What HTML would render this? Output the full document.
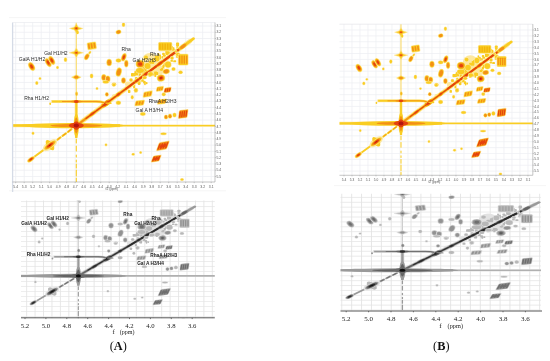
<!DOCTYPE html>
<html><head><meta charset="utf-8"><style>
html,body{margin:0;padding:0;background:#fff;}
svg{display:block;}
</style></head><body>
<svg width="550" height="361" viewBox="0 0 550 361">
<defs>
<filter id="bl" x="-5%" y="-5%" width="110%" height="110%"><feGaussianBlur stdDeviation="0.6"/></filter>
<clipPath id="cA"><rect x="12.5" y="22.5" width="202.5" height="159.5"/></clipPath>
<clipPath id="cB"><rect x="10.9" y="19.7" width="205.5" height="161.2"/></clipPath>
<clipPath id="cAb"><rect x="21" y="200.5" width="193.8" height="117.7"/></clipPath>
<clipPath id="cBb"><rect x="340.5" y="193.7" width="200.5" height="116.7"/></clipPath>
</defs>
<rect width="550" height="361" fill="#fff"/>
<g stroke="#eeeeee" stroke-width="0.6">
<line x1="9" y1="17.6" x2="226" y2="17.6"/>
<line x1="9" y1="190.8" x2="226" y2="190.8"/>
<line x1="334" y1="185.6" x2="546" y2="185.6"/>
</g>
<g clip-path="url(#cA)" filter="url(#bl)"><g stroke="#eceef2" stroke-width="0.75"><line x1="7.20" y1="10.0" x2="7.20" y2="195.0"/><line x1="15.70" y1="10.0" x2="15.70" y2="195.0"/><line x1="24.20" y1="10.0" x2="24.20" y2="195.0"/><line x1="32.70" y1="10.0" x2="32.70" y2="195.0"/><line x1="41.20" y1="10.0" x2="41.20" y2="195.0"/><line x1="49.70" y1="10.0" x2="49.70" y2="195.0"/><line x1="58.20" y1="10.0" x2="58.20" y2="195.0"/><line x1="66.70" y1="10.0" x2="66.70" y2="195.0"/><line x1="75.20" y1="10.0" x2="75.20" y2="195.0"/><line x1="83.70" y1="10.0" x2="83.70" y2="195.0"/><line x1="92.20" y1="10.0" x2="92.20" y2="195.0"/><line x1="100.70" y1="10.0" x2="100.70" y2="195.0"/><line x1="109.20" y1="10.0" x2="109.20" y2="195.0"/><line x1="117.70" y1="10.0" x2="117.70" y2="195.0"/><line x1="126.20" y1="10.0" x2="126.20" y2="195.0"/><line x1="134.70" y1="10.0" x2="134.70" y2="195.0"/><line x1="143.20" y1="10.0" x2="143.20" y2="195.0"/><line x1="151.70" y1="10.0" x2="151.70" y2="195.0"/><line x1="160.20" y1="10.0" x2="160.20" y2="195.0"/><line x1="168.70" y1="10.0" x2="168.70" y2="195.0"/><line x1="177.20" y1="10.0" x2="177.20" y2="195.0"/><line x1="185.70" y1="10.0" x2="185.70" y2="195.0"/><line x1="194.20" y1="10.0" x2="194.20" y2="195.0"/><line x1="202.70" y1="10.0" x2="202.70" y2="195.0"/><line x1="211.20" y1="10.0" x2="211.20" y2="195.0"/><line x1="219.70" y1="10.0" x2="219.70" y2="195.0"/></g><g stroke="#eceef2" stroke-width="0.75"><line x1="0.0" y1="19.73" x2="230.0" y2="19.73"/><line x1="0.0" y1="26.00" x2="230.0" y2="26.00"/><line x1="0.0" y1="32.27" x2="230.0" y2="32.27"/><line x1="0.0" y1="38.54" x2="230.0" y2="38.54"/><line x1="0.0" y1="44.81" x2="230.0" y2="44.81"/><line x1="0.0" y1="51.08" x2="230.0" y2="51.08"/><line x1="0.0" y1="57.35" x2="230.0" y2="57.35"/><line x1="0.0" y1="63.62" x2="230.0" y2="63.62"/><line x1="0.0" y1="69.89" x2="230.0" y2="69.89"/><line x1="0.0" y1="76.16" x2="230.0" y2="76.16"/><line x1="0.0" y1="82.43" x2="230.0" y2="82.43"/><line x1="0.0" y1="88.70" x2="230.0" y2="88.70"/><line x1="0.0" y1="94.97" x2="230.0" y2="94.97"/><line x1="0.0" y1="101.24" x2="230.0" y2="101.24"/><line x1="0.0" y1="107.51" x2="230.0" y2="107.51"/><line x1="0.0" y1="113.78" x2="230.0" y2="113.78"/><line x1="0.0" y1="120.05" x2="230.0" y2="120.05"/><line x1="0.0" y1="126.32" x2="230.0" y2="126.32"/><line x1="0.0" y1="132.59" x2="230.0" y2="132.59"/><line x1="0.0" y1="138.86" x2="230.0" y2="138.86"/><line x1="0.0" y1="145.13" x2="230.0" y2="145.13"/><line x1="0.0" y1="151.40" x2="230.0" y2="151.40"/><line x1="0.0" y1="157.67" x2="230.0" y2="157.67"/><line x1="0.0" y1="163.94" x2="230.0" y2="163.94"/><line x1="0.0" y1="170.21" x2="230.0" y2="170.21"/><line x1="0.0" y1="176.48" x2="230.0" y2="176.48"/><line x1="0.0" y1="182.75" x2="230.0" y2="182.75"/></g><ellipse cx="150.00" cy="60.00" rx="8.00" ry="7.00" fill="#fde8a0"/><ellipse cx="158.00" cy="70.00" rx="7.00" ry="5.00" fill="#fde8a0"/><ellipse cx="143.00" cy="72.00" rx="5.00" ry="4.50" fill="#fde8a0"/><ellipse cx="170.00" cy="50.00" rx="5.00" ry="4.00" fill="#fde8a0"/><ellipse cx="140.00" cy="80.00" rx="3.00" ry="2.50" fill="#fde8a0"/><ellipse cx="128.00" cy="84.00" rx="3.00" ry="2.50" fill="#fde8a0"/><ellipse cx="115.00" cy="96.00" rx="3.00" ry="2.00" fill="#fde8a0"/><rect x="144.05" y="67.49" width="1.58" height="3.61" rx="0.7" fill="#f9cd24"/><rect x="131.96" y="73.30" width="1.86" height="1.99" rx="0.7" fill="#f9cd24"/><rect x="148.63" y="66.12" width="2.22" height="3.62" rx="0.7" fill="#f9cd24"/><rect x="133.19" y="74.28" width="2.49" height="1.94" rx="0.7" fill="#f9cd24"/><rect x="157.66" y="52.98" width="1.58" height="3.69" rx="0.7" fill="#f9cd24"/><rect x="141.82" y="68.00" width="2.47" height="3.03" rx="0.7" fill="#f9cd24"/><rect x="162.17" y="52.75" width="2.59" height="2.62" rx="0.7" fill="#f9cd24"/><rect x="155.21" y="57.93" width="2.55" height="2.89" rx="0.7" fill="#f9cd24"/><rect x="154.11" y="71.42" width="3.07" height="2.60" rx="0.7" fill="#f9cd24"/><rect x="139.96" y="68.39" width="1.91" height="3.06" rx="0.7" fill="#f9cd24"/><rect x="154.32" y="72.97" width="1.99" height="3.96" rx="0.7" fill="#f9cd24"/><rect x="133.10" y="84.51" width="2.08" height="3.85" rx="0.7" fill="#f9cd24"/><rect x="148.69" y="60.88" width="2.47" height="3.73" rx="0.7" fill="#f9cd24"/><rect x="143.07" y="80.70" width="2.49" height="2.80" rx="0.7" fill="#f9cd24"/><rect x="170.36" y="59.91" width="2.63" height="1.93" rx="0.7" fill="#f9cd24"/><rect x="163.40" y="63.17" width="2.16" height="3.27" rx="0.7" fill="#f9cd24"/><rect x="127.90" y="90.11" width="2.54" height="2.89" rx="0.7" fill="#f9cd24"/><rect x="138.39" y="80.97" width="1.92" height="2.66" rx="0.7" fill="#f9cd24"/><rect x="172.22" y="48.66" width="2.18" height="2.41" rx="0.7" fill="#f9cd24"/><rect x="134.13" y="89.59" width="1.97" height="2.71" rx="0.7" fill="#f9cd24"/><rect x="145.78" y="81.99" width="1.76" height="2.19" rx="0.7" fill="#f9cd24"/><rect x="138.61" y="74.61" width="2.91" height="2.20" rx="0.7" fill="#f9cd24"/><rect x="141.60" y="69.20" width="2.13" height="3.05" rx="0.7" fill="#f9cd24"/><rect x="176.07" y="42.58" width="2.98" height="3.89" rx="0.7" fill="#f9cd24"/><rect x="162.30" y="65.03" width="2.17" height="2.86" rx="0.7" fill="#f9cd24"/><rect x="147.90" y="67.71" width="1.85" height="2.16" rx="0.7" fill="#f9cd24"/><rect x="144.45" y="69.37" width="2.46" height="2.98" rx="0.7" fill="#f9cd24"/><rect x="176.42" y="46.28" width="1.85" height="2.63" rx="0.7" fill="#f9cd24"/><rect x="159.84" y="68.75" width="2.31" height="2.05" rx="0.7" fill="#f9cd24"/><rect x="152.36" y="73.46" width="2.03" height="2.12" rx="0.7" fill="#f9cd24"/><rect x="165.64" y="62.93" width="2.68" height="2.94" rx="0.7" fill="#f9cd24"/><rect x="137.46" y="82.00" width="2.42" height="1.86" rx="0.7" fill="#f9cd24"/><rect x="154.49" y="57.84" width="1.94" height="2.61" rx="0.7" fill="#f9cd24"/><rect x="135.27" y="73.05" width="2.82" height="2.53" rx="0.7" fill="#f9cd24"/><rect x="138.15" y="68.38" width="2.89" height="3.43" rx="0.7" fill="#f9cd24"/><rect x="139.02" y="82.74" width="1.55" height="1.86" rx="0.7" fill="#f9cd24"/><rect x="141.27" y="79.14" width="2.53" height="2.56" rx="0.7" fill="#f9cd24"/><rect x="168.99" y="64.56" width="2.12" height="2.29" rx="0.7" fill="#f9cd24"/><rect x="138.64" y="71.48" width="2.32" height="3.97" rx="0.7" fill="#f9cd24"/><rect x="158.43" y="55.82" width="2.61" height="3.56" rx="0.7" fill="#f9cd24"/><rect x="130.99" y="72.93" width="2.83" height="3.45" rx="0.7" fill="#f9cd24"/><rect x="151.57" y="62.05" width="2.58" height="1.99" rx="0.7" fill="#f9cd24"/><rect x="175.82" y="55.70" width="2.76" height="1.99" rx="0.7" fill="#f9cd24"/><rect x="135.01" y="77.00" width="2.50" height="2.82" rx="0.7" fill="#f9cd24"/><rect x="161.06" y="67.86" width="2.10" height="3.01" rx="0.7" fill="#f9cd24"/><rect x="133.44" y="72.69" width="2.73" height="2.03" rx="0.7" fill="#f9cd24"/><rect x="165.48" y="50.76" width="2.98" height="3.62" rx="0.7" fill="#f9cd24"/><rect x="137.80" y="81.46" width="2.35" height="3.48" rx="0.7" fill="#f9cd24"/><rect x="144.15" y="81.71" width="1.60" height="3.43" rx="0.7" fill="#f9cd24"/><rect x="173.18" y="60.26" width="2.99" height="2.09" rx="0.7" fill="#f9cd24"/><rect x="134.49" y="70.78" width="2.82" height="3.14" rx="0.7" fill="#f9cd24"/><rect x="167.20" y="51.80" width="2.30" height="3.40" rx="0.7" fill="#f9cd24"/><rect x="155.74" y="71.96" width="2.40" height="2.86" rx="0.7" fill="#f9cd24"/><rect x="167.39" y="51.16" width="1.97" height="3.50" rx="0.7" fill="#f9cd24"/><rect x="152.88" y="58.06" width="3.05" height="2.78" rx="0.7" fill="#f9cd24"/><rect x="158.72" y="54.42" width="2.27" height="2.97" rx="0.7" fill="#f9cd24"/><rect x="151.36" y="59.12" width="2.99" height="3.87" rx="0.7" fill="#f9cd24"/><rect x="140.63" y="67.40" width="1.73" height="2.07" rx="0.7" fill="#f9cd24"/><rect x="149.88" y="61.52" width="2.23" height="2.27" rx="0.7" fill="#f9cd24"/><rect x="142.86" y="64.65" width="1.76" height="3.38" rx="0.7" fill="#f9cd24"/><rect x="161.47" y="55.95" width="1.73" height="2.83" rx="0.7" fill="#f9cd24"/><rect x="165.66" y="50.95" width="2.33" height="3.98" rx="0.7" fill="#f9cd24"/><rect x="169.69" y="45.97" width="3.19" height="2.69" rx="0.7" fill="#f9cd24"/><rect x="148.54" y="74.96" width="2.73" height="1.84" rx="0.7" fill="#f9cd24"/><rect x="155.73" y="72.17" width="2.15" height="2.94" rx="0.7" fill="#f9cd24"/><rect x="141.83" y="71.35" width="3.06" height="2.30" rx="0.7" fill="#f9cd24"/><rect x="172.79" y="47.17" width="1.57" height="3.51" rx="0.7" fill="#f9cd24"/><rect x="140.59" y="66.52" width="2.94" height="3.29" rx="0.7" fill="#f9cd24"/><rect x="175.66" y="52.82" width="3.06" height="3.06" rx="0.7" fill="#f9cd24"/><rect x="162.99" y="54.52" width="2.86" height="2.20" rx="0.7" fill="#f9cd24"/><line x1="33.00" y1="157.79" x2="44.00" y2="149.62" stroke="#f9cd24" stroke-width="2.0" stroke-linecap="round"/><line x1="57.50" y1="139.60" x2="60.50" y2="137.37" stroke="#f9cd24" stroke-width="2.2" stroke-linecap="round"/><line x1="58.00" y1="139.23" x2="60.00" y2="137.74" stroke="#f39012" stroke-width="0.9" stroke-linecap="round"/><line x1="62.50" y1="135.89" x2="66.00" y2="133.29" stroke="#f9cd24" stroke-width="2.2" stroke-linecap="round"/><line x1="63.00" y1="135.51" x2="65.50" y2="133.66" stroke="#f39012" stroke-width="0.9" stroke-linecap="round"/><line x1="68.00" y1="131.80" x2="71.50" y2="129.20" stroke="#f9cd24" stroke-width="2.2" stroke-linecap="round"/><line x1="68.50" y1="131.43" x2="71.00" y2="129.57" stroke="#f39012" stroke-width="0.9" stroke-linecap="round"/><line x1="79.00" y1="123.63" x2="190.00" y2="41.22" stroke="#fde8a0" stroke-width="4.6" stroke-linecap="round"/><line x1="78.00" y1="124.38" x2="193.50" y2="38.62" stroke="#f9cd24" stroke-width="2.8" stroke-linecap="round"/><line x1="80.00" y1="122.89" x2="186.00" y2="44.19" stroke="#f39012" stroke-width="1.8" stroke-linecap="round"/><line x1="126.00" y1="88.74" x2="178.00" y2="50.13" stroke="#e4420c" stroke-width="1.9" stroke-linecap="round"/><ellipse cx="92.50" cy="113.61" rx="5.00" ry="1.70" fill="#f9cd24" transform="rotate(-36.6 92.50 113.61)"/><ellipse cx="92.50" cy="113.61" rx="4.00" ry="1.36" fill="#f39012" transform="rotate(-36.6 92.50 113.61)"/><ellipse cx="92.50" cy="113.61" rx="2.50" ry="0.85" fill="#e4420c" transform="rotate(-36.6 92.50 113.61)"/><ellipse cx="106.00" cy="103.59" rx="6.50" ry="2.70" fill="#f9cd24" transform="rotate(-36.6 106.00 103.59)"/><ellipse cx="106.00" cy="103.59" rx="5.20" ry="2.16" fill="#f39012" transform="rotate(-36.6 106.00 103.59)"/><ellipse cx="106.00" cy="103.59" rx="3.25" ry="1.35" fill="#e4420c" transform="rotate(-36.6 106.00 103.59)"/><ellipse cx="106.00" cy="103.59" rx="1.30" ry="0.54" fill="#b3120a" transform="rotate(-36.6 106.00 103.59)"/><ellipse cx="118.50" cy="94.31" rx="3.50" ry="1.90" fill="#f9cd24" transform="rotate(-36.6 118.50 94.31)"/><ellipse cx="118.50" cy="94.31" rx="2.80" ry="1.52" fill="#f39012" transform="rotate(-36.6 118.50 94.31)"/><ellipse cx="118.50" cy="94.31" rx="1.75" ry="0.95" fill="#e4420c" transform="rotate(-36.6 118.50 94.31)"/><ellipse cx="137.00" cy="80.57" rx="3.50" ry="1.80" fill="#f9cd24" transform="rotate(-36.6 137.00 80.57)"/><ellipse cx="137.00" cy="80.57" rx="2.80" ry="1.44" fill="#f39012" transform="rotate(-36.6 137.00 80.57)"/><ellipse cx="137.00" cy="80.57" rx="1.75" ry="0.90" fill="#e4420c" transform="rotate(-36.6 137.00 80.57)"/><ellipse cx="146.00" cy="73.89" rx="5.00" ry="2.10" fill="#f9cd24" transform="rotate(-36.6 146.00 73.89)"/><ellipse cx="146.00" cy="73.89" rx="4.00" ry="1.68" fill="#f39012" transform="rotate(-36.6 146.00 73.89)"/><ellipse cx="146.00" cy="73.89" rx="2.50" ry="1.05" fill="#e4420c" transform="rotate(-36.6 146.00 73.89)"/><ellipse cx="146.00" cy="73.89" rx="1.00" ry="0.42" fill="#b3120a" transform="rotate(-36.6 146.00 73.89)"/><ellipse cx="160.00" cy="63.50" rx="4.50" ry="2.00" fill="#f9cd24" transform="rotate(-36.6 160.00 63.50)"/><ellipse cx="160.00" cy="63.50" rx="3.60" ry="1.60" fill="#f39012" transform="rotate(-36.6 160.00 63.50)"/><ellipse cx="160.00" cy="63.50" rx="2.25" ry="1.00" fill="#e4420c" transform="rotate(-36.6 160.00 63.50)"/><ellipse cx="183.00" cy="46.42" rx="4.50" ry="1.90" fill="#f9cd24" transform="rotate(-36.6 183.00 46.42)"/><ellipse cx="183.00" cy="46.42" rx="3.60" ry="1.52" fill="#f39012" transform="rotate(-36.6 183.00 46.42)"/><line x1="130.00" y1="85.77" x2="176.00" y2="51.62" stroke="#e4420c" stroke-width="1.4" stroke-linecap="round"/><line x1="86.00" y1="118.44" x2="126.00" y2="88.74" stroke="#e4420c" stroke-width="1.1" stroke-linecap="round"/><ellipse cx="50.00" cy="145.17" rx="8.50" ry="4.00" fill="#fde8a0" transform="rotate(-36.6 50.00 145.17)"/><ellipse cx="50.00" cy="145.17" rx="3.00" ry="6.00" fill="#f9cd24" transform="rotate(-36.6 50.00 145.17)"/><ellipse cx="50.00" cy="145.17" rx="7.50" ry="2.80" fill="#fde8a0" transform="rotate(-36.6 50.00 145.17)"/><ellipse cx="50.00" cy="145.17" rx="7.00" ry="2.30" fill="#f9cd24" transform="rotate(-36.6 50.00 145.17)"/><ellipse cx="50.00" cy="145.17" rx="5.60" ry="1.84" fill="#f39012" transform="rotate(-36.6 50.00 145.17)"/><ellipse cx="50.00" cy="145.17" rx="3.50" ry="1.15" fill="#e4420c" transform="rotate(-36.6 50.00 145.17)"/><ellipse cx="50.00" cy="145.17" rx="1.40" ry="0.46" fill="#b3120a" transform="rotate(-36.6 50.00 145.17)"/><ellipse cx="31.00" cy="159.27" rx="4.50" ry="2.20" fill="#fde8a0" transform="rotate(-36.6 31.00 159.27)"/><ellipse cx="31.00" cy="159.27" rx="4.00" ry="1.70" fill="#f9cd24" transform="rotate(-36.6 31.00 159.27)"/><ellipse cx="31.00" cy="159.27" rx="3.20" ry="1.36" fill="#f39012" transform="rotate(-36.6 31.00 159.27)"/><ellipse cx="31.00" cy="159.27" rx="2.00" ry="0.85" fill="#e4420c" transform="rotate(-36.6 31.00 159.27)"/><path d="M51 101.5 L96 101.5 Q101 101.5 104 102.7" stroke="#fde8a0" stroke-width="3.0" fill="none"/><path d="M52 101.5 L96 101.5 Q101 101.5 104 102.7" stroke="#f9cd24" stroke-width="2.0" fill="none"/><path d="M62 101.5 L96 101.5 Q101 101.5 104 102.7" stroke="#f39012" stroke-width="0.9" fill="none"/><line x1="106" y1="103.1" x2="111" y2="103.3" stroke="#f9cd24" stroke-width="1.4" stroke-linecap="round"/><ellipse cx="50.20" cy="103.80" rx="0.90" ry="1.20" fill="#f9cd24"/><line x1="76.3" y1="10.0" x2="76.3" y2="101.5" stroke="#fde8a0" stroke-width="1.0"/><line x1="76.3" y1="10.0" x2="76.3" y2="101.5" stroke="#f9cd24" stroke-width="0.45"/><line x1="76.3" y1="101.5" x2="76.3" y2="125.6" stroke="#fde8a0" stroke-width="3.2"/><line x1="76.3" y1="101.5" x2="76.3" y2="125.6" stroke="#f9cd24" stroke-width="2.0"/><line x1="76.3" y1="125.6" x2="76.3" y2="138" stroke="#f9cd24" stroke-width="2.4"/><line x1="76.3" y1="139" x2="76.3" y2="143" stroke="#f9cd24" stroke-width="1.1" stroke-linecap="round"/><line x1="76.3" y1="146" x2="76.3" y2="151" stroke="#f9cd24" stroke-width="1.1" stroke-linecap="round"/><line x1="76.3" y1="155" x2="76.3" y2="157" stroke="#f9cd24" stroke-width="1.1" stroke-linecap="round"/><line x1="76.3" y1="160" x2="76.3" y2="162" stroke="#f9cd24" stroke-width="1.1" stroke-linecap="round"/><line x1="76.3" y1="164" x2="76.3" y2="168" stroke="#f9cd24" stroke-width="1.1" stroke-linecap="round"/><line x1="76.3" y1="170" x2="76.3" y2="176" stroke="#f9cd24" stroke-width="1.1" stroke-linecap="round"/><line x1="76.3" y1="178" x2="76.3" y2="182" stroke="#f9cd24" stroke-width="1.1" stroke-linecap="round"/><ellipse cx="76.60" cy="93.80" rx="0.90" ry="1.60" fill="#f39012"/><ellipse cx="76.60" cy="93.80" rx="1.50" ry="2.20" fill="#f9cd24" opacity="0.6"/><ellipse cx="76.30" cy="101.50" rx="6.00" ry="1.20" fill="#f39012"/><ellipse cx="76.30" cy="101.50" rx="2.40" ry="1.50" fill="#e4420c"/><line x1="0.0" y1="125.6" x2="120" y2="125.6" stroke="#fde8a0" stroke-width="3.4"/><line x1="120" y1="125.6" x2="230.0" y2="125.6" stroke="#fde8a0" stroke-width="2.4"/><line x1="0.0" y1="125.6" x2="120" y2="125.6" stroke="#f9cd24" stroke-width="2.5"/><line x1="120" y1="125.6" x2="230.0" y2="125.6" stroke="#f9cd24" stroke-width="1.4"/><ellipse cx="72.30" cy="125.60" rx="52.00" ry="2.60" fill="#f9cd24"/><ellipse cx="76.30" cy="125.60" rx="26.00" ry="1.60" fill="#f39012"/><ellipse cx="76.30" cy="125.60" rx="2.60" ry="12.00" fill="#f9cd24"/><ellipse cx="76.30" cy="125.60" rx="1.80" ry="8.00" fill="#f39012"/><ellipse cx="76.30" cy="125.60" rx="7.50" ry="2.80" fill="#e4420c"/><ellipse cx="76.30" cy="125.60" rx="3.00" ry="4.20" fill="#e4420c"/><ellipse cx="76.30" cy="125.60" rx="2.60" ry="2.00" fill="#b3120a"/><polygon points="69.50,28.40 74.40,26.88 76.30,23.40 78.20,26.88 83.10,28.40 78.20,29.92 76.30,33.40 74.40,29.92" fill="#f9cd24" stroke="#fde8a0" stroke-width="0.6" stroke-linejoin="round"/><ellipse cx="76.30" cy="28.40" rx="2.00" ry="1.40" fill="#f39012"/><ellipse cx="76.30" cy="28.40" rx="1.00" ry="0.80" fill="#e4420c"/><ellipse cx="77.60" cy="32.40" rx="1.20" ry="1.80" fill="#f9cd24"/><polygon points="69.10,52.80 74.40,51.28 76.30,47.60 78.20,51.28 83.50,52.80 78.20,54.32 76.30,58.00 74.40,54.32" fill="#f9cd24" stroke="#fde8a0" stroke-width="0.6" stroke-linejoin="round"/><ellipse cx="76.30" cy="52.80" rx="2.00" ry="1.40" fill="#f39012"/><ellipse cx="76.30" cy="52.80" rx="1.00" ry="0.80" fill="#e4420c"/><polygon points="71.50,77.20 74.40,75.68 76.30,74.60 78.20,75.68 81.10,77.20 78.20,78.72 76.30,79.80 74.40,78.72" fill="#f9cd24" stroke="#fde8a0" stroke-width="0.6" stroke-linejoin="round"/><ellipse cx="76.30" cy="77.20" rx="2.00" ry="1.40" fill="#f39012"/><ellipse cx="31.60" cy="66.50" rx="3.00" ry="4.80" fill="#fde8a0" transform="rotate(-30.0 31.60 66.50)"/><ellipse cx="31.60" cy="66.50" rx="2.50" ry="4.30" fill="#f9cd24" transform="rotate(-30.0 31.60 66.50)"/><ellipse cx="31.60" cy="66.50" rx="2.00" ry="3.44" fill="#f39012" transform="rotate(-30.0 31.60 66.50)"/><ellipse cx="31.60" cy="66.50" rx="1.25" ry="2.15" fill="#e4420c" transform="rotate(-30.0 31.60 66.50)"/><ellipse cx="48.20" cy="62.60" rx="2.70" ry="4.90" fill="#fde8a0" transform="rotate(-30.0 48.20 62.60)"/><ellipse cx="48.20" cy="62.60" rx="2.20" ry="4.40" fill="#f9cd24" transform="rotate(-30.0 48.20 62.60)"/><ellipse cx="48.20" cy="62.60" rx="1.76" ry="3.52" fill="#f39012" transform="rotate(-30.0 48.20 62.60)"/><ellipse cx="48.20" cy="62.60" rx="1.10" ry="2.20" fill="#e4420c" transform="rotate(-30.0 48.20 62.60)"/><ellipse cx="51.80" cy="60.40" rx="2.70" ry="4.90" fill="#fde8a0" transform="rotate(-30.0 51.80 60.40)"/><ellipse cx="51.80" cy="60.40" rx="2.20" ry="4.40" fill="#f9cd24" transform="rotate(-30.0 51.80 60.40)"/><ellipse cx="51.80" cy="60.40" rx="1.76" ry="3.52" fill="#f39012" transform="rotate(-30.0 51.80 60.40)"/><ellipse cx="51.80" cy="60.40" rx="1.10" ry="2.20" fill="#e4420c" transform="rotate(-30.0 51.80 60.40)"/><ellipse cx="57.50" cy="67.50" rx="1.50" ry="1.70" fill="#fde8a0"/><ellipse cx="57.50" cy="67.50" rx="1.00" ry="1.20" fill="#f9cd24"/><ellipse cx="65.50" cy="59.70" rx="1.80" ry="2.40" fill="#fde8a0"/><ellipse cx="65.50" cy="59.70" rx="1.30" ry="1.90" fill="#f9cd24"/><ellipse cx="36.80" cy="83.00" rx="1.70" ry="2.00" fill="#fde8a0"/><ellipse cx="36.80" cy="83.00" rx="1.20" ry="1.50" fill="#f9cd24"/><ellipse cx="40.00" cy="78.60" rx="1.50" ry="1.50" fill="#fde8a0"/><ellipse cx="40.00" cy="78.60" rx="1.00" ry="1.00" fill="#f9cd24"/><ellipse cx="86.80" cy="56.80" rx="2.40" ry="3.70" fill="#fde8a0" transform="rotate(30.0 86.80 56.80)"/><ellipse cx="86.80" cy="56.80" rx="1.90" ry="3.20" fill="#f9cd24" transform="rotate(30.0 86.80 56.80)"/><ellipse cx="86.80" cy="56.80" rx="1.52" ry="2.56" fill="#f39012" transform="rotate(30.0 86.80 56.80)"/><ellipse cx="89.80" cy="52.60" rx="1.30" ry="2.00" fill="#fde8a0" transform="rotate(40.0 89.80 52.60)"/><ellipse cx="89.80" cy="52.60" rx="0.80" ry="1.50" fill="#f9cd24" transform="rotate(40.0 89.80 52.60)"/><ellipse cx="91.60" cy="76.00" rx="1.90" ry="2.40" fill="#fde8a0"/><ellipse cx="91.60" cy="76.00" rx="1.40" ry="1.90" fill="#f9cd24"/><ellipse cx="123.50" cy="24.70" rx="1.80" ry="2.40" fill="#fde8a0"/><ellipse cx="123.50" cy="24.70" rx="1.30" ry="1.90" fill="#f9cd24"/><ellipse cx="118.50" cy="32.00" rx="3.00" ry="2.40" fill="#fde8a0" transform="rotate(-15.0 118.50 32.00)"/><ellipse cx="118.50" cy="32.00" rx="2.50" ry="1.90" fill="#f9cd24" transform="rotate(-15.0 118.50 32.00)"/><ellipse cx="118.50" cy="32.00" rx="2.00" ry="1.52" fill="#f39012" transform="rotate(-15.0 118.50 32.00)"/><ellipse cx="109.20" cy="62.50" rx="2.90" ry="3.80" fill="#fde8a0"/><ellipse cx="109.20" cy="62.50" rx="2.40" ry="3.30" fill="#f9cd24"/><ellipse cx="109.20" cy="62.50" rx="1.92" ry="2.64" fill="#f39012"/><ellipse cx="118.50" cy="60.50" rx="3.00" ry="2.15" fill="#fde8a0"/><ellipse cx="118.50" cy="60.50" rx="2.50" ry="1.65" fill="#f9cd24"/><ellipse cx="123.80" cy="57.20" rx="2.60" ry="4.40" fill="#fde8a0" transform="rotate(20.0 123.80 57.20)"/><ellipse cx="123.80" cy="57.20" rx="2.10" ry="3.90" fill="#f9cd24" transform="rotate(20.0 123.80 57.20)"/><ellipse cx="123.80" cy="57.20" rx="1.68" ry="3.12" fill="#f39012" transform="rotate(20.0 123.80 57.20)"/><ellipse cx="123.80" cy="57.20" rx="1.05" ry="1.95" fill="#e4420c" transform="rotate(20.0 123.80 57.20)"/><ellipse cx="126.30" cy="63.60" rx="2.30" ry="3.90" fill="#fde8a0"/><ellipse cx="126.30" cy="63.60" rx="1.80" ry="3.40" fill="#f9cd24"/><ellipse cx="126.30" cy="63.60" rx="1.44" ry="2.72" fill="#f39012"/><ellipse cx="118.80" cy="72.10" rx="3.00" ry="4.80" fill="#fde8a0" transform="rotate(15.0 118.80 72.10)"/><ellipse cx="118.80" cy="72.10" rx="2.50" ry="4.30" fill="#f9cd24" transform="rotate(15.0 118.80 72.10)"/><ellipse cx="118.80" cy="72.10" rx="2.00" ry="3.44" fill="#f39012" transform="rotate(15.0 118.80 72.10)"/><ellipse cx="103.80" cy="77.60" rx="2.75" ry="3.50" fill="#fde8a0"/><ellipse cx="103.80" cy="77.60" rx="2.25" ry="3.00" fill="#f9cd24"/><ellipse cx="103.80" cy="77.60" rx="1.80" ry="2.40" fill="#f39012"/><ellipse cx="107.80" cy="79.00" rx="2.75" ry="3.50" fill="#fde8a0"/><ellipse cx="107.80" cy="79.00" rx="2.25" ry="3.00" fill="#f9cd24"/><ellipse cx="107.80" cy="79.00" rx="1.80" ry="2.40" fill="#f39012"/><ellipse cx="105.80" cy="82.00" rx="3.50" ry="1.80" fill="#fde8a0"/><ellipse cx="105.80" cy="82.00" rx="3.00" ry="1.30" fill="#f9cd24"/><ellipse cx="114.00" cy="84.30" rx="2.50" ry="2.15" fill="#fde8a0"/><ellipse cx="114.00" cy="84.30" rx="2.00" ry="1.65" fill="#f9cd24"/><ellipse cx="123.50" cy="80.50" rx="2.50" ry="3.25" fill="#fde8a0"/><ellipse cx="123.50" cy="80.50" rx="2.00" ry="2.75" fill="#f9cd24"/><ellipse cx="123.50" cy="80.50" rx="1.60" ry="2.20" fill="#f39012"/><ellipse cx="106.90" cy="94.40" rx="2.00" ry="2.30" fill="#fde8a0"/><ellipse cx="106.90" cy="94.40" rx="1.50" ry="1.80" fill="#f9cd24"/><ellipse cx="106.90" cy="94.40" rx="1.20" ry="1.44" fill="#f39012"/><ellipse cx="118.40" cy="102.80" rx="2.75" ry="2.30" fill="#fde8a0"/><ellipse cx="118.40" cy="102.80" rx="2.25" ry="1.80" fill="#f9cd24"/><ellipse cx="132.20" cy="97.20" rx="1.70" ry="2.20" fill="#fde8a0"/><ellipse cx="132.20" cy="97.20" rx="1.20" ry="1.70" fill="#f9cd24"/><ellipse cx="136.00" cy="90.20" rx="2.20" ry="2.50" fill="#fde8a0"/><ellipse cx="136.00" cy="90.20" rx="1.70" ry="2.00" fill="#f9cd24"/><ellipse cx="136.00" cy="90.20" rx="1.36" ry="1.60" fill="#f39012"/><ellipse cx="113.80" cy="85.00" rx="2.00" ry="1.80" fill="#fde8a0"/><ellipse cx="113.80" cy="85.00" rx="1.50" ry="1.30" fill="#f9cd24"/><ellipse cx="97.00" cy="88.50" rx="1.50" ry="1.50" fill="#fde8a0"/><ellipse cx="97.00" cy="88.50" rx="1.00" ry="1.00" fill="#f9cd24"/><ellipse cx="178.00" cy="54.50" rx="2.50" ry="2.30" fill="#fde8a0"/><ellipse cx="178.00" cy="54.50" rx="2.00" ry="1.80" fill="#f9cd24"/><ellipse cx="176.00" cy="51.50" rx="1.50" ry="1.50" fill="#fde8a0"/><ellipse cx="176.00" cy="51.50" rx="1.00" ry="1.00" fill="#f9cd24"/><ellipse cx="140.20" cy="64.00" rx="4.70" ry="4.20" fill="#fde8a0"/><ellipse cx="140.20" cy="64.00" rx="4.20" ry="3.70" fill="#f9cd24"/><ellipse cx="140.20" cy="64.00" rx="3.36" ry="2.96" fill="#f39012"/><ellipse cx="140.20" cy="64.00" rx="2.10" ry="1.85" fill="#e4420c"/><ellipse cx="161.00" cy="78.00" rx="4.30" ry="3.80" fill="#fde8a0" transform="rotate(-10.0 161.00 78.00)"/><ellipse cx="161.00" cy="78.00" rx="3.80" ry="3.30" fill="#f9cd24" transform="rotate(-10.0 161.00 78.00)"/><ellipse cx="161.00" cy="78.00" rx="3.04" ry="2.64" fill="#f39012" transform="rotate(-10.0 161.00 78.00)"/><ellipse cx="161.00" cy="78.00" rx="1.90" ry="1.65" fill="#e4420c" transform="rotate(-10.0 161.00 78.00)"/><ellipse cx="161.00" cy="78.00" rx="0.76" ry="0.66" fill="#b3120a" transform="rotate(-10.0 161.00 78.00)"/><ellipse cx="166.20" cy="71.40" rx="3.80" ry="2.80" fill="#fde8a0" transform="rotate(-10.0 166.20 71.40)"/><ellipse cx="166.20" cy="71.40" rx="3.30" ry="2.30" fill="#f9cd24" transform="rotate(-10.0 166.20 71.40)"/><ellipse cx="166.20" cy="71.40" rx="2.64" ry="1.84" fill="#f39012" transform="rotate(-10.0 166.20 71.40)"/><ellipse cx="140.00" cy="70.50" rx="4.50" ry="3.00" fill="#fde8a0"/><ellipse cx="140.00" cy="70.50" rx="4.00" ry="2.50" fill="#f9cd24"/><ellipse cx="147.50" cy="66.00" rx="3.50" ry="3.50" fill="#fde8a0"/><ellipse cx="147.50" cy="66.00" rx="3.00" ry="3.00" fill="#f9cd24"/><ellipse cx="146.00" cy="57.50" rx="2.50" ry="2.50" fill="#fde8a0"/><ellipse cx="146.00" cy="57.50" rx="2.00" ry="2.00" fill="#f9cd24"/><ellipse cx="157.00" cy="58.50" rx="3.00" ry="3.50" fill="#fde8a0"/><ellipse cx="157.00" cy="58.50" rx="2.50" ry="3.00" fill="#f9cd24"/><ellipse cx="150.50" cy="74.00" rx="3.00" ry="2.50" fill="#fde8a0"/><ellipse cx="150.50" cy="74.00" rx="2.50" ry="2.00" fill="#f9cd24"/><ellipse cx="144.50" cy="77.50" rx="2.50" ry="2.00" fill="#fde8a0"/><ellipse cx="144.50" cy="77.50" rx="2.00" ry="1.50" fill="#f9cd24"/><ellipse cx="168.00" cy="64.50" rx="3.50" ry="3.50" fill="#fde8a0"/><ellipse cx="168.00" cy="64.50" rx="3.00" ry="3.00" fill="#f9cd24"/><ellipse cx="172.00" cy="58.00" rx="2.00" ry="2.00" fill="#fde8a0"/><ellipse cx="172.00" cy="58.00" rx="1.50" ry="1.50" fill="#f9cd24"/><ellipse cx="180.60" cy="72.30" rx="2.30" ry="2.00" fill="#fde8a0"/><ellipse cx="180.60" cy="72.30" rx="1.80" ry="1.50" fill="#f9cd24"/><ellipse cx="173.50" cy="69.00" rx="2.25" ry="2.00" fill="#fde8a0"/><ellipse cx="173.50" cy="69.00" rx="1.75" ry="1.50" fill="#f9cd24"/><ellipse cx="131.00" cy="80.00" rx="2.00" ry="2.00" fill="#fde8a0"/><ellipse cx="131.00" cy="80.00" rx="1.50" ry="1.50" fill="#f9cd24"/><ellipse cx="135.80" cy="90.20" rx="2.10" ry="2.40" fill="#fde8a0"/><ellipse cx="135.80" cy="90.20" rx="1.60" ry="1.90" fill="#f9cd24"/><ellipse cx="163.70" cy="94.30" rx="2.20" ry="2.10" fill="#fde8a0"/><ellipse cx="163.70" cy="94.30" rx="1.70" ry="1.60" fill="#f9cd24"/><ellipse cx="142.80" cy="114.00" rx="3.00" ry="1.90" fill="#fde8a0"/><ellipse cx="142.80" cy="114.00" rx="2.50" ry="1.40" fill="#f9cd24"/><ellipse cx="166.00" cy="117.00" rx="2.20" ry="2.60" fill="#fde8a0"/><ellipse cx="166.00" cy="117.00" rx="1.70" ry="2.10" fill="#f9cd24"/><ellipse cx="166.00" cy="117.00" rx="1.36" ry="1.68" fill="#f39012"/><ellipse cx="170.00" cy="116.20" rx="2.20" ry="2.60" fill="#fde8a0"/><ellipse cx="170.00" cy="116.20" rx="1.70" ry="2.10" fill="#f9cd24"/><ellipse cx="170.00" cy="116.20" rx="1.36" ry="1.68" fill="#f39012"/><ellipse cx="174.50" cy="115.00" rx="2.20" ry="2.50" fill="#fde8a0"/><ellipse cx="174.50" cy="115.00" rx="1.70" ry="2.00" fill="#f9cd24"/><ellipse cx="163.50" cy="133.80" rx="3.30" ry="1.50" fill="#fde8a0"/><ellipse cx="163.50" cy="133.80" rx="2.80" ry="1.00" fill="#f9cd24"/><ellipse cx="133.20" cy="154.20" rx="1.80" ry="1.50" fill="#fde8a0"/><ellipse cx="133.20" cy="154.20" rx="1.30" ry="1.00" fill="#f9cd24"/><ellipse cx="140.60" cy="152.60" rx="1.50" ry="1.50" fill="#fde8a0"/><ellipse cx="140.60" cy="152.60" rx="1.00" ry="1.00" fill="#f9cd24"/><ellipse cx="182.00" cy="179.50" rx="2.00" ry="1.50" fill="#fde8a0"/><ellipse cx="182.00" cy="179.50" rx="1.50" ry="1.00" fill="#f9cd24"/><ellipse cx="33.00" cy="133.20" rx="1.50" ry="1.70" fill="#fde8a0"/><ellipse cx="33.00" cy="133.20" rx="1.00" ry="1.20" fill="#f9cd24"/><ellipse cx="106.00" cy="144.80" rx="1.50" ry="1.60" fill="#fde8a0"/><ellipse cx="106.00" cy="144.80" rx="1.00" ry="1.10" fill="#f9cd24"/><g transform="translate(91.80 45.80) rotate(-8) skewX(0)"><rect x="-4.80" y="-3.90" width="9.60" height="7.80" rx="1.4" fill="#fde8a0"/><rect x="-4.20" y="-3.30" width="8.40" height="6.60" rx="1.0" fill="#f9cd24"/><rect x="-3.70" y="-2.51" width="1.68" height="5.02" rx="0.5" fill="#f39012"/><rect x="-0.90" y="-2.51" width="1.68" height="5.02" rx="0.5" fill="#f39012"/><rect x="1.90" y="-2.51" width="1.68" height="5.02" rx="0.5" fill="#f39012"/></g><g transform="translate(165.20 46.60) rotate(0) skewX(0)"><rect x="-7.10" y="-4.60" width="14.20" height="9.20" rx="1.4" fill="#fde8a0"/><rect x="-6.50" y="-4.00" width="13.00" height="8.00" rx="1.0" fill="#f9cd24"/><rect x="-6.03" y="-3.04" width="1.56" height="6.08" rx="0.5" fill="#f3b40c"/><rect x="-3.43" y="-3.04" width="1.56" height="6.08" rx="0.5" fill="#f3b40c"/><rect x="-0.83" y="-3.04" width="1.56" height="6.08" rx="0.5" fill="#f3b40c"/><rect x="1.77" y="-3.04" width="1.56" height="6.08" rx="0.5" fill="#f3b40c"/><rect x="4.37" y="-3.04" width="1.56" height="6.08" rx="0.5" fill="#f3b40c"/></g><g transform="translate(183.20 59.60) rotate(0) skewX(0)"><rect x="-5.30" y="-5.90" width="10.60" height="11.80" rx="1.4" fill="#fde8a0"/><rect x="-4.70" y="-5.30" width="9.40" height="10.60" rx="1.0" fill="#f9cd24"/><rect x="-4.28" y="-4.03" width="1.41" height="8.06" rx="0.5" fill="#f39012"/><rect x="-1.93" y="-4.03" width="1.41" height="8.06" rx="0.5" fill="#f39012"/><rect x="0.42" y="-4.03" width="1.41" height="8.06" rx="0.5" fill="#f39012"/><rect x="2.77" y="-4.03" width="1.41" height="8.06" rx="0.5" fill="#f39012"/></g><g transform="translate(147.70 94.10) rotate(-10) skewX(-20)"><rect x="-4.80" y="-3.00" width="9.60" height="6.00" rx="1.4" fill="#fde8a0"/><rect x="-4.20" y="-2.40" width="8.40" height="4.80" rx="1.0" fill="#f9cd24"/><rect x="-3.70" y="-1.82" width="1.68" height="3.65" rx="0.5" fill="#f39012"/><rect x="-0.90" y="-1.82" width="1.68" height="3.65" rx="0.5" fill="#f39012"/><rect x="1.90" y="-1.82" width="1.68" height="3.65" rx="0.5" fill="#f39012"/></g><g transform="translate(159.90 88.80) rotate(-8) skewX(-20)"><rect x="-3.80" y="-2.60" width="7.60" height="5.20" rx="1.4" fill="#fde8a0"/><rect x="-3.20" y="-2.00" width="6.40" height="4.00" rx="1.0" fill="#f9cd24"/><rect x="-2.82" y="-1.52" width="1.28" height="3.04" rx="0.5" fill="#f39012"/><rect x="-0.68" y="-1.52" width="1.28" height="3.04" rx="0.5" fill="#f39012"/><rect x="1.45" y="-1.52" width="1.28" height="3.04" rx="0.5" fill="#f39012"/></g><g transform="translate(167.60 90.00) rotate(-8) skewX(-20)"><rect x="-3.80" y="-2.70" width="7.60" height="5.40" rx="1.4" fill="#fde8a0"/><rect x="-3.20" y="-2.10" width="6.40" height="4.20" rx="1.0" fill="#f39012"/><rect x="-2.82" y="-1.60" width="1.28" height="3.19" rx="0.5" fill="#e4420c"/><rect x="-0.68" y="-1.60" width="1.28" height="3.19" rx="0.5" fill="#e4420c"/><rect x="1.45" y="-1.60" width="1.28" height="3.19" rx="0.5" fill="#e4420c"/></g><g transform="translate(139.70 103.00) rotate(-6) skewX(-20)"><rect x="-4.90" y="-2.90" width="9.80" height="5.80" rx="1.4" fill="#fde8a0"/><rect x="-4.30" y="-2.30" width="8.60" height="4.60" rx="1.0" fill="#f9cd24"/><rect x="-3.78" y="-1.75" width="1.72" height="3.50" rx="0.5" fill="#f39012"/><rect x="-0.92" y="-1.75" width="1.72" height="3.50" rx="0.5" fill="#f39012"/><rect x="1.95" y="-1.75" width="1.72" height="3.50" rx="0.5" fill="#f39012"/></g><g transform="translate(162.00 101.60) rotate(-6) skewX(-20)"><rect x="-4.60" y="-2.70" width="9.20" height="5.40" rx="1.4" fill="#fde8a0"/><rect x="-4.00" y="-2.10" width="8.00" height="4.20" rx="1.0" fill="#f9cd24"/><rect x="-3.52" y="-1.60" width="1.60" height="3.19" rx="0.5" fill="#f39012"/><rect x="-0.85" y="-1.60" width="1.60" height="3.19" rx="0.5" fill="#f39012"/><rect x="1.81" y="-1.60" width="1.60" height="3.19" rx="0.5" fill="#f39012"/></g><g transform="translate(183.20 114.00) rotate(-8) skewX(-15)"><rect x="-4.90" y="-4.40" width="9.80" height="8.80" rx="1.4" fill="#fde8a0"/><rect x="-4.30" y="-3.80" width="8.60" height="7.60" rx="1.0" fill="#f39012"/><rect x="-3.91" y="-2.89" width="1.29" height="5.78" rx="0.5" fill="#e4420c"/><rect x="-1.76" y="-2.89" width="1.29" height="5.78" rx="0.5" fill="#e4420c"/><rect x="0.39" y="-2.89" width="1.29" height="5.78" rx="0.5" fill="#e4420c"/><rect x="2.54" y="-2.89" width="1.29" height="5.78" rx="0.5" fill="#e4420c"/></g><g transform="translate(162.90 145.90) rotate(-10) skewX(-30)"><rect x="-5.70" y="-4.20" width="11.40" height="8.40" rx="1.4" fill="#fde8a0"/><rect x="-5.10" y="-3.60" width="10.20" height="7.20" rx="1.0" fill="#f39012"/><rect x="-4.64" y="-2.74" width="1.53" height="5.47" rx="0.5" fill="#e4420c"/><rect x="-2.09" y="-2.74" width="1.53" height="5.47" rx="0.5" fill="#e4420c"/><rect x="0.46" y="-2.74" width="1.53" height="5.47" rx="0.5" fill="#e4420c"/><rect x="3.01" y="-2.74" width="1.53" height="5.47" rx="0.5" fill="#e4420c"/><rect x="-3.06" y="-1.44" width="6.12" height="2.88" rx="0.6" fill="#e4420c"/></g><g transform="translate(156.20 158.60) rotate(-8) skewX(-30)"><rect x="-4.50" y="-3.30" width="9.00" height="6.60" rx="1.4" fill="#fde8a0"/><rect x="-3.90" y="-2.70" width="7.80" height="5.40" rx="1.0" fill="#f39012"/><rect x="-3.43" y="-2.05" width="1.56" height="4.10" rx="0.5" fill="#e4420c"/><rect x="-0.83" y="-2.05" width="1.56" height="4.10" rx="0.5" fill="#e4420c"/><rect x="1.77" y="-2.05" width="1.56" height="4.10" rx="0.5" fill="#e4420c"/><rect x="-2.34" y="-1.08" width="4.68" height="2.16" rx="0.6" fill="#e4420c"/></g></g><line x1="12.6" y1="22.5" x2="12.6" y2="192" stroke="#d5dbe6" stroke-width="1.3"/><line x1="12.5" y1="22.5" x2="215.0" y2="22.5" stroke="#e6e8ec" stroke-width="0.6"/><line x1="215.0" y1="22.5" x2="215.0" y2="182.0" stroke="#9a9a9a" stroke-width="0.6"/><line x1="12.5" y1="182.0" x2="215.0" y2="182.0" stroke="#9a9a9a" stroke-width="0.6"/><g stroke="#9a9a9a" stroke-width="0.5"><line x1="15.70" y1="182.0" x2="15.70" y2="183.2"/><line x1="24.20" y1="182.0" x2="24.20" y2="183.2"/><line x1="32.70" y1="182.0" x2="32.70" y2="183.2"/><line x1="41.20" y1="182.0" x2="41.20" y2="183.2"/><line x1="49.70" y1="182.0" x2="49.70" y2="183.2"/><line x1="58.20" y1="182.0" x2="58.20" y2="183.2"/><line x1="66.70" y1="182.0" x2="66.70" y2="183.2"/><line x1="75.20" y1="182.0" x2="75.20" y2="183.2"/><line x1="83.70" y1="182.0" x2="83.70" y2="183.2"/><line x1="92.20" y1="182.0" x2="92.20" y2="183.2"/><line x1="100.70" y1="182.0" x2="100.70" y2="183.2"/><line x1="109.20" y1="182.0" x2="109.20" y2="183.2"/><line x1="117.70" y1="182.0" x2="117.70" y2="183.2"/><line x1="126.20" y1="182.0" x2="126.20" y2="183.2"/><line x1="134.70" y1="182.0" x2="134.70" y2="183.2"/><line x1="143.20" y1="182.0" x2="143.20" y2="183.2"/><line x1="151.70" y1="182.0" x2="151.70" y2="183.2"/><line x1="160.20" y1="182.0" x2="160.20" y2="183.2"/><line x1="168.70" y1="182.0" x2="168.70" y2="183.2"/><line x1="177.20" y1="182.0" x2="177.20" y2="183.2"/><line x1="185.70" y1="182.0" x2="185.70" y2="183.2"/><line x1="194.20" y1="182.0" x2="194.20" y2="183.2"/><line x1="202.70" y1="182.0" x2="202.70" y2="183.2"/><line x1="211.20" y1="182.0" x2="211.20" y2="183.2"/><line x1="215.0" y1="26.00" x2="216.2" y2="26.00"/><line x1="215.0" y1="32.27" x2="216.2" y2="32.27"/><line x1="215.0" y1="38.54" x2="216.2" y2="38.54"/><line x1="215.0" y1="44.81" x2="216.2" y2="44.81"/><line x1="215.0" y1="51.08" x2="216.2" y2="51.08"/><line x1="215.0" y1="57.35" x2="216.2" y2="57.35"/><line x1="215.0" y1="63.62" x2="216.2" y2="63.62"/><line x1="215.0" y1="69.89" x2="216.2" y2="69.89"/><line x1="215.0" y1="76.16" x2="216.2" y2="76.16"/><line x1="215.0" y1="82.43" x2="216.2" y2="82.43"/><line x1="215.0" y1="88.70" x2="216.2" y2="88.70"/><line x1="215.0" y1="94.97" x2="216.2" y2="94.97"/><line x1="215.0" y1="101.24" x2="216.2" y2="101.24"/><line x1="215.0" y1="107.51" x2="216.2" y2="107.51"/><line x1="215.0" y1="113.78" x2="216.2" y2="113.78"/><line x1="215.0" y1="120.05" x2="216.2" y2="120.05"/><line x1="215.0" y1="126.32" x2="216.2" y2="126.32"/><line x1="215.0" y1="132.59" x2="216.2" y2="132.59"/><line x1="215.0" y1="138.86" x2="216.2" y2="138.86"/><line x1="215.0" y1="145.13" x2="216.2" y2="145.13"/><line x1="215.0" y1="151.40" x2="216.2" y2="151.40"/><line x1="215.0" y1="157.67" x2="216.2" y2="157.67"/><line x1="215.0" y1="163.94" x2="216.2" y2="163.94"/><line x1="215.0" y1="170.21" x2="216.2" y2="170.21"/><line x1="215.0" y1="176.48" x2="216.2" y2="176.48"/></g><g font-family="Liberation Sans, sans-serif" font-size="3.4" fill="#555"><text x="15.70" y="188.00" text-anchor="middle">5.4</text><text x="24.20" y="188.00" text-anchor="middle">5.3</text><text x="32.70" y="188.00" text-anchor="middle">5.2</text><text x="41.20" y="188.00" text-anchor="middle">5.1</text><text x="49.70" y="188.00" text-anchor="middle">5.0</text><text x="58.20" y="188.00" text-anchor="middle">4.9</text><text x="66.70" y="188.00" text-anchor="middle">4.8</text><text x="75.20" y="188.00" text-anchor="middle">4.7</text><text x="83.70" y="188.00" text-anchor="middle">4.6</text><text x="92.20" y="188.00" text-anchor="middle">4.5</text><text x="100.70" y="188.00" text-anchor="middle">4.4</text><text x="109.20" y="188.00" text-anchor="middle">4.3</text><text x="117.70" y="188.00" text-anchor="middle">4.2</text><text x="126.20" y="188.00" text-anchor="middle">4.1</text><text x="134.70" y="188.00" text-anchor="middle">4.0</text><text x="143.20" y="188.00" text-anchor="middle">3.9</text><text x="151.70" y="188.00" text-anchor="middle">3.8</text><text x="160.20" y="188.00" text-anchor="middle">3.7</text><text x="168.70" y="188.00" text-anchor="middle">3.6</text><text x="177.20" y="188.00" text-anchor="middle">3.5</text><text x="185.70" y="188.00" text-anchor="middle">3.4</text><text x="194.20" y="188.00" text-anchor="middle">3.3</text><text x="202.70" y="188.00" text-anchor="middle">3.2</text><text x="211.20" y="188.00" text-anchor="middle">3.1</text><text x="216.50" y="27.20">3.1</text><text x="216.50" y="33.47">3.2</text><text x="216.50" y="39.74">3.3</text><text x="216.50" y="46.01">3.4</text><text x="216.50" y="52.28">3.5</text><text x="216.50" y="58.55">3.6</text><text x="216.50" y="64.82">3.7</text><text x="216.50" y="71.09">3.8</text><text x="216.50" y="77.36">3.9</text><text x="216.50" y="83.63">4.0</text><text x="216.50" y="89.90">4.1</text><text x="216.50" y="96.17">4.2</text><text x="216.50" y="102.44">4.3</text><text x="216.50" y="108.71">4.4</text><text x="216.50" y="114.98">4.5</text><text x="216.50" y="121.25">4.6</text><text x="216.50" y="127.52">4.7</text><text x="216.50" y="133.79">4.8</text><text x="216.50" y="140.06">4.9</text><text x="216.50" y="146.33">5.0</text><text x="216.50" y="152.60">5.1</text><text x="216.50" y="158.87">5.2</text><text x="216.50" y="165.14">5.3</text><text x="216.50" y="171.41">5.4</text><text x="216.50" y="177.68">5.5</text><text x="105.5" y="190.30">f2 (ppm)</text></g><g font-family="Liberation Sans, sans-serif" font-size="5.0" fill="#2a2a2a"><text x="18.8" y="61.2">GalA H1/H2</text><text x="44.2" y="54.9">Gal H1/H2</text><text x="24.2" y="100.3">Rha H1/H2</text><text x="121.6" y="50.7">Rha</text><text x="150.0" y="55.7">Rha</text><text x="132.5" y="61.5">Gal H2/H3</text><text x="148.7" y="102.5">RhaA H2/H3</text><text x="135.5" y="111.6">Gal A H3/H4</text></g>
<g transform="translate(329.2 5.6) scale(0.941 0.938)"><g clip-path="url(#cB)" filter="url(#bl)"><g stroke="#eceef2" stroke-width="0.75"><line x1="7.20" y1="10.0" x2="7.20" y2="195.0"/><line x1="15.70" y1="10.0" x2="15.70" y2="195.0"/><line x1="24.20" y1="10.0" x2="24.20" y2="195.0"/><line x1="32.70" y1="10.0" x2="32.70" y2="195.0"/><line x1="41.20" y1="10.0" x2="41.20" y2="195.0"/><line x1="49.70" y1="10.0" x2="49.70" y2="195.0"/><line x1="58.20" y1="10.0" x2="58.20" y2="195.0"/><line x1="66.70" y1="10.0" x2="66.70" y2="195.0"/><line x1="75.20" y1="10.0" x2="75.20" y2="195.0"/><line x1="83.70" y1="10.0" x2="83.70" y2="195.0"/><line x1="92.20" y1="10.0" x2="92.20" y2="195.0"/><line x1="100.70" y1="10.0" x2="100.70" y2="195.0"/><line x1="109.20" y1="10.0" x2="109.20" y2="195.0"/><line x1="117.70" y1="10.0" x2="117.70" y2="195.0"/><line x1="126.20" y1="10.0" x2="126.20" y2="195.0"/><line x1="134.70" y1="10.0" x2="134.70" y2="195.0"/><line x1="143.20" y1="10.0" x2="143.20" y2="195.0"/><line x1="151.70" y1="10.0" x2="151.70" y2="195.0"/><line x1="160.20" y1="10.0" x2="160.20" y2="195.0"/><line x1="168.70" y1="10.0" x2="168.70" y2="195.0"/><line x1="177.20" y1="10.0" x2="177.20" y2="195.0"/><line x1="185.70" y1="10.0" x2="185.70" y2="195.0"/><line x1="194.20" y1="10.0" x2="194.20" y2="195.0"/><line x1="202.70" y1="10.0" x2="202.70" y2="195.0"/><line x1="211.20" y1="10.0" x2="211.20" y2="195.0"/><line x1="219.70" y1="10.0" x2="219.70" y2="195.0"/></g><g stroke="#eceef2" stroke-width="0.75"><line x1="0.0" y1="19.73" x2="230.0" y2="19.73"/><line x1="0.0" y1="26.00" x2="230.0" y2="26.00"/><line x1="0.0" y1="32.27" x2="230.0" y2="32.27"/><line x1="0.0" y1="38.54" x2="230.0" y2="38.54"/><line x1="0.0" y1="44.81" x2="230.0" y2="44.81"/><line x1="0.0" y1="51.08" x2="230.0" y2="51.08"/><line x1="0.0" y1="57.35" x2="230.0" y2="57.35"/><line x1="0.0" y1="63.62" x2="230.0" y2="63.62"/><line x1="0.0" y1="69.89" x2="230.0" y2="69.89"/><line x1="0.0" y1="76.16" x2="230.0" y2="76.16"/><line x1="0.0" y1="82.43" x2="230.0" y2="82.43"/><line x1="0.0" y1="88.70" x2="230.0" y2="88.70"/><line x1="0.0" y1="94.97" x2="230.0" y2="94.97"/><line x1="0.0" y1="101.24" x2="230.0" y2="101.24"/><line x1="0.0" y1="107.51" x2="230.0" y2="107.51"/><line x1="0.0" y1="113.78" x2="230.0" y2="113.78"/><line x1="0.0" y1="120.05" x2="230.0" y2="120.05"/><line x1="0.0" y1="126.32" x2="230.0" y2="126.32"/><line x1="0.0" y1="132.59" x2="230.0" y2="132.59"/><line x1="0.0" y1="138.86" x2="230.0" y2="138.86"/><line x1="0.0" y1="145.13" x2="230.0" y2="145.13"/><line x1="0.0" y1="151.40" x2="230.0" y2="151.40"/><line x1="0.0" y1="157.67" x2="230.0" y2="157.67"/><line x1="0.0" y1="163.94" x2="230.0" y2="163.94"/><line x1="0.0" y1="170.21" x2="230.0" y2="170.21"/><line x1="0.0" y1="176.48" x2="230.0" y2="176.48"/><line x1="0.0" y1="182.75" x2="230.0" y2="182.75"/></g><ellipse cx="150.00" cy="60.00" rx="8.00" ry="7.00" fill="#fde8a0"/><ellipse cx="158.00" cy="70.00" rx="7.00" ry="5.00" fill="#fde8a0"/><ellipse cx="143.00" cy="72.00" rx="5.00" ry="4.50" fill="#fde8a0"/><ellipse cx="170.00" cy="50.00" rx="5.00" ry="4.00" fill="#fde8a0"/><ellipse cx="140.00" cy="80.00" rx="3.00" ry="2.50" fill="#fde8a0"/><ellipse cx="128.00" cy="84.00" rx="3.00" ry="2.50" fill="#fde8a0"/><ellipse cx="115.00" cy="96.00" rx="3.00" ry="2.00" fill="#fde8a0"/><rect x="144.05" y="67.49" width="1.58" height="3.61" rx="0.7" fill="#f9cd24"/><rect x="131.96" y="73.30" width="1.86" height="1.99" rx="0.7" fill="#f9cd24"/><rect x="148.63" y="66.12" width="2.22" height="3.62" rx="0.7" fill="#f9cd24"/><rect x="133.19" y="74.28" width="2.49" height="1.94" rx="0.7" fill="#f9cd24"/><rect x="157.66" y="52.98" width="1.58" height="3.69" rx="0.7" fill="#f9cd24"/><rect x="141.82" y="68.00" width="2.47" height="3.03" rx="0.7" fill="#f9cd24"/><rect x="162.17" y="52.75" width="2.59" height="2.62" rx="0.7" fill="#f9cd24"/><rect x="155.21" y="57.93" width="2.55" height="2.89" rx="0.7" fill="#f9cd24"/><rect x="154.11" y="71.42" width="3.07" height="2.60" rx="0.7" fill="#f9cd24"/><rect x="139.96" y="68.39" width="1.91" height="3.06" rx="0.7" fill="#f9cd24"/><rect x="154.32" y="72.97" width="1.99" height="3.96" rx="0.7" fill="#f9cd24"/><rect x="133.10" y="84.51" width="2.08" height="3.85" rx="0.7" fill="#f9cd24"/><rect x="148.69" y="60.88" width="2.47" height="3.73" rx="0.7" fill="#f9cd24"/><rect x="143.07" y="80.70" width="2.49" height="2.80" rx="0.7" fill="#f9cd24"/><rect x="170.36" y="59.91" width="2.63" height="1.93" rx="0.7" fill="#f9cd24"/><rect x="163.40" y="63.17" width="2.16" height="3.27" rx="0.7" fill="#f9cd24"/><rect x="127.90" y="90.11" width="2.54" height="2.89" rx="0.7" fill="#f9cd24"/><rect x="138.39" y="80.97" width="1.92" height="2.66" rx="0.7" fill="#f9cd24"/><rect x="172.22" y="48.66" width="2.18" height="2.41" rx="0.7" fill="#f9cd24"/><rect x="134.13" y="89.59" width="1.97" height="2.71" rx="0.7" fill="#f9cd24"/><rect x="145.78" y="81.99" width="1.76" height="2.19" rx="0.7" fill="#f9cd24"/><rect x="138.61" y="74.61" width="2.91" height="2.20" rx="0.7" fill="#f9cd24"/><rect x="141.60" y="69.20" width="2.13" height="3.05" rx="0.7" fill="#f9cd24"/><rect x="176.07" y="42.58" width="2.98" height="3.89" rx="0.7" fill="#f9cd24"/><rect x="162.30" y="65.03" width="2.17" height="2.86" rx="0.7" fill="#f9cd24"/><rect x="147.90" y="67.71" width="1.85" height="2.16" rx="0.7" fill="#f9cd24"/><rect x="144.45" y="69.37" width="2.46" height="2.98" rx="0.7" fill="#f9cd24"/><rect x="176.42" y="46.28" width="1.85" height="2.63" rx="0.7" fill="#f9cd24"/><rect x="159.84" y="68.75" width="2.31" height="2.05" rx="0.7" fill="#f9cd24"/><rect x="152.36" y="73.46" width="2.03" height="2.12" rx="0.7" fill="#f9cd24"/><rect x="165.64" y="62.93" width="2.68" height="2.94" rx="0.7" fill="#f9cd24"/><rect x="137.46" y="82.00" width="2.42" height="1.86" rx="0.7" fill="#f9cd24"/><rect x="154.49" y="57.84" width="1.94" height="2.61" rx="0.7" fill="#f9cd24"/><rect x="135.27" y="73.05" width="2.82" height="2.53" rx="0.7" fill="#f9cd24"/><rect x="138.15" y="68.38" width="2.89" height="3.43" rx="0.7" fill="#f9cd24"/><rect x="139.02" y="82.74" width="1.55" height="1.86" rx="0.7" fill="#f9cd24"/><rect x="141.27" y="79.14" width="2.53" height="2.56" rx="0.7" fill="#f9cd24"/><rect x="168.99" y="64.56" width="2.12" height="2.29" rx="0.7" fill="#f9cd24"/><rect x="138.64" y="71.48" width="2.32" height="3.97" rx="0.7" fill="#f9cd24"/><rect x="158.43" y="55.82" width="2.61" height="3.56" rx="0.7" fill="#f9cd24"/><rect x="130.99" y="72.93" width="2.83" height="3.45" rx="0.7" fill="#f9cd24"/><rect x="151.57" y="62.05" width="2.58" height="1.99" rx="0.7" fill="#f9cd24"/><rect x="175.82" y="55.70" width="2.76" height="1.99" rx="0.7" fill="#f9cd24"/><rect x="135.01" y="77.00" width="2.50" height="2.82" rx="0.7" fill="#f9cd24"/><rect x="161.06" y="67.86" width="2.10" height="3.01" rx="0.7" fill="#f9cd24"/><rect x="133.44" y="72.69" width="2.73" height="2.03" rx="0.7" fill="#f9cd24"/><rect x="165.48" y="50.76" width="2.98" height="3.62" rx="0.7" fill="#f9cd24"/><rect x="137.80" y="81.46" width="2.35" height="3.48" rx="0.7" fill="#f9cd24"/><rect x="144.15" y="81.71" width="1.60" height="3.43" rx="0.7" fill="#f9cd24"/><rect x="173.18" y="60.26" width="2.99" height="2.09" rx="0.7" fill="#f9cd24"/><rect x="134.49" y="70.78" width="2.82" height="3.14" rx="0.7" fill="#f9cd24"/><rect x="167.20" y="51.80" width="2.30" height="3.40" rx="0.7" fill="#f9cd24"/><rect x="155.74" y="71.96" width="2.40" height="2.86" rx="0.7" fill="#f9cd24"/><rect x="167.39" y="51.16" width="1.97" height="3.50" rx="0.7" fill="#f9cd24"/><rect x="152.88" y="58.06" width="3.05" height="2.78" rx="0.7" fill="#f9cd24"/><rect x="158.72" y="54.42" width="2.27" height="2.97" rx="0.7" fill="#f9cd24"/><rect x="151.36" y="59.12" width="2.99" height="3.87" rx="0.7" fill="#f9cd24"/><rect x="140.63" y="67.40" width="1.73" height="2.07" rx="0.7" fill="#f9cd24"/><rect x="149.88" y="61.52" width="2.23" height="2.27" rx="0.7" fill="#f9cd24"/><rect x="142.86" y="64.65" width="1.76" height="3.38" rx="0.7" fill="#f9cd24"/><rect x="161.47" y="55.95" width="1.73" height="2.83" rx="0.7" fill="#f9cd24"/><rect x="165.66" y="50.95" width="2.33" height="3.98" rx="0.7" fill="#f9cd24"/><rect x="169.69" y="45.97" width="3.19" height="2.69" rx="0.7" fill="#f9cd24"/><rect x="148.54" y="74.96" width="2.73" height="1.84" rx="0.7" fill="#f9cd24"/><rect x="155.73" y="72.17" width="2.15" height="2.94" rx="0.7" fill="#f9cd24"/><rect x="141.83" y="71.35" width="3.06" height="2.30" rx="0.7" fill="#f9cd24"/><rect x="172.79" y="47.17" width="1.57" height="3.51" rx="0.7" fill="#f9cd24"/><rect x="140.59" y="66.52" width="2.94" height="3.29" rx="0.7" fill="#f9cd24"/><rect x="175.66" y="52.82" width="3.06" height="3.06" rx="0.7" fill="#f9cd24"/><rect x="162.99" y="54.52" width="2.86" height="2.20" rx="0.7" fill="#f9cd24"/><line x1="33.00" y1="157.79" x2="44.00" y2="149.62" stroke="#f9cd24" stroke-width="2.0" stroke-linecap="round"/><line x1="57.50" y1="139.60" x2="60.50" y2="137.37" stroke="#f9cd24" stroke-width="2.2" stroke-linecap="round"/><line x1="58.00" y1="139.23" x2="60.00" y2="137.74" stroke="#f39012" stroke-width="0.9" stroke-linecap="round"/><line x1="62.50" y1="135.89" x2="66.00" y2="133.29" stroke="#f9cd24" stroke-width="2.2" stroke-linecap="round"/><line x1="63.00" y1="135.51" x2="65.50" y2="133.66" stroke="#f39012" stroke-width="0.9" stroke-linecap="round"/><line x1="68.00" y1="131.80" x2="71.50" y2="129.20" stroke="#f9cd24" stroke-width="2.2" stroke-linecap="round"/><line x1="68.50" y1="131.43" x2="71.00" y2="129.57" stroke="#f39012" stroke-width="0.9" stroke-linecap="round"/><line x1="79.00" y1="123.63" x2="190.00" y2="41.22" stroke="#fde8a0" stroke-width="4.6" stroke-linecap="round"/><line x1="78.00" y1="124.38" x2="193.50" y2="38.62" stroke="#f9cd24" stroke-width="2.8" stroke-linecap="round"/><line x1="80.00" y1="122.89" x2="186.00" y2="44.19" stroke="#f39012" stroke-width="1.8" stroke-linecap="round"/><line x1="126.00" y1="88.74" x2="178.00" y2="50.13" stroke="#e4420c" stroke-width="1.9" stroke-linecap="round"/><ellipse cx="92.50" cy="113.61" rx="5.00" ry="1.70" fill="#f9cd24" transform="rotate(-36.6 92.50 113.61)"/><ellipse cx="92.50" cy="113.61" rx="4.00" ry="1.36" fill="#f39012" transform="rotate(-36.6 92.50 113.61)"/><ellipse cx="92.50" cy="113.61" rx="2.50" ry="0.85" fill="#e4420c" transform="rotate(-36.6 92.50 113.61)"/><ellipse cx="106.00" cy="103.59" rx="6.50" ry="2.70" fill="#f9cd24" transform="rotate(-36.6 106.00 103.59)"/><ellipse cx="106.00" cy="103.59" rx="5.20" ry="2.16" fill="#f39012" transform="rotate(-36.6 106.00 103.59)"/><ellipse cx="106.00" cy="103.59" rx="3.25" ry="1.35" fill="#e4420c" transform="rotate(-36.6 106.00 103.59)"/><ellipse cx="106.00" cy="103.59" rx="1.30" ry="0.54" fill="#b3120a" transform="rotate(-36.6 106.00 103.59)"/><ellipse cx="118.50" cy="94.31" rx="3.50" ry="1.90" fill="#f9cd24" transform="rotate(-36.6 118.50 94.31)"/><ellipse cx="118.50" cy="94.31" rx="2.80" ry="1.52" fill="#f39012" transform="rotate(-36.6 118.50 94.31)"/><ellipse cx="118.50" cy="94.31" rx="1.75" ry="0.95" fill="#e4420c" transform="rotate(-36.6 118.50 94.31)"/><ellipse cx="137.00" cy="80.57" rx="3.50" ry="1.80" fill="#f9cd24" transform="rotate(-36.6 137.00 80.57)"/><ellipse cx="137.00" cy="80.57" rx="2.80" ry="1.44" fill="#f39012" transform="rotate(-36.6 137.00 80.57)"/><ellipse cx="137.00" cy="80.57" rx="1.75" ry="0.90" fill="#e4420c" transform="rotate(-36.6 137.00 80.57)"/><ellipse cx="146.00" cy="73.89" rx="5.00" ry="2.10" fill="#f9cd24" transform="rotate(-36.6 146.00 73.89)"/><ellipse cx="146.00" cy="73.89" rx="4.00" ry="1.68" fill="#f39012" transform="rotate(-36.6 146.00 73.89)"/><ellipse cx="146.00" cy="73.89" rx="2.50" ry="1.05" fill="#e4420c" transform="rotate(-36.6 146.00 73.89)"/><ellipse cx="146.00" cy="73.89" rx="1.00" ry="0.42" fill="#b3120a" transform="rotate(-36.6 146.00 73.89)"/><ellipse cx="160.00" cy="63.50" rx="4.50" ry="2.00" fill="#f9cd24" transform="rotate(-36.6 160.00 63.50)"/><ellipse cx="160.00" cy="63.50" rx="3.60" ry="1.60" fill="#f39012" transform="rotate(-36.6 160.00 63.50)"/><ellipse cx="160.00" cy="63.50" rx="2.25" ry="1.00" fill="#e4420c" transform="rotate(-36.6 160.00 63.50)"/><ellipse cx="183.00" cy="46.42" rx="4.50" ry="1.90" fill="#f9cd24" transform="rotate(-36.6 183.00 46.42)"/><ellipse cx="183.00" cy="46.42" rx="3.60" ry="1.52" fill="#f39012" transform="rotate(-36.6 183.00 46.42)"/><line x1="130.00" y1="85.77" x2="176.00" y2="51.62" stroke="#e4420c" stroke-width="1.4" stroke-linecap="round"/><line x1="86.00" y1="118.44" x2="126.00" y2="88.74" stroke="#e4420c" stroke-width="1.1" stroke-linecap="round"/><ellipse cx="50.00" cy="145.17" rx="8.50" ry="4.00" fill="#fde8a0" transform="rotate(-36.6 50.00 145.17)"/><ellipse cx="50.00" cy="145.17" rx="3.00" ry="6.00" fill="#f9cd24" transform="rotate(-36.6 50.00 145.17)"/><ellipse cx="50.00" cy="145.17" rx="7.50" ry="2.80" fill="#fde8a0" transform="rotate(-36.6 50.00 145.17)"/><ellipse cx="50.00" cy="145.17" rx="7.00" ry="2.30" fill="#f9cd24" transform="rotate(-36.6 50.00 145.17)"/><ellipse cx="50.00" cy="145.17" rx="5.60" ry="1.84" fill="#f39012" transform="rotate(-36.6 50.00 145.17)"/><ellipse cx="50.00" cy="145.17" rx="3.50" ry="1.15" fill="#e4420c" transform="rotate(-36.6 50.00 145.17)"/><ellipse cx="50.00" cy="145.17" rx="1.40" ry="0.46" fill="#b3120a" transform="rotate(-36.6 50.00 145.17)"/><ellipse cx="31.00" cy="159.27" rx="4.50" ry="2.20" fill="#fde8a0" transform="rotate(-36.6 31.00 159.27)"/><ellipse cx="31.00" cy="159.27" rx="4.00" ry="1.70" fill="#f9cd24" transform="rotate(-36.6 31.00 159.27)"/><ellipse cx="31.00" cy="159.27" rx="3.20" ry="1.36" fill="#f39012" transform="rotate(-36.6 31.00 159.27)"/><ellipse cx="31.00" cy="159.27" rx="2.00" ry="0.85" fill="#e4420c" transform="rotate(-36.6 31.00 159.27)"/><path d="M51 101.5 L96 101.5 Q101 101.5 104 102.7" stroke="#fde8a0" stroke-width="3.0" fill="none"/><path d="M52 101.5 L96 101.5 Q101 101.5 104 102.7" stroke="#f9cd24" stroke-width="2.0" fill="none"/><path d="M62 101.5 L96 101.5 Q101 101.5 104 102.7" stroke="#f39012" stroke-width="0.9" fill="none"/><line x1="106" y1="103.1" x2="111" y2="103.3" stroke="#f9cd24" stroke-width="1.4" stroke-linecap="round"/><ellipse cx="50.20" cy="103.80" rx="0.90" ry="1.20" fill="#f9cd24"/><line x1="76.3" y1="10.0" x2="76.3" y2="101.5" stroke="#fde8a0" stroke-width="1.0"/><line x1="76.3" y1="10.0" x2="76.3" y2="101.5" stroke="#f9cd24" stroke-width="0.45"/><line x1="76.3" y1="101.5" x2="76.3" y2="125.6" stroke="#fde8a0" stroke-width="3.2"/><line x1="76.3" y1="101.5" x2="76.3" y2="125.6" stroke="#f9cd24" stroke-width="2.0"/><line x1="76.3" y1="125.6" x2="76.3" y2="138" stroke="#f9cd24" stroke-width="2.4"/><line x1="76.3" y1="139" x2="76.3" y2="143" stroke="#f9cd24" stroke-width="1.1" stroke-linecap="round"/><line x1="76.3" y1="146" x2="76.3" y2="151" stroke="#f9cd24" stroke-width="1.1" stroke-linecap="round"/><line x1="76.3" y1="155" x2="76.3" y2="157" stroke="#f9cd24" stroke-width="1.1" stroke-linecap="round"/><line x1="76.3" y1="160" x2="76.3" y2="162" stroke="#f9cd24" stroke-width="1.1" stroke-linecap="round"/><line x1="76.3" y1="164" x2="76.3" y2="168" stroke="#f9cd24" stroke-width="1.1" stroke-linecap="round"/><line x1="76.3" y1="170" x2="76.3" y2="176" stroke="#f9cd24" stroke-width="1.1" stroke-linecap="round"/><line x1="76.3" y1="178" x2="76.3" y2="182" stroke="#f9cd24" stroke-width="1.1" stroke-linecap="round"/><ellipse cx="76.60" cy="93.80" rx="0.90" ry="1.60" fill="#f39012"/><ellipse cx="76.60" cy="93.80" rx="1.50" ry="2.20" fill="#f9cd24" opacity="0.6"/><ellipse cx="76.30" cy="101.50" rx="6.00" ry="1.20" fill="#f39012"/><ellipse cx="76.30" cy="101.50" rx="2.40" ry="1.50" fill="#e4420c"/><line x1="0.0" y1="125.6" x2="120" y2="125.6" stroke="#fde8a0" stroke-width="3.4"/><line x1="120" y1="125.6" x2="230.0" y2="125.6" stroke="#fde8a0" stroke-width="2.4"/><line x1="0.0" y1="125.6" x2="120" y2="125.6" stroke="#f9cd24" stroke-width="2.5"/><line x1="120" y1="125.6" x2="230.0" y2="125.6" stroke="#f9cd24" stroke-width="1.4"/><ellipse cx="72.30" cy="125.60" rx="52.00" ry="2.60" fill="#f9cd24"/><ellipse cx="76.30" cy="125.60" rx="26.00" ry="1.60" fill="#f39012"/><ellipse cx="76.30" cy="125.60" rx="2.60" ry="12.00" fill="#f9cd24"/><ellipse cx="76.30" cy="125.60" rx="1.80" ry="8.00" fill="#f39012"/><ellipse cx="76.30" cy="125.60" rx="7.50" ry="2.80" fill="#e4420c"/><ellipse cx="76.30" cy="125.60" rx="3.00" ry="4.20" fill="#e4420c"/><ellipse cx="76.30" cy="125.60" rx="2.60" ry="2.00" fill="#b3120a"/><polygon points="69.50,28.40 74.40,26.88 76.30,23.40 78.20,26.88 83.10,28.40 78.20,29.92 76.30,33.40 74.40,29.92" fill="#f9cd24" stroke="#fde8a0" stroke-width="0.6" stroke-linejoin="round"/><ellipse cx="76.30" cy="28.40" rx="2.00" ry="1.40" fill="#f39012"/><ellipse cx="76.30" cy="28.40" rx="1.00" ry="0.80" fill="#e4420c"/><ellipse cx="77.60" cy="32.40" rx="1.20" ry="1.80" fill="#f9cd24"/><polygon points="69.10,52.80 74.40,51.28 76.30,47.60 78.20,51.28 83.50,52.80 78.20,54.32 76.30,58.00 74.40,54.32" fill="#f9cd24" stroke="#fde8a0" stroke-width="0.6" stroke-linejoin="round"/><ellipse cx="76.30" cy="52.80" rx="2.00" ry="1.40" fill="#f39012"/><ellipse cx="76.30" cy="52.80" rx="1.00" ry="0.80" fill="#e4420c"/><polygon points="71.50,77.20 74.40,75.68 76.30,74.60 78.20,75.68 81.10,77.20 78.20,78.72 76.30,79.80 74.40,78.72" fill="#f9cd24" stroke="#fde8a0" stroke-width="0.6" stroke-linejoin="round"/><ellipse cx="76.30" cy="77.20" rx="2.00" ry="1.40" fill="#f39012"/><ellipse cx="31.60" cy="66.50" rx="3.00" ry="4.80" fill="#fde8a0" transform="rotate(-30.0 31.60 66.50)"/><ellipse cx="31.60" cy="66.50" rx="2.50" ry="4.30" fill="#f9cd24" transform="rotate(-30.0 31.60 66.50)"/><ellipse cx="31.60" cy="66.50" rx="2.00" ry="3.44" fill="#f39012" transform="rotate(-30.0 31.60 66.50)"/><ellipse cx="31.60" cy="66.50" rx="1.25" ry="2.15" fill="#e4420c" transform="rotate(-30.0 31.60 66.50)"/><ellipse cx="48.20" cy="62.60" rx="2.70" ry="4.90" fill="#fde8a0" transform="rotate(-30.0 48.20 62.60)"/><ellipse cx="48.20" cy="62.60" rx="2.20" ry="4.40" fill="#f9cd24" transform="rotate(-30.0 48.20 62.60)"/><ellipse cx="48.20" cy="62.60" rx="1.76" ry="3.52" fill="#f39012" transform="rotate(-30.0 48.20 62.60)"/><ellipse cx="48.20" cy="62.60" rx="1.10" ry="2.20" fill="#e4420c" transform="rotate(-30.0 48.20 62.60)"/><ellipse cx="51.80" cy="60.40" rx="2.70" ry="4.90" fill="#fde8a0" transform="rotate(-30.0 51.80 60.40)"/><ellipse cx="51.80" cy="60.40" rx="2.20" ry="4.40" fill="#f9cd24" transform="rotate(-30.0 51.80 60.40)"/><ellipse cx="51.80" cy="60.40" rx="1.76" ry="3.52" fill="#f39012" transform="rotate(-30.0 51.80 60.40)"/><ellipse cx="51.80" cy="60.40" rx="1.10" ry="2.20" fill="#e4420c" transform="rotate(-30.0 51.80 60.40)"/><ellipse cx="57.50" cy="67.50" rx="1.50" ry="1.70" fill="#fde8a0"/><ellipse cx="57.50" cy="67.50" rx="1.00" ry="1.20" fill="#f9cd24"/><ellipse cx="65.50" cy="59.70" rx="1.80" ry="2.40" fill="#fde8a0"/><ellipse cx="65.50" cy="59.70" rx="1.30" ry="1.90" fill="#f9cd24"/><ellipse cx="36.80" cy="83.00" rx="1.70" ry="2.00" fill="#fde8a0"/><ellipse cx="36.80" cy="83.00" rx="1.20" ry="1.50" fill="#f9cd24"/><ellipse cx="40.00" cy="78.60" rx="1.50" ry="1.50" fill="#fde8a0"/><ellipse cx="40.00" cy="78.60" rx="1.00" ry="1.00" fill="#f9cd24"/><ellipse cx="86.80" cy="56.80" rx="2.40" ry="3.70" fill="#fde8a0" transform="rotate(30.0 86.80 56.80)"/><ellipse cx="86.80" cy="56.80" rx="1.90" ry="3.20" fill="#f9cd24" transform="rotate(30.0 86.80 56.80)"/><ellipse cx="86.80" cy="56.80" rx="1.52" ry="2.56" fill="#f39012" transform="rotate(30.0 86.80 56.80)"/><ellipse cx="89.80" cy="52.60" rx="1.30" ry="2.00" fill="#fde8a0" transform="rotate(40.0 89.80 52.60)"/><ellipse cx="89.80" cy="52.60" rx="0.80" ry="1.50" fill="#f9cd24" transform="rotate(40.0 89.80 52.60)"/><ellipse cx="91.60" cy="76.00" rx="1.90" ry="2.40" fill="#fde8a0"/><ellipse cx="91.60" cy="76.00" rx="1.40" ry="1.90" fill="#f9cd24"/><ellipse cx="123.50" cy="24.70" rx="1.80" ry="2.40" fill="#fde8a0"/><ellipse cx="123.50" cy="24.70" rx="1.30" ry="1.90" fill="#f9cd24"/><ellipse cx="118.50" cy="32.00" rx="3.00" ry="2.40" fill="#fde8a0" transform="rotate(-15.0 118.50 32.00)"/><ellipse cx="118.50" cy="32.00" rx="2.50" ry="1.90" fill="#f9cd24" transform="rotate(-15.0 118.50 32.00)"/><ellipse cx="118.50" cy="32.00" rx="2.00" ry="1.52" fill="#f39012" transform="rotate(-15.0 118.50 32.00)"/><ellipse cx="109.20" cy="62.50" rx="2.90" ry="3.80" fill="#fde8a0"/><ellipse cx="109.20" cy="62.50" rx="2.40" ry="3.30" fill="#f9cd24"/><ellipse cx="109.20" cy="62.50" rx="1.92" ry="2.64" fill="#f39012"/><ellipse cx="118.50" cy="60.50" rx="3.00" ry="2.15" fill="#fde8a0"/><ellipse cx="118.50" cy="60.50" rx="2.50" ry="1.65" fill="#f9cd24"/><ellipse cx="123.80" cy="57.20" rx="2.60" ry="4.40" fill="#fde8a0" transform="rotate(20.0 123.80 57.20)"/><ellipse cx="123.80" cy="57.20" rx="2.10" ry="3.90" fill="#f9cd24" transform="rotate(20.0 123.80 57.20)"/><ellipse cx="123.80" cy="57.20" rx="1.68" ry="3.12" fill="#f39012" transform="rotate(20.0 123.80 57.20)"/><ellipse cx="123.80" cy="57.20" rx="1.05" ry="1.95" fill="#e4420c" transform="rotate(20.0 123.80 57.20)"/><ellipse cx="126.30" cy="63.60" rx="2.30" ry="3.90" fill="#fde8a0"/><ellipse cx="126.30" cy="63.60" rx="1.80" ry="3.40" fill="#f9cd24"/><ellipse cx="126.30" cy="63.60" rx="1.44" ry="2.72" fill="#f39012"/><ellipse cx="118.80" cy="72.10" rx="3.00" ry="4.80" fill="#fde8a0" transform="rotate(15.0 118.80 72.10)"/><ellipse cx="118.80" cy="72.10" rx="2.50" ry="4.30" fill="#f9cd24" transform="rotate(15.0 118.80 72.10)"/><ellipse cx="118.80" cy="72.10" rx="2.00" ry="3.44" fill="#f39012" transform="rotate(15.0 118.80 72.10)"/><ellipse cx="103.80" cy="77.60" rx="2.75" ry="3.50" fill="#fde8a0"/><ellipse cx="103.80" cy="77.60" rx="2.25" ry="3.00" fill="#f9cd24"/><ellipse cx="103.80" cy="77.60" rx="1.80" ry="2.40" fill="#f39012"/><ellipse cx="107.80" cy="79.00" rx="2.75" ry="3.50" fill="#fde8a0"/><ellipse cx="107.80" cy="79.00" rx="2.25" ry="3.00" fill="#f9cd24"/><ellipse cx="107.80" cy="79.00" rx="1.80" ry="2.40" fill="#f39012"/><ellipse cx="105.80" cy="82.00" rx="3.50" ry="1.80" fill="#fde8a0"/><ellipse cx="105.80" cy="82.00" rx="3.00" ry="1.30" fill="#f9cd24"/><ellipse cx="114.00" cy="84.30" rx="2.50" ry="2.15" fill="#fde8a0"/><ellipse cx="114.00" cy="84.30" rx="2.00" ry="1.65" fill="#f9cd24"/><ellipse cx="123.50" cy="80.50" rx="2.50" ry="3.25" fill="#fde8a0"/><ellipse cx="123.50" cy="80.50" rx="2.00" ry="2.75" fill="#f9cd24"/><ellipse cx="123.50" cy="80.50" rx="1.60" ry="2.20" fill="#f39012"/><ellipse cx="106.90" cy="94.40" rx="2.00" ry="2.30" fill="#fde8a0"/><ellipse cx="106.90" cy="94.40" rx="1.50" ry="1.80" fill="#f9cd24"/><ellipse cx="106.90" cy="94.40" rx="1.20" ry="1.44" fill="#f39012"/><ellipse cx="118.40" cy="102.80" rx="2.75" ry="2.30" fill="#fde8a0"/><ellipse cx="118.40" cy="102.80" rx="2.25" ry="1.80" fill="#f9cd24"/><ellipse cx="132.20" cy="97.20" rx="1.70" ry="2.20" fill="#fde8a0"/><ellipse cx="132.20" cy="97.20" rx="1.20" ry="1.70" fill="#f9cd24"/><ellipse cx="136.00" cy="90.20" rx="2.20" ry="2.50" fill="#fde8a0"/><ellipse cx="136.00" cy="90.20" rx="1.70" ry="2.00" fill="#f9cd24"/><ellipse cx="136.00" cy="90.20" rx="1.36" ry="1.60" fill="#f39012"/><ellipse cx="113.80" cy="85.00" rx="2.00" ry="1.80" fill="#fde8a0"/><ellipse cx="113.80" cy="85.00" rx="1.50" ry="1.30" fill="#f9cd24"/><ellipse cx="97.00" cy="88.50" rx="1.50" ry="1.50" fill="#fde8a0"/><ellipse cx="97.00" cy="88.50" rx="1.00" ry="1.00" fill="#f9cd24"/><ellipse cx="178.00" cy="54.50" rx="2.50" ry="2.30" fill="#fde8a0"/><ellipse cx="178.00" cy="54.50" rx="2.00" ry="1.80" fill="#f9cd24"/><ellipse cx="176.00" cy="51.50" rx="1.50" ry="1.50" fill="#fde8a0"/><ellipse cx="176.00" cy="51.50" rx="1.00" ry="1.00" fill="#f9cd24"/><ellipse cx="140.20" cy="64.00" rx="4.70" ry="4.20" fill="#fde8a0"/><ellipse cx="140.20" cy="64.00" rx="4.20" ry="3.70" fill="#f9cd24"/><ellipse cx="140.20" cy="64.00" rx="3.36" ry="2.96" fill="#f39012"/><ellipse cx="140.20" cy="64.00" rx="2.10" ry="1.85" fill="#e4420c"/><ellipse cx="161.00" cy="78.00" rx="4.30" ry="3.80" fill="#fde8a0" transform="rotate(-10.0 161.00 78.00)"/><ellipse cx="161.00" cy="78.00" rx="3.80" ry="3.30" fill="#f9cd24" transform="rotate(-10.0 161.00 78.00)"/><ellipse cx="161.00" cy="78.00" rx="3.04" ry="2.64" fill="#f39012" transform="rotate(-10.0 161.00 78.00)"/><ellipse cx="161.00" cy="78.00" rx="1.90" ry="1.65" fill="#e4420c" transform="rotate(-10.0 161.00 78.00)"/><ellipse cx="161.00" cy="78.00" rx="0.76" ry="0.66" fill="#b3120a" transform="rotate(-10.0 161.00 78.00)"/><ellipse cx="166.20" cy="71.40" rx="3.80" ry="2.80" fill="#fde8a0" transform="rotate(-10.0 166.20 71.40)"/><ellipse cx="166.20" cy="71.40" rx="3.30" ry="2.30" fill="#f9cd24" transform="rotate(-10.0 166.20 71.40)"/><ellipse cx="166.20" cy="71.40" rx="2.64" ry="1.84" fill="#f39012" transform="rotate(-10.0 166.20 71.40)"/><ellipse cx="140.00" cy="70.50" rx="4.50" ry="3.00" fill="#fde8a0"/><ellipse cx="140.00" cy="70.50" rx="4.00" ry="2.50" fill="#f9cd24"/><ellipse cx="147.50" cy="66.00" rx="3.50" ry="3.50" fill="#fde8a0"/><ellipse cx="147.50" cy="66.00" rx="3.00" ry="3.00" fill="#f9cd24"/><ellipse cx="146.00" cy="57.50" rx="2.50" ry="2.50" fill="#fde8a0"/><ellipse cx="146.00" cy="57.50" rx="2.00" ry="2.00" fill="#f9cd24"/><ellipse cx="157.00" cy="58.50" rx="3.00" ry="3.50" fill="#fde8a0"/><ellipse cx="157.00" cy="58.50" rx="2.50" ry="3.00" fill="#f9cd24"/><ellipse cx="150.50" cy="74.00" rx="3.00" ry="2.50" fill="#fde8a0"/><ellipse cx="150.50" cy="74.00" rx="2.50" ry="2.00" fill="#f9cd24"/><ellipse cx="144.50" cy="77.50" rx="2.50" ry="2.00" fill="#fde8a0"/><ellipse cx="144.50" cy="77.50" rx="2.00" ry="1.50" fill="#f9cd24"/><ellipse cx="168.00" cy="64.50" rx="3.50" ry="3.50" fill="#fde8a0"/><ellipse cx="168.00" cy="64.50" rx="3.00" ry="3.00" fill="#f9cd24"/><ellipse cx="172.00" cy="58.00" rx="2.00" ry="2.00" fill="#fde8a0"/><ellipse cx="172.00" cy="58.00" rx="1.50" ry="1.50" fill="#f9cd24"/><ellipse cx="180.60" cy="72.30" rx="2.30" ry="2.00" fill="#fde8a0"/><ellipse cx="180.60" cy="72.30" rx="1.80" ry="1.50" fill="#f9cd24"/><ellipse cx="173.50" cy="69.00" rx="2.25" ry="2.00" fill="#fde8a0"/><ellipse cx="173.50" cy="69.00" rx="1.75" ry="1.50" fill="#f9cd24"/><ellipse cx="131.00" cy="80.00" rx="2.00" ry="2.00" fill="#fde8a0"/><ellipse cx="131.00" cy="80.00" rx="1.50" ry="1.50" fill="#f9cd24"/><ellipse cx="135.80" cy="90.20" rx="2.10" ry="2.40" fill="#fde8a0"/><ellipse cx="135.80" cy="90.20" rx="1.60" ry="1.90" fill="#f9cd24"/><ellipse cx="163.70" cy="94.30" rx="2.20" ry="2.10" fill="#fde8a0"/><ellipse cx="163.70" cy="94.30" rx="1.70" ry="1.60" fill="#f9cd24"/><ellipse cx="142.80" cy="114.00" rx="3.00" ry="1.90" fill="#fde8a0"/><ellipse cx="142.80" cy="114.00" rx="2.50" ry="1.40" fill="#f9cd24"/><ellipse cx="166.00" cy="117.00" rx="2.20" ry="2.60" fill="#fde8a0"/><ellipse cx="166.00" cy="117.00" rx="1.70" ry="2.10" fill="#f9cd24"/><ellipse cx="166.00" cy="117.00" rx="1.36" ry="1.68" fill="#f39012"/><ellipse cx="170.00" cy="116.20" rx="2.20" ry="2.60" fill="#fde8a0"/><ellipse cx="170.00" cy="116.20" rx="1.70" ry="2.10" fill="#f9cd24"/><ellipse cx="170.00" cy="116.20" rx="1.36" ry="1.68" fill="#f39012"/><ellipse cx="174.50" cy="115.00" rx="2.20" ry="2.50" fill="#fde8a0"/><ellipse cx="174.50" cy="115.00" rx="1.70" ry="2.00" fill="#f9cd24"/><ellipse cx="163.50" cy="133.80" rx="3.30" ry="1.50" fill="#fde8a0"/><ellipse cx="163.50" cy="133.80" rx="2.80" ry="1.00" fill="#f9cd24"/><ellipse cx="133.20" cy="154.20" rx="1.80" ry="1.50" fill="#fde8a0"/><ellipse cx="133.20" cy="154.20" rx="1.30" ry="1.00" fill="#f9cd24"/><ellipse cx="140.60" cy="152.60" rx="1.50" ry="1.50" fill="#fde8a0"/><ellipse cx="140.60" cy="152.60" rx="1.00" ry="1.00" fill="#f9cd24"/><ellipse cx="182.00" cy="179.50" rx="2.00" ry="1.50" fill="#fde8a0"/><ellipse cx="182.00" cy="179.50" rx="1.50" ry="1.00" fill="#f9cd24"/><ellipse cx="33.00" cy="133.20" rx="1.50" ry="1.70" fill="#fde8a0"/><ellipse cx="33.00" cy="133.20" rx="1.00" ry="1.20" fill="#f9cd24"/><ellipse cx="106.00" cy="144.80" rx="1.50" ry="1.60" fill="#fde8a0"/><ellipse cx="106.00" cy="144.80" rx="1.00" ry="1.10" fill="#f9cd24"/><g transform="translate(91.80 45.80) rotate(-8) skewX(0)"><rect x="-4.80" y="-3.90" width="9.60" height="7.80" rx="1.4" fill="#fde8a0"/><rect x="-4.20" y="-3.30" width="8.40" height="6.60" rx="1.0" fill="#f9cd24"/><rect x="-3.70" y="-2.51" width="1.68" height="5.02" rx="0.5" fill="#f39012"/><rect x="-0.90" y="-2.51" width="1.68" height="5.02" rx="0.5" fill="#f39012"/><rect x="1.90" y="-2.51" width="1.68" height="5.02" rx="0.5" fill="#f39012"/></g><g transform="translate(165.20 46.60) rotate(0) skewX(0)"><rect x="-7.10" y="-4.60" width="14.20" height="9.20" rx="1.4" fill="#fde8a0"/><rect x="-6.50" y="-4.00" width="13.00" height="8.00" rx="1.0" fill="#f9cd24"/><rect x="-6.03" y="-3.04" width="1.56" height="6.08" rx="0.5" fill="#f3b40c"/><rect x="-3.43" y="-3.04" width="1.56" height="6.08" rx="0.5" fill="#f3b40c"/><rect x="-0.83" y="-3.04" width="1.56" height="6.08" rx="0.5" fill="#f3b40c"/><rect x="1.77" y="-3.04" width="1.56" height="6.08" rx="0.5" fill="#f3b40c"/><rect x="4.37" y="-3.04" width="1.56" height="6.08" rx="0.5" fill="#f3b40c"/></g><g transform="translate(183.20 59.60) rotate(0) skewX(0)"><rect x="-5.30" y="-5.90" width="10.60" height="11.80" rx="1.4" fill="#fde8a0"/><rect x="-4.70" y="-5.30" width="9.40" height="10.60" rx="1.0" fill="#f9cd24"/><rect x="-4.28" y="-4.03" width="1.41" height="8.06" rx="0.5" fill="#f39012"/><rect x="-1.93" y="-4.03" width="1.41" height="8.06" rx="0.5" fill="#f39012"/><rect x="0.42" y="-4.03" width="1.41" height="8.06" rx="0.5" fill="#f39012"/><rect x="2.77" y="-4.03" width="1.41" height="8.06" rx="0.5" fill="#f39012"/></g><g transform="translate(147.70 94.10) rotate(-10) skewX(-20)"><rect x="-4.80" y="-3.00" width="9.60" height="6.00" rx="1.4" fill="#fde8a0"/><rect x="-4.20" y="-2.40" width="8.40" height="4.80" rx="1.0" fill="#f9cd24"/><rect x="-3.70" y="-1.82" width="1.68" height="3.65" rx="0.5" fill="#f39012"/><rect x="-0.90" y="-1.82" width="1.68" height="3.65" rx="0.5" fill="#f39012"/><rect x="1.90" y="-1.82" width="1.68" height="3.65" rx="0.5" fill="#f39012"/></g><g transform="translate(159.90 88.80) rotate(-8) skewX(-20)"><rect x="-3.80" y="-2.60" width="7.60" height="5.20" rx="1.4" fill="#fde8a0"/><rect x="-3.20" y="-2.00" width="6.40" height="4.00" rx="1.0" fill="#f9cd24"/><rect x="-2.82" y="-1.52" width="1.28" height="3.04" rx="0.5" fill="#f39012"/><rect x="-0.68" y="-1.52" width="1.28" height="3.04" rx="0.5" fill="#f39012"/><rect x="1.45" y="-1.52" width="1.28" height="3.04" rx="0.5" fill="#f39012"/></g><g transform="translate(167.60 90.00) rotate(-8) skewX(-20)"><rect x="-3.80" y="-2.70" width="7.60" height="5.40" rx="1.4" fill="#fde8a0"/><rect x="-3.20" y="-2.10" width="6.40" height="4.20" rx="1.0" fill="#f39012"/><rect x="-2.82" y="-1.60" width="1.28" height="3.19" rx="0.5" fill="#e4420c"/><rect x="-0.68" y="-1.60" width="1.28" height="3.19" rx="0.5" fill="#e4420c"/><rect x="1.45" y="-1.60" width="1.28" height="3.19" rx="0.5" fill="#e4420c"/></g><g transform="translate(139.70 103.00) rotate(-6) skewX(-20)"><rect x="-4.90" y="-2.90" width="9.80" height="5.80" rx="1.4" fill="#fde8a0"/><rect x="-4.30" y="-2.30" width="8.60" height="4.60" rx="1.0" fill="#f9cd24"/><rect x="-3.78" y="-1.75" width="1.72" height="3.50" rx="0.5" fill="#f39012"/><rect x="-0.92" y="-1.75" width="1.72" height="3.50" rx="0.5" fill="#f39012"/><rect x="1.95" y="-1.75" width="1.72" height="3.50" rx="0.5" fill="#f39012"/></g><g transform="translate(162.00 101.60) rotate(-6) skewX(-20)"><rect x="-4.60" y="-2.70" width="9.20" height="5.40" rx="1.4" fill="#fde8a0"/><rect x="-4.00" y="-2.10" width="8.00" height="4.20" rx="1.0" fill="#f9cd24"/><rect x="-3.52" y="-1.60" width="1.60" height="3.19" rx="0.5" fill="#f39012"/><rect x="-0.85" y="-1.60" width="1.60" height="3.19" rx="0.5" fill="#f39012"/><rect x="1.81" y="-1.60" width="1.60" height="3.19" rx="0.5" fill="#f39012"/></g><g transform="translate(183.20 114.00) rotate(-8) skewX(-15)"><rect x="-4.90" y="-4.40" width="9.80" height="8.80" rx="1.4" fill="#fde8a0"/><rect x="-4.30" y="-3.80" width="8.60" height="7.60" rx="1.0" fill="#f39012"/><rect x="-3.91" y="-2.89" width="1.29" height="5.78" rx="0.5" fill="#e4420c"/><rect x="-1.76" y="-2.89" width="1.29" height="5.78" rx="0.5" fill="#e4420c"/><rect x="0.39" y="-2.89" width="1.29" height="5.78" rx="0.5" fill="#e4420c"/><rect x="2.54" y="-2.89" width="1.29" height="5.78" rx="0.5" fill="#e4420c"/></g><g transform="translate(162.90 145.90) rotate(-10) skewX(-30)"><rect x="-5.70" y="-4.20" width="11.40" height="8.40" rx="1.4" fill="#fde8a0"/><rect x="-5.10" y="-3.60" width="10.20" height="7.20" rx="1.0" fill="#f39012"/><rect x="-4.64" y="-2.74" width="1.53" height="5.47" rx="0.5" fill="#e4420c"/><rect x="-2.09" y="-2.74" width="1.53" height="5.47" rx="0.5" fill="#e4420c"/><rect x="0.46" y="-2.74" width="1.53" height="5.47" rx="0.5" fill="#e4420c"/><rect x="3.01" y="-2.74" width="1.53" height="5.47" rx="0.5" fill="#e4420c"/><rect x="-3.06" y="-1.44" width="6.12" height="2.88" rx="0.6" fill="#e4420c"/></g><g transform="translate(156.20 158.60) rotate(-8) skewX(-30)"><rect x="-4.50" y="-3.30" width="9.00" height="6.60" rx="1.4" fill="#fde8a0"/><rect x="-3.90" y="-2.70" width="7.80" height="5.40" rx="1.0" fill="#f39012"/><rect x="-3.43" y="-2.05" width="1.56" height="4.10" rx="0.5" fill="#e4420c"/><rect x="-0.83" y="-2.05" width="1.56" height="4.10" rx="0.5" fill="#e4420c"/><rect x="1.77" y="-2.05" width="1.56" height="4.10" rx="0.5" fill="#e4420c"/><rect x="-2.34" y="-1.08" width="4.68" height="2.16" rx="0.6" fill="#e4420c"/></g></g><line x1="10.9" y1="19.7" x2="216.4" y2="19.7" stroke="#e6e8ec" stroke-width="0.6"/><line x1="216.4" y1="19.7" x2="216.4" y2="180.9" stroke="#9a9a9a" stroke-width="0.6"/><line x1="10.9" y1="180.9" x2="216.4" y2="180.9" stroke="#9a9a9a" stroke-width="0.6"/><g stroke="#9a9a9a" stroke-width="0.5"><line x1="15.70" y1="180.9" x2="15.70" y2="182.1"/><line x1="24.20" y1="180.9" x2="24.20" y2="182.1"/><line x1="32.70" y1="180.9" x2="32.70" y2="182.1"/><line x1="41.20" y1="180.9" x2="41.20" y2="182.1"/><line x1="49.70" y1="180.9" x2="49.70" y2="182.1"/><line x1="58.20" y1="180.9" x2="58.20" y2="182.1"/><line x1="66.70" y1="180.9" x2="66.70" y2="182.1"/><line x1="75.20" y1="180.9" x2="75.20" y2="182.1"/><line x1="83.70" y1="180.9" x2="83.70" y2="182.1"/><line x1="92.20" y1="180.9" x2="92.20" y2="182.1"/><line x1="100.70" y1="180.9" x2="100.70" y2="182.1"/><line x1="109.20" y1="180.9" x2="109.20" y2="182.1"/><line x1="117.70" y1="180.9" x2="117.70" y2="182.1"/><line x1="126.20" y1="180.9" x2="126.20" y2="182.1"/><line x1="134.70" y1="180.9" x2="134.70" y2="182.1"/><line x1="143.20" y1="180.9" x2="143.20" y2="182.1"/><line x1="151.70" y1="180.9" x2="151.70" y2="182.1"/><line x1="160.20" y1="180.9" x2="160.20" y2="182.1"/><line x1="168.70" y1="180.9" x2="168.70" y2="182.1"/><line x1="177.20" y1="180.9" x2="177.20" y2="182.1"/><line x1="185.70" y1="180.9" x2="185.70" y2="182.1"/><line x1="194.20" y1="180.9" x2="194.20" y2="182.1"/><line x1="202.70" y1="180.9" x2="202.70" y2="182.1"/><line x1="211.20" y1="180.9" x2="211.20" y2="182.1"/><line x1="216.4" y1="26.00" x2="217.6" y2="26.00"/><line x1="216.4" y1="32.27" x2="217.6" y2="32.27"/><line x1="216.4" y1="38.54" x2="217.6" y2="38.54"/><line x1="216.4" y1="44.81" x2="217.6" y2="44.81"/><line x1="216.4" y1="51.08" x2="217.6" y2="51.08"/><line x1="216.4" y1="57.35" x2="217.6" y2="57.35"/><line x1="216.4" y1="63.62" x2="217.6" y2="63.62"/><line x1="216.4" y1="69.89" x2="217.6" y2="69.89"/><line x1="216.4" y1="76.16" x2="217.6" y2="76.16"/><line x1="216.4" y1="82.43" x2="217.6" y2="82.43"/><line x1="216.4" y1="88.70" x2="217.6" y2="88.70"/><line x1="216.4" y1="94.97" x2="217.6" y2="94.97"/><line x1="216.4" y1="101.24" x2="217.6" y2="101.24"/><line x1="216.4" y1="107.51" x2="217.6" y2="107.51"/><line x1="216.4" y1="113.78" x2="217.6" y2="113.78"/><line x1="216.4" y1="120.05" x2="217.6" y2="120.05"/><line x1="216.4" y1="126.32" x2="217.6" y2="126.32"/><line x1="216.4" y1="132.59" x2="217.6" y2="132.59"/><line x1="216.4" y1="138.86" x2="217.6" y2="138.86"/><line x1="216.4" y1="145.13" x2="217.6" y2="145.13"/><line x1="216.4" y1="151.40" x2="217.6" y2="151.40"/><line x1="216.4" y1="157.67" x2="217.6" y2="157.67"/><line x1="216.4" y1="163.94" x2="217.6" y2="163.94"/><line x1="216.4" y1="170.21" x2="217.6" y2="170.21"/><line x1="216.4" y1="176.48" x2="217.6" y2="176.48"/></g><g font-family="Liberation Sans, sans-serif" font-size="3.4" fill="#555"><text x="15.70" y="186.90" text-anchor="middle">5.4</text><text x="24.20" y="186.90" text-anchor="middle">5.3</text><text x="32.70" y="186.90" text-anchor="middle">5.2</text><text x="41.20" y="186.90" text-anchor="middle">5.1</text><text x="49.70" y="186.90" text-anchor="middle">5.0</text><text x="58.20" y="186.90" text-anchor="middle">4.9</text><text x="66.70" y="186.90" text-anchor="middle">4.8</text><text x="75.20" y="186.90" text-anchor="middle">4.7</text><text x="83.70" y="186.90" text-anchor="middle">4.6</text><text x="92.20" y="186.90" text-anchor="middle">4.5</text><text x="100.70" y="186.90" text-anchor="middle">4.4</text><text x="109.20" y="186.90" text-anchor="middle">4.3</text><text x="117.70" y="186.90" text-anchor="middle">4.2</text><text x="126.20" y="186.90" text-anchor="middle">4.1</text><text x="134.70" y="186.90" text-anchor="middle">4.0</text><text x="143.20" y="186.90" text-anchor="middle">3.9</text><text x="151.70" y="186.90" text-anchor="middle">3.8</text><text x="160.20" y="186.90" text-anchor="middle">3.7</text><text x="168.70" y="186.90" text-anchor="middle">3.6</text><text x="177.20" y="186.90" text-anchor="middle">3.5</text><text x="185.70" y="186.90" text-anchor="middle">3.4</text><text x="194.20" y="186.90" text-anchor="middle">3.3</text><text x="202.70" y="186.90" text-anchor="middle">3.2</text><text x="211.20" y="186.90" text-anchor="middle">3.1</text><text x="217.90" y="27.20">3.1</text><text x="217.90" y="33.47">3.2</text><text x="217.90" y="39.74">3.3</text><text x="217.90" y="46.01">3.4</text><text x="217.90" y="52.28">3.5</text><text x="217.90" y="58.55">3.6</text><text x="217.90" y="64.82">3.7</text><text x="217.90" y="71.09">3.8</text><text x="217.90" y="77.36">3.9</text><text x="217.90" y="83.63">4.0</text><text x="217.90" y="89.90">4.1</text><text x="217.90" y="96.17">4.2</text><text x="217.90" y="102.44">4.3</text><text x="217.90" y="108.71">4.4</text><text x="217.90" y="114.98">4.5</text><text x="217.90" y="121.25">4.6</text><text x="217.90" y="127.52">4.7</text><text x="217.90" y="133.79">4.8</text><text x="217.90" y="140.06">4.9</text><text x="217.90" y="146.33">5.0</text><text x="217.90" y="152.60">5.1</text><text x="217.90" y="158.87">5.2</text><text x="217.90" y="165.14">5.3</text><text x="217.90" y="171.41">5.4</text><text x="217.90" y="177.68">5.5</text><text x="105.5" y="189.20">f2 (ppm)</text></g></g>
<g clip-path="url(#cAb)"><g filter="url(#bl)" transform="translate(2.6 175.8) scale(0.993 0.797)"><g stroke="#dcdcdc" stroke-width="0.75"><line x1="7.20" y1="10.0" x2="7.20" y2="195.0"/><line x1="15.70" y1="10.0" x2="15.70" y2="195.0"/><line x1="24.20" y1="10.0" x2="24.20" y2="195.0"/><line x1="32.70" y1="10.0" x2="32.70" y2="195.0"/><line x1="41.20" y1="10.0" x2="41.20" y2="195.0"/><line x1="49.70" y1="10.0" x2="49.70" y2="195.0"/><line x1="58.20" y1="10.0" x2="58.20" y2="195.0"/><line x1="66.70" y1="10.0" x2="66.70" y2="195.0"/><line x1="75.20" y1="10.0" x2="75.20" y2="195.0"/><line x1="83.70" y1="10.0" x2="83.70" y2="195.0"/><line x1="92.20" y1="10.0" x2="92.20" y2="195.0"/><line x1="100.70" y1="10.0" x2="100.70" y2="195.0"/><line x1="109.20" y1="10.0" x2="109.20" y2="195.0"/><line x1="117.70" y1="10.0" x2="117.70" y2="195.0"/><line x1="126.20" y1="10.0" x2="126.20" y2="195.0"/><line x1="134.70" y1="10.0" x2="134.70" y2="195.0"/><line x1="143.20" y1="10.0" x2="143.20" y2="195.0"/><line x1="151.70" y1="10.0" x2="151.70" y2="195.0"/><line x1="160.20" y1="10.0" x2="160.20" y2="195.0"/><line x1="168.70" y1="10.0" x2="168.70" y2="195.0"/><line x1="177.20" y1="10.0" x2="177.20" y2="195.0"/><line x1="185.70" y1="10.0" x2="185.70" y2="195.0"/><line x1="194.20" y1="10.0" x2="194.20" y2="195.0"/><line x1="202.70" y1="10.0" x2="202.70" y2="195.0"/><line x1="211.20" y1="10.0" x2="211.20" y2="195.0"/><line x1="219.70" y1="10.0" x2="219.70" y2="195.0"/></g><g stroke="#e4e4e4" stroke-width="0.75"><line x1="0.0" y1="19.73" x2="230.0" y2="19.73"/><line x1="0.0" y1="26.00" x2="230.0" y2="26.00"/><line x1="0.0" y1="32.27" x2="230.0" y2="32.27"/><line x1="0.0" y1="38.54" x2="230.0" y2="38.54"/><line x1="0.0" y1="44.81" x2="230.0" y2="44.81"/><line x1="0.0" y1="51.08" x2="230.0" y2="51.08"/><line x1="0.0" y1="57.35" x2="230.0" y2="57.35"/><line x1="0.0" y1="63.62" x2="230.0" y2="63.62"/><line x1="0.0" y1="69.89" x2="230.0" y2="69.89"/><line x1="0.0" y1="76.16" x2="230.0" y2="76.16"/><line x1="0.0" y1="82.43" x2="230.0" y2="82.43"/><line x1="0.0" y1="88.70" x2="230.0" y2="88.70"/><line x1="0.0" y1="94.97" x2="230.0" y2="94.97"/><line x1="0.0" y1="101.24" x2="230.0" y2="101.24"/><line x1="0.0" y1="107.51" x2="230.0" y2="107.51"/><line x1="0.0" y1="113.78" x2="230.0" y2="113.78"/><line x1="0.0" y1="120.05" x2="230.0" y2="120.05"/><line x1="0.0" y1="126.32" x2="230.0" y2="126.32"/><line x1="0.0" y1="132.59" x2="230.0" y2="132.59"/><line x1="0.0" y1="138.86" x2="230.0" y2="138.86"/><line x1="0.0" y1="145.13" x2="230.0" y2="145.13"/><line x1="0.0" y1="151.40" x2="230.0" y2="151.40"/><line x1="0.0" y1="157.67" x2="230.0" y2="157.67"/><line x1="0.0" y1="163.94" x2="230.0" y2="163.94"/><line x1="0.0" y1="170.21" x2="230.0" y2="170.21"/><line x1="0.0" y1="176.48" x2="230.0" y2="176.48"/><line x1="0.0" y1="182.75" x2="230.0" y2="182.75"/></g><ellipse cx="150.00" cy="60.00" rx="8.00" ry="7.00" fill="#e2e2e2"/><ellipse cx="158.00" cy="70.00" rx="7.00" ry="5.00" fill="#e2e2e2"/><ellipse cx="143.00" cy="72.00" rx="5.00" ry="4.50" fill="#e2e2e2"/><ellipse cx="170.00" cy="50.00" rx="5.00" ry="4.00" fill="#e2e2e2"/><ellipse cx="140.00" cy="80.00" rx="3.00" ry="2.50" fill="#e2e2e2"/><ellipse cx="128.00" cy="84.00" rx="3.00" ry="2.50" fill="#e2e2e2"/><ellipse cx="115.00" cy="96.00" rx="3.00" ry="2.00" fill="#e2e2e2"/><rect x="144.05" y="67.49" width="1.58" height="3.61" rx="0.7" fill="#b8b8b8"/><rect x="131.96" y="73.30" width="1.86" height="1.99" rx="0.7" fill="#b8b8b8"/><rect x="148.63" y="66.12" width="2.22" height="3.62" rx="0.7" fill="#b8b8b8"/><rect x="133.19" y="74.28" width="2.49" height="1.94" rx="0.7" fill="#b8b8b8"/><rect x="157.66" y="52.98" width="1.58" height="3.69" rx="0.7" fill="#b8b8b8"/><rect x="141.82" y="68.00" width="2.47" height="3.03" rx="0.7" fill="#b8b8b8"/><rect x="162.17" y="52.75" width="2.59" height="2.62" rx="0.7" fill="#b8b8b8"/><rect x="155.21" y="57.93" width="2.55" height="2.89" rx="0.7" fill="#b8b8b8"/><rect x="154.11" y="71.42" width="3.07" height="2.60" rx="0.7" fill="#b8b8b8"/><rect x="139.96" y="68.39" width="1.91" height="3.06" rx="0.7" fill="#b8b8b8"/><rect x="154.32" y="72.97" width="1.99" height="3.96" rx="0.7" fill="#b8b8b8"/><rect x="133.10" y="84.51" width="2.08" height="3.85" rx="0.7" fill="#b8b8b8"/><rect x="148.69" y="60.88" width="2.47" height="3.73" rx="0.7" fill="#b8b8b8"/><rect x="143.07" y="80.70" width="2.49" height="2.80" rx="0.7" fill="#b8b8b8"/><rect x="170.36" y="59.91" width="2.63" height="1.93" rx="0.7" fill="#b8b8b8"/><rect x="163.40" y="63.17" width="2.16" height="3.27" rx="0.7" fill="#b8b8b8"/><rect x="127.90" y="90.11" width="2.54" height="2.89" rx="0.7" fill="#b8b8b8"/><rect x="138.39" y="80.97" width="1.92" height="2.66" rx="0.7" fill="#b8b8b8"/><rect x="172.22" y="48.66" width="2.18" height="2.41" rx="0.7" fill="#b8b8b8"/><rect x="134.13" y="89.59" width="1.97" height="2.71" rx="0.7" fill="#b8b8b8"/><rect x="145.78" y="81.99" width="1.76" height="2.19" rx="0.7" fill="#b8b8b8"/><rect x="138.61" y="74.61" width="2.91" height="2.20" rx="0.7" fill="#b8b8b8"/><rect x="141.60" y="69.20" width="2.13" height="3.05" rx="0.7" fill="#b8b8b8"/><rect x="176.07" y="42.58" width="2.98" height="3.89" rx="0.7" fill="#b8b8b8"/><rect x="162.30" y="65.03" width="2.17" height="2.86" rx="0.7" fill="#b8b8b8"/><rect x="147.90" y="67.71" width="1.85" height="2.16" rx="0.7" fill="#b8b8b8"/><rect x="144.45" y="69.37" width="2.46" height="2.98" rx="0.7" fill="#b8b8b8"/><rect x="176.42" y="46.28" width="1.85" height="2.63" rx="0.7" fill="#b8b8b8"/><rect x="159.84" y="68.75" width="2.31" height="2.05" rx="0.7" fill="#b8b8b8"/><rect x="152.36" y="73.46" width="2.03" height="2.12" rx="0.7" fill="#b8b8b8"/><rect x="165.64" y="62.93" width="2.68" height="2.94" rx="0.7" fill="#b8b8b8"/><rect x="137.46" y="82.00" width="2.42" height="1.86" rx="0.7" fill="#b8b8b8"/><rect x="154.49" y="57.84" width="1.94" height="2.61" rx="0.7" fill="#b8b8b8"/><rect x="135.27" y="73.05" width="2.82" height="2.53" rx="0.7" fill="#b8b8b8"/><rect x="138.15" y="68.38" width="2.89" height="3.43" rx="0.7" fill="#b8b8b8"/><rect x="139.02" y="82.74" width="1.55" height="1.86" rx="0.7" fill="#b8b8b8"/><rect x="141.27" y="79.14" width="2.53" height="2.56" rx="0.7" fill="#b8b8b8"/><rect x="168.99" y="64.56" width="2.12" height="2.29" rx="0.7" fill="#b8b8b8"/><rect x="138.64" y="71.48" width="2.32" height="3.97" rx="0.7" fill="#b8b8b8"/><rect x="158.43" y="55.82" width="2.61" height="3.56" rx="0.7" fill="#b8b8b8"/><rect x="130.99" y="72.93" width="2.83" height="3.45" rx="0.7" fill="#b8b8b8"/><rect x="151.57" y="62.05" width="2.58" height="1.99" rx="0.7" fill="#b8b8b8"/><rect x="175.82" y="55.70" width="2.76" height="1.99" rx="0.7" fill="#b8b8b8"/><rect x="135.01" y="77.00" width="2.50" height="2.82" rx="0.7" fill="#b8b8b8"/><rect x="161.06" y="67.86" width="2.10" height="3.01" rx="0.7" fill="#b8b8b8"/><rect x="133.44" y="72.69" width="2.73" height="2.03" rx="0.7" fill="#b8b8b8"/><rect x="165.48" y="50.76" width="2.98" height="3.62" rx="0.7" fill="#b8b8b8"/><rect x="137.80" y="81.46" width="2.35" height="3.48" rx="0.7" fill="#b8b8b8"/><rect x="144.15" y="81.71" width="1.60" height="3.43" rx="0.7" fill="#b8b8b8"/><rect x="173.18" y="60.26" width="2.99" height="2.09" rx="0.7" fill="#b8b8b8"/><rect x="134.49" y="70.78" width="2.82" height="3.14" rx="0.7" fill="#b8b8b8"/><rect x="167.20" y="51.80" width="2.30" height="3.40" rx="0.7" fill="#b8b8b8"/><rect x="155.74" y="71.96" width="2.40" height="2.86" rx="0.7" fill="#b8b8b8"/><rect x="167.39" y="51.16" width="1.97" height="3.50" rx="0.7" fill="#b8b8b8"/><rect x="152.88" y="58.06" width="3.05" height="2.78" rx="0.7" fill="#b8b8b8"/><rect x="158.72" y="54.42" width="2.27" height="2.97" rx="0.7" fill="#b8b8b8"/><rect x="151.36" y="59.12" width="2.99" height="3.87" rx="0.7" fill="#b8b8b8"/><rect x="140.63" y="67.40" width="1.73" height="2.07" rx="0.7" fill="#b8b8b8"/><rect x="149.88" y="61.52" width="2.23" height="2.27" rx="0.7" fill="#b8b8b8"/><rect x="142.86" y="64.65" width="1.76" height="3.38" rx="0.7" fill="#b8b8b8"/><rect x="161.47" y="55.95" width="1.73" height="2.83" rx="0.7" fill="#b8b8b8"/><rect x="165.66" y="50.95" width="2.33" height="3.98" rx="0.7" fill="#b8b8b8"/><rect x="169.69" y="45.97" width="3.19" height="2.69" rx="0.7" fill="#b8b8b8"/><rect x="148.54" y="74.96" width="2.73" height="1.84" rx="0.7" fill="#b8b8b8"/><rect x="155.73" y="72.17" width="2.15" height="2.94" rx="0.7" fill="#b8b8b8"/><rect x="141.83" y="71.35" width="3.06" height="2.30" rx="0.7" fill="#b8b8b8"/><rect x="172.79" y="47.17" width="1.57" height="3.51" rx="0.7" fill="#b8b8b8"/><rect x="140.59" y="66.52" width="2.94" height="3.29" rx="0.7" fill="#b8b8b8"/><rect x="175.66" y="52.82" width="3.06" height="3.06" rx="0.7" fill="#b8b8b8"/><rect x="162.99" y="54.52" width="2.86" height="2.20" rx="0.7" fill="#b8b8b8"/><line x1="33.00" y1="157.79" x2="44.00" y2="149.62" stroke="#9a9a9a" stroke-width="2.0" stroke-linecap="round"/><line x1="57.50" y1="139.60" x2="60.50" y2="137.37" stroke="#9a9a9a" stroke-width="2.2" stroke-linecap="round"/><line x1="58.00" y1="139.23" x2="60.00" y2="137.74" stroke="#646464" stroke-width="0.9" stroke-linecap="round"/><line x1="62.50" y1="135.89" x2="66.00" y2="133.29" stroke="#9a9a9a" stroke-width="2.2" stroke-linecap="round"/><line x1="63.00" y1="135.51" x2="65.50" y2="133.66" stroke="#646464" stroke-width="0.9" stroke-linecap="round"/><line x1="68.00" y1="131.80" x2="71.50" y2="129.20" stroke="#9a9a9a" stroke-width="2.2" stroke-linecap="round"/><line x1="68.50" y1="131.43" x2="71.00" y2="129.57" stroke="#646464" stroke-width="0.9" stroke-linecap="round"/><line x1="79.00" y1="123.63" x2="190.00" y2="41.22" stroke="#dcdcdc" stroke-width="4.6" stroke-linecap="round"/><line x1="78.00" y1="124.38" x2="193.50" y2="38.62" stroke="#9a9a9a" stroke-width="2.8" stroke-linecap="round"/><line x1="80.00" y1="122.89" x2="186.00" y2="44.19" stroke="#646464" stroke-width="1.8" stroke-linecap="round"/><line x1="126.00" y1="88.74" x2="178.00" y2="50.13" stroke="#2a2a2a" stroke-width="1.9" stroke-linecap="round"/><ellipse cx="92.50" cy="113.61" rx="5.00" ry="1.70" fill="#9a9a9a" transform="rotate(-36.6 92.50 113.61)"/><ellipse cx="92.50" cy="113.61" rx="4.00" ry="1.36" fill="#646464" transform="rotate(-36.6 92.50 113.61)"/><ellipse cx="92.50" cy="113.61" rx="2.50" ry="0.85" fill="#2a2a2a" transform="rotate(-36.6 92.50 113.61)"/><ellipse cx="106.00" cy="103.59" rx="6.50" ry="2.70" fill="#9a9a9a" transform="rotate(-36.6 106.00 103.59)"/><ellipse cx="106.00" cy="103.59" rx="5.20" ry="2.16" fill="#646464" transform="rotate(-36.6 106.00 103.59)"/><ellipse cx="106.00" cy="103.59" rx="3.25" ry="1.35" fill="#2a2a2a" transform="rotate(-36.6 106.00 103.59)"/><ellipse cx="106.00" cy="103.59" rx="1.30" ry="0.54" fill="#101010" transform="rotate(-36.6 106.00 103.59)"/><ellipse cx="118.50" cy="94.31" rx="3.50" ry="1.90" fill="#9a9a9a" transform="rotate(-36.6 118.50 94.31)"/><ellipse cx="118.50" cy="94.31" rx="2.80" ry="1.52" fill="#646464" transform="rotate(-36.6 118.50 94.31)"/><ellipse cx="118.50" cy="94.31" rx="1.75" ry="0.95" fill="#2a2a2a" transform="rotate(-36.6 118.50 94.31)"/><ellipse cx="137.00" cy="80.57" rx="3.50" ry="1.80" fill="#9a9a9a" transform="rotate(-36.6 137.00 80.57)"/><ellipse cx="137.00" cy="80.57" rx="2.80" ry="1.44" fill="#646464" transform="rotate(-36.6 137.00 80.57)"/><ellipse cx="137.00" cy="80.57" rx="1.75" ry="0.90" fill="#2a2a2a" transform="rotate(-36.6 137.00 80.57)"/><ellipse cx="146.00" cy="73.89" rx="5.00" ry="2.10" fill="#9a9a9a" transform="rotate(-36.6 146.00 73.89)"/><ellipse cx="146.00" cy="73.89" rx="4.00" ry="1.68" fill="#646464" transform="rotate(-36.6 146.00 73.89)"/><ellipse cx="146.00" cy="73.89" rx="2.50" ry="1.05" fill="#2a2a2a" transform="rotate(-36.6 146.00 73.89)"/><ellipse cx="146.00" cy="73.89" rx="1.00" ry="0.42" fill="#101010" transform="rotate(-36.6 146.00 73.89)"/><ellipse cx="160.00" cy="63.50" rx="4.50" ry="2.00" fill="#9a9a9a" transform="rotate(-36.6 160.00 63.50)"/><ellipse cx="160.00" cy="63.50" rx="3.60" ry="1.60" fill="#646464" transform="rotate(-36.6 160.00 63.50)"/><ellipse cx="160.00" cy="63.50" rx="2.25" ry="1.00" fill="#2a2a2a" transform="rotate(-36.6 160.00 63.50)"/><ellipse cx="183.00" cy="46.42" rx="4.50" ry="1.90" fill="#9a9a9a" transform="rotate(-36.6 183.00 46.42)"/><ellipse cx="183.00" cy="46.42" rx="3.60" ry="1.52" fill="#646464" transform="rotate(-36.6 183.00 46.42)"/><line x1="130.00" y1="85.77" x2="176.00" y2="51.62" stroke="#2a2a2a" stroke-width="1.4" stroke-linecap="round"/><line x1="86.00" y1="118.44" x2="126.00" y2="88.74" stroke="#2a2a2a" stroke-width="1.1" stroke-linecap="round"/><ellipse cx="50.00" cy="145.17" rx="8.50" ry="4.00" fill="#e2e2e2" transform="rotate(-36.6 50.00 145.17)"/><ellipse cx="50.00" cy="145.17" rx="3.00" ry="6.00" fill="#b8b8b8" transform="rotate(-36.6 50.00 145.17)"/><ellipse cx="50.00" cy="145.17" rx="7.50" ry="2.80" fill="#dcdcdc" transform="rotate(-36.6 50.00 145.17)"/><ellipse cx="50.00" cy="145.17" rx="7.00" ry="2.30" fill="#9a9a9a" transform="rotate(-36.6 50.00 145.17)"/><ellipse cx="50.00" cy="145.17" rx="5.60" ry="1.84" fill="#646464" transform="rotate(-36.6 50.00 145.17)"/><ellipse cx="50.00" cy="145.17" rx="3.50" ry="1.15" fill="#2a2a2a" transform="rotate(-36.6 50.00 145.17)"/><ellipse cx="50.00" cy="145.17" rx="1.40" ry="0.46" fill="#101010" transform="rotate(-36.6 50.00 145.17)"/><ellipse cx="31.00" cy="159.27" rx="4.50" ry="2.20" fill="#dcdcdc" transform="rotate(-36.6 31.00 159.27)"/><ellipse cx="31.00" cy="159.27" rx="4.00" ry="1.70" fill="#9a9a9a" transform="rotate(-36.6 31.00 159.27)"/><ellipse cx="31.00" cy="159.27" rx="3.20" ry="1.36" fill="#646464" transform="rotate(-36.6 31.00 159.27)"/><ellipse cx="31.00" cy="159.27" rx="2.00" ry="0.85" fill="#2a2a2a" transform="rotate(-36.6 31.00 159.27)"/><path d="M51 101.5 L96 101.5 Q101 101.5 104 102.7" stroke="#dcdcdc" stroke-width="3.0" fill="none"/><path d="M52 101.5 L96 101.5 Q101 101.5 104 102.7" stroke="#9a9a9a" stroke-width="2.0" fill="none"/><path d="M62 101.5 L96 101.5 Q101 101.5 104 102.7" stroke="#646464" stroke-width="0.9" fill="none"/><line x1="106" y1="103.1" x2="111" y2="103.3" stroke="#9a9a9a" stroke-width="1.4" stroke-linecap="round"/><ellipse cx="50.20" cy="103.80" rx="0.90" ry="1.20" fill="#9a9a9a"/><line x1="76.3" y1="10.0" x2="76.3" y2="101.5" stroke="#e2e2e2" stroke-width="1.0"/><line x1="76.3" y1="10.0" x2="76.3" y2="101.5" stroke="#b0b0b0" stroke-width="0.45"/><line x1="76.3" y1="101.5" x2="76.3" y2="125.6" stroke="#dcdcdc" stroke-width="3.2"/><line x1="76.3" y1="101.5" x2="76.3" y2="125.6" stroke="#9a9a9a" stroke-width="2.0"/><line x1="76.3" y1="125.6" x2="76.3" y2="138" stroke="#9a9a9a" stroke-width="2.4"/><line x1="76.3" y1="139" x2="76.3" y2="143" stroke="#9a9a9a" stroke-width="1.1" stroke-linecap="round"/><line x1="76.3" y1="146" x2="76.3" y2="151" stroke="#9a9a9a" stroke-width="1.1" stroke-linecap="round"/><line x1="76.3" y1="155" x2="76.3" y2="157" stroke="#9a9a9a" stroke-width="1.1" stroke-linecap="round"/><line x1="76.3" y1="160" x2="76.3" y2="162" stroke="#9a9a9a" stroke-width="1.1" stroke-linecap="round"/><line x1="76.3" y1="164" x2="76.3" y2="168" stroke="#9a9a9a" stroke-width="1.1" stroke-linecap="round"/><line x1="76.3" y1="170" x2="76.3" y2="176" stroke="#9a9a9a" stroke-width="1.1" stroke-linecap="round"/><line x1="76.3" y1="178" x2="76.3" y2="182" stroke="#9a9a9a" stroke-width="1.1" stroke-linecap="round"/><ellipse cx="76.60" cy="93.80" rx="0.90" ry="1.60" fill="#646464"/><ellipse cx="76.60" cy="93.80" rx="1.50" ry="2.20" fill="#9a9a9a" opacity="0.6"/><ellipse cx="76.30" cy="101.50" rx="6.00" ry="1.20" fill="#646464"/><ellipse cx="76.30" cy="101.50" rx="2.40" ry="1.50" fill="#2a2a2a"/><line x1="0.0" y1="125.6" x2="120" y2="125.6" stroke="#dcdcdc" stroke-width="3.4"/><line x1="120" y1="125.6" x2="230.0" y2="125.6" stroke="#dcdcdc" stroke-width="2.4"/><line x1="0.0" y1="125.6" x2="120" y2="125.6" stroke="#9a9a9a" stroke-width="2.5"/><line x1="120" y1="125.6" x2="230.0" y2="125.6" stroke="#a2a2a2" stroke-width="1.4"/><ellipse cx="72.30" cy="125.60" rx="52.00" ry="2.60" fill="#9a9a9a"/><ellipse cx="76.30" cy="125.60" rx="26.00" ry="1.60" fill="#646464"/><ellipse cx="76.30" cy="125.60" rx="2.60" ry="12.00" fill="#9a9a9a"/><ellipse cx="76.30" cy="125.60" rx="1.80" ry="8.00" fill="#646464"/><ellipse cx="76.30" cy="125.60" rx="7.50" ry="2.80" fill="#6a6a6a"/><ellipse cx="76.30" cy="125.60" rx="3.00" ry="4.20" fill="#6a6a6a"/><ellipse cx="76.30" cy="125.60" rx="2.60" ry="2.00" fill="#101010"/><polygon points="69.50,28.40 74.40,26.88 76.30,23.40 78.20,26.88 83.10,28.40 78.20,29.92 76.30,33.40 74.40,29.92" fill="#b8b8b8" stroke="#e2e2e2" stroke-width="0.6" stroke-linejoin="round"/><ellipse cx="76.30" cy="28.40" rx="2.00" ry="1.40" fill="#929292"/><ellipse cx="76.30" cy="28.40" rx="1.00" ry="0.80" fill="#6e6e6e"/><ellipse cx="77.60" cy="32.40" rx="1.20" ry="1.80" fill="#b8b8b8"/><polygon points="69.10,52.80 74.40,51.28 76.30,47.60 78.20,51.28 83.50,52.80 78.20,54.32 76.30,58.00 74.40,54.32" fill="#b8b8b8" stroke="#e2e2e2" stroke-width="0.6" stroke-linejoin="round"/><ellipse cx="76.30" cy="52.80" rx="2.00" ry="1.40" fill="#929292"/><ellipse cx="76.30" cy="52.80" rx="1.00" ry="0.80" fill="#6e6e6e"/><polygon points="71.50,77.20 74.40,75.68 76.30,74.60 78.20,75.68 81.10,77.20 78.20,78.72 76.30,79.80 74.40,78.72" fill="#b8b8b8" stroke="#e2e2e2" stroke-width="0.6" stroke-linejoin="round"/><ellipse cx="76.30" cy="77.20" rx="2.00" ry="1.40" fill="#929292"/><ellipse cx="31.60" cy="66.50" rx="3.00" ry="4.80" fill="#e2e2e2" transform="rotate(-30.0 31.60 66.50)"/><ellipse cx="31.60" cy="66.50" rx="2.50" ry="4.30" fill="#b8b8b8" transform="rotate(-30.0 31.60 66.50)"/><ellipse cx="31.60" cy="66.50" rx="2.00" ry="3.44" fill="#929292" transform="rotate(-30.0 31.60 66.50)"/><ellipse cx="31.60" cy="66.50" rx="1.25" ry="2.15" fill="#6e6e6e" transform="rotate(-30.0 31.60 66.50)"/><ellipse cx="48.20" cy="62.60" rx="2.70" ry="4.90" fill="#e2e2e2" transform="rotate(-30.0 48.20 62.60)"/><ellipse cx="48.20" cy="62.60" rx="2.20" ry="4.40" fill="#b8b8b8" transform="rotate(-30.0 48.20 62.60)"/><ellipse cx="48.20" cy="62.60" rx="1.76" ry="3.52" fill="#929292" transform="rotate(-30.0 48.20 62.60)"/><ellipse cx="48.20" cy="62.60" rx="1.10" ry="2.20" fill="#6e6e6e" transform="rotate(-30.0 48.20 62.60)"/><ellipse cx="51.80" cy="60.40" rx="2.70" ry="4.90" fill="#e2e2e2" transform="rotate(-30.0 51.80 60.40)"/><ellipse cx="51.80" cy="60.40" rx="2.20" ry="4.40" fill="#b8b8b8" transform="rotate(-30.0 51.80 60.40)"/><ellipse cx="51.80" cy="60.40" rx="1.76" ry="3.52" fill="#929292" transform="rotate(-30.0 51.80 60.40)"/><ellipse cx="51.80" cy="60.40" rx="1.10" ry="2.20" fill="#6e6e6e" transform="rotate(-30.0 51.80 60.40)"/><ellipse cx="57.50" cy="67.50" rx="1.50" ry="1.70" fill="#e2e2e2"/><ellipse cx="57.50" cy="67.50" rx="1.00" ry="1.20" fill="#b8b8b8"/><ellipse cx="65.50" cy="59.70" rx="1.80" ry="2.40" fill="#e2e2e2"/><ellipse cx="65.50" cy="59.70" rx="1.30" ry="1.90" fill="#b8b8b8"/><ellipse cx="36.80" cy="83.00" rx="1.70" ry="2.00" fill="#e2e2e2"/><ellipse cx="36.80" cy="83.00" rx="1.20" ry="1.50" fill="#b8b8b8"/><ellipse cx="40.00" cy="78.60" rx="1.50" ry="1.50" fill="#e2e2e2"/><ellipse cx="40.00" cy="78.60" rx="1.00" ry="1.00" fill="#b8b8b8"/><ellipse cx="86.80" cy="56.80" rx="2.40" ry="3.70" fill="#e2e2e2" transform="rotate(30.0 86.80 56.80)"/><ellipse cx="86.80" cy="56.80" rx="1.90" ry="3.20" fill="#b8b8b8" transform="rotate(30.0 86.80 56.80)"/><ellipse cx="86.80" cy="56.80" rx="1.52" ry="2.56" fill="#929292" transform="rotate(30.0 86.80 56.80)"/><ellipse cx="89.80" cy="52.60" rx="1.30" ry="2.00" fill="#e2e2e2" transform="rotate(40.0 89.80 52.60)"/><ellipse cx="89.80" cy="52.60" rx="0.80" ry="1.50" fill="#b8b8b8" transform="rotate(40.0 89.80 52.60)"/><ellipse cx="91.60" cy="76.00" rx="1.90" ry="2.40" fill="#e2e2e2"/><ellipse cx="91.60" cy="76.00" rx="1.40" ry="1.90" fill="#b8b8b8"/><ellipse cx="123.50" cy="24.70" rx="1.80" ry="2.40" fill="#e2e2e2"/><ellipse cx="123.50" cy="24.70" rx="1.30" ry="1.90" fill="#b8b8b8"/><ellipse cx="118.50" cy="32.00" rx="3.00" ry="2.40" fill="#e2e2e2" transform="rotate(-15.0 118.50 32.00)"/><ellipse cx="118.50" cy="32.00" rx="2.50" ry="1.90" fill="#b8b8b8" transform="rotate(-15.0 118.50 32.00)"/><ellipse cx="118.50" cy="32.00" rx="2.00" ry="1.52" fill="#929292" transform="rotate(-15.0 118.50 32.00)"/><ellipse cx="109.20" cy="62.50" rx="2.90" ry="3.80" fill="#e2e2e2"/><ellipse cx="109.20" cy="62.50" rx="2.40" ry="3.30" fill="#b8b8b8"/><ellipse cx="109.20" cy="62.50" rx="1.92" ry="2.64" fill="#929292"/><ellipse cx="118.50" cy="60.50" rx="3.00" ry="2.15" fill="#e2e2e2"/><ellipse cx="118.50" cy="60.50" rx="2.50" ry="1.65" fill="#b8b8b8"/><ellipse cx="123.80" cy="57.20" rx="2.60" ry="4.40" fill="#e2e2e2" transform="rotate(20.0 123.80 57.20)"/><ellipse cx="123.80" cy="57.20" rx="2.10" ry="3.90" fill="#b8b8b8" transform="rotate(20.0 123.80 57.20)"/><ellipse cx="123.80" cy="57.20" rx="1.68" ry="3.12" fill="#929292" transform="rotate(20.0 123.80 57.20)"/><ellipse cx="123.80" cy="57.20" rx="1.05" ry="1.95" fill="#6e6e6e" transform="rotate(20.0 123.80 57.20)"/><ellipse cx="126.30" cy="63.60" rx="2.30" ry="3.90" fill="#e2e2e2"/><ellipse cx="126.30" cy="63.60" rx="1.80" ry="3.40" fill="#b8b8b8"/><ellipse cx="126.30" cy="63.60" rx="1.44" ry="2.72" fill="#929292"/><ellipse cx="118.80" cy="72.10" rx="3.00" ry="4.80" fill="#e2e2e2" transform="rotate(15.0 118.80 72.10)"/><ellipse cx="118.80" cy="72.10" rx="2.50" ry="4.30" fill="#b8b8b8" transform="rotate(15.0 118.80 72.10)"/><ellipse cx="118.80" cy="72.10" rx="2.00" ry="3.44" fill="#929292" transform="rotate(15.0 118.80 72.10)"/><ellipse cx="103.80" cy="77.60" rx="2.75" ry="3.50" fill="#e2e2e2"/><ellipse cx="103.80" cy="77.60" rx="2.25" ry="3.00" fill="#b8b8b8"/><ellipse cx="103.80" cy="77.60" rx="1.80" ry="2.40" fill="#929292"/><ellipse cx="107.80" cy="79.00" rx="2.75" ry="3.50" fill="#e2e2e2"/><ellipse cx="107.80" cy="79.00" rx="2.25" ry="3.00" fill="#b8b8b8"/><ellipse cx="107.80" cy="79.00" rx="1.80" ry="2.40" fill="#929292"/><ellipse cx="105.80" cy="82.00" rx="3.50" ry="1.80" fill="#e2e2e2"/><ellipse cx="105.80" cy="82.00" rx="3.00" ry="1.30" fill="#b8b8b8"/><ellipse cx="114.00" cy="84.30" rx="2.50" ry="2.15" fill="#e2e2e2"/><ellipse cx="114.00" cy="84.30" rx="2.00" ry="1.65" fill="#b8b8b8"/><ellipse cx="123.50" cy="80.50" rx="2.50" ry="3.25" fill="#e2e2e2"/><ellipse cx="123.50" cy="80.50" rx="2.00" ry="2.75" fill="#b8b8b8"/><ellipse cx="123.50" cy="80.50" rx="1.60" ry="2.20" fill="#929292"/><ellipse cx="106.90" cy="94.40" rx="2.00" ry="2.30" fill="#e2e2e2"/><ellipse cx="106.90" cy="94.40" rx="1.50" ry="1.80" fill="#b8b8b8"/><ellipse cx="106.90" cy="94.40" rx="1.20" ry="1.44" fill="#929292"/><ellipse cx="118.40" cy="102.80" rx="2.75" ry="2.30" fill="#e2e2e2"/><ellipse cx="118.40" cy="102.80" rx="2.25" ry="1.80" fill="#b8b8b8"/><ellipse cx="132.20" cy="97.20" rx="1.70" ry="2.20" fill="#e2e2e2"/><ellipse cx="132.20" cy="97.20" rx="1.20" ry="1.70" fill="#b8b8b8"/><ellipse cx="136.00" cy="90.20" rx="2.20" ry="2.50" fill="#e2e2e2"/><ellipse cx="136.00" cy="90.20" rx="1.70" ry="2.00" fill="#b8b8b8"/><ellipse cx="136.00" cy="90.20" rx="1.36" ry="1.60" fill="#929292"/><ellipse cx="113.80" cy="85.00" rx="2.00" ry="1.80" fill="#e2e2e2"/><ellipse cx="113.80" cy="85.00" rx="1.50" ry="1.30" fill="#b8b8b8"/><ellipse cx="97.00" cy="88.50" rx="1.50" ry="1.50" fill="#e2e2e2"/><ellipse cx="97.00" cy="88.50" rx="1.00" ry="1.00" fill="#b8b8b8"/><ellipse cx="178.00" cy="54.50" rx="2.50" ry="2.30" fill="#e2e2e2"/><ellipse cx="178.00" cy="54.50" rx="2.00" ry="1.80" fill="#b8b8b8"/><ellipse cx="176.00" cy="51.50" rx="1.50" ry="1.50" fill="#e2e2e2"/><ellipse cx="176.00" cy="51.50" rx="1.00" ry="1.00" fill="#b8b8b8"/><ellipse cx="140.20" cy="64.00" rx="4.70" ry="4.20" fill="#e2e2e2"/><ellipse cx="140.20" cy="64.00" rx="4.20" ry="3.70" fill="#b8b8b8"/><ellipse cx="140.20" cy="64.00" rx="3.36" ry="2.96" fill="#929292"/><ellipse cx="140.20" cy="64.00" rx="2.10" ry="1.85" fill="#6e6e6e"/><ellipse cx="161.00" cy="78.00" rx="4.30" ry="3.80" fill="#e2e2e2" transform="rotate(-10.0 161.00 78.00)"/><ellipse cx="161.00" cy="78.00" rx="3.80" ry="3.30" fill="#b8b8b8" transform="rotate(-10.0 161.00 78.00)"/><ellipse cx="161.00" cy="78.00" rx="3.04" ry="2.64" fill="#929292" transform="rotate(-10.0 161.00 78.00)"/><ellipse cx="161.00" cy="78.00" rx="1.90" ry="1.65" fill="#6e6e6e" transform="rotate(-10.0 161.00 78.00)"/><ellipse cx="161.00" cy="78.00" rx="0.76" ry="0.66" fill="#4e4e4e" transform="rotate(-10.0 161.00 78.00)"/><ellipse cx="166.20" cy="71.40" rx="3.80" ry="2.80" fill="#e2e2e2" transform="rotate(-10.0 166.20 71.40)"/><ellipse cx="166.20" cy="71.40" rx="3.30" ry="2.30" fill="#b8b8b8" transform="rotate(-10.0 166.20 71.40)"/><ellipse cx="166.20" cy="71.40" rx="2.64" ry="1.84" fill="#929292" transform="rotate(-10.0 166.20 71.40)"/><ellipse cx="140.00" cy="70.50" rx="4.50" ry="3.00" fill="#e2e2e2"/><ellipse cx="140.00" cy="70.50" rx="4.00" ry="2.50" fill="#b8b8b8"/><ellipse cx="147.50" cy="66.00" rx="3.50" ry="3.50" fill="#e2e2e2"/><ellipse cx="147.50" cy="66.00" rx="3.00" ry="3.00" fill="#b8b8b8"/><ellipse cx="146.00" cy="57.50" rx="2.50" ry="2.50" fill="#e2e2e2"/><ellipse cx="146.00" cy="57.50" rx="2.00" ry="2.00" fill="#b8b8b8"/><ellipse cx="157.00" cy="58.50" rx="3.00" ry="3.50" fill="#e2e2e2"/><ellipse cx="157.00" cy="58.50" rx="2.50" ry="3.00" fill="#b8b8b8"/><ellipse cx="150.50" cy="74.00" rx="3.00" ry="2.50" fill="#e2e2e2"/><ellipse cx="150.50" cy="74.00" rx="2.50" ry="2.00" fill="#b8b8b8"/><ellipse cx="144.50" cy="77.50" rx="2.50" ry="2.00" fill="#e2e2e2"/><ellipse cx="144.50" cy="77.50" rx="2.00" ry="1.50" fill="#b8b8b8"/><ellipse cx="168.00" cy="64.50" rx="3.50" ry="3.50" fill="#e2e2e2"/><ellipse cx="168.00" cy="64.50" rx="3.00" ry="3.00" fill="#b8b8b8"/><ellipse cx="172.00" cy="58.00" rx="2.00" ry="2.00" fill="#e2e2e2"/><ellipse cx="172.00" cy="58.00" rx="1.50" ry="1.50" fill="#b8b8b8"/><ellipse cx="180.60" cy="72.30" rx="2.30" ry="2.00" fill="#e2e2e2"/><ellipse cx="180.60" cy="72.30" rx="1.80" ry="1.50" fill="#b8b8b8"/><ellipse cx="173.50" cy="69.00" rx="2.25" ry="2.00" fill="#e2e2e2"/><ellipse cx="173.50" cy="69.00" rx="1.75" ry="1.50" fill="#b8b8b8"/><ellipse cx="131.00" cy="80.00" rx="2.00" ry="2.00" fill="#e2e2e2"/><ellipse cx="131.00" cy="80.00" rx="1.50" ry="1.50" fill="#b8b8b8"/><ellipse cx="135.80" cy="90.20" rx="2.10" ry="2.40" fill="#e2e2e2"/><ellipse cx="135.80" cy="90.20" rx="1.60" ry="1.90" fill="#b8b8b8"/><ellipse cx="163.70" cy="94.30" rx="2.20" ry="2.10" fill="#e2e2e2"/><ellipse cx="163.70" cy="94.30" rx="1.70" ry="1.60" fill="#b8b8b8"/><ellipse cx="142.80" cy="114.00" rx="3.00" ry="1.90" fill="#e2e2e2"/><ellipse cx="142.80" cy="114.00" rx="2.50" ry="1.40" fill="#b8b8b8"/><ellipse cx="166.00" cy="117.00" rx="2.20" ry="2.60" fill="#e2e2e2"/><ellipse cx="166.00" cy="117.00" rx="1.70" ry="2.10" fill="#b8b8b8"/><ellipse cx="166.00" cy="117.00" rx="1.36" ry="1.68" fill="#929292"/><ellipse cx="170.00" cy="116.20" rx="2.20" ry="2.60" fill="#e2e2e2"/><ellipse cx="170.00" cy="116.20" rx="1.70" ry="2.10" fill="#b8b8b8"/><ellipse cx="170.00" cy="116.20" rx="1.36" ry="1.68" fill="#929292"/><ellipse cx="174.50" cy="115.00" rx="2.20" ry="2.50" fill="#e2e2e2"/><ellipse cx="174.50" cy="115.00" rx="1.70" ry="2.00" fill="#b8b8b8"/><ellipse cx="163.50" cy="133.80" rx="3.30" ry="1.50" fill="#e2e2e2"/><ellipse cx="163.50" cy="133.80" rx="2.80" ry="1.00" fill="#b8b8b8"/><ellipse cx="133.20" cy="154.20" rx="1.80" ry="1.50" fill="#e2e2e2"/><ellipse cx="133.20" cy="154.20" rx="1.30" ry="1.00" fill="#b8b8b8"/><ellipse cx="140.60" cy="152.60" rx="1.50" ry="1.50" fill="#e2e2e2"/><ellipse cx="140.60" cy="152.60" rx="1.00" ry="1.00" fill="#b8b8b8"/><ellipse cx="182.00" cy="179.50" rx="2.00" ry="1.50" fill="#e2e2e2"/><ellipse cx="182.00" cy="179.50" rx="1.50" ry="1.00" fill="#b8b8b8"/><ellipse cx="33.00" cy="133.20" rx="1.50" ry="1.70" fill="#e2e2e2"/><ellipse cx="33.00" cy="133.20" rx="1.00" ry="1.20" fill="#b8b8b8"/><ellipse cx="106.00" cy="144.80" rx="1.50" ry="1.60" fill="#e2e2e2"/><ellipse cx="106.00" cy="144.80" rx="1.00" ry="1.10" fill="#b8b8b8"/><g transform="translate(91.80 45.80) rotate(-8) skewX(0)"><rect x="-4.80" y="-3.90" width="9.60" height="7.80" rx="1.4" fill="#e2e2e2"/><rect x="-4.20" y="-3.30" width="8.40" height="6.60" rx="1.0" fill="#b8b8b8"/><rect x="-3.70" y="-2.51" width="1.68" height="5.02" rx="0.5" fill="#929292"/><rect x="-0.90" y="-2.51" width="1.68" height="5.02" rx="0.5" fill="#929292"/><rect x="1.90" y="-2.51" width="1.68" height="5.02" rx="0.5" fill="#929292"/></g><g transform="translate(165.20 46.60) rotate(0) skewX(0)"><rect x="-7.10" y="-4.60" width="14.20" height="9.20" rx="1.4" fill="#e2e2e2"/><rect x="-6.50" y="-4.00" width="13.00" height="8.00" rx="1.0" fill="#b8b8b8"/><rect x="-6.03" y="-3.04" width="1.56" height="6.08" rx="0.5" fill="#a6a6a6"/><rect x="-3.43" y="-3.04" width="1.56" height="6.08" rx="0.5" fill="#a6a6a6"/><rect x="-0.83" y="-3.04" width="1.56" height="6.08" rx="0.5" fill="#a6a6a6"/><rect x="1.77" y="-3.04" width="1.56" height="6.08" rx="0.5" fill="#a6a6a6"/><rect x="4.37" y="-3.04" width="1.56" height="6.08" rx="0.5" fill="#a6a6a6"/></g><g transform="translate(183.20 59.60) rotate(0) skewX(0)"><rect x="-5.30" y="-5.90" width="10.60" height="11.80" rx="1.4" fill="#e2e2e2"/><rect x="-4.70" y="-5.30" width="9.40" height="10.60" rx="1.0" fill="#b8b8b8"/><rect x="-4.28" y="-4.03" width="1.41" height="8.06" rx="0.5" fill="#929292"/><rect x="-1.93" y="-4.03" width="1.41" height="8.06" rx="0.5" fill="#929292"/><rect x="0.42" y="-4.03" width="1.41" height="8.06" rx="0.5" fill="#929292"/><rect x="2.77" y="-4.03" width="1.41" height="8.06" rx="0.5" fill="#929292"/></g><g transform="translate(147.70 94.10) rotate(-10) skewX(-20)"><rect x="-4.80" y="-3.00" width="9.60" height="6.00" rx="1.4" fill="#e2e2e2"/><rect x="-4.20" y="-2.40" width="8.40" height="4.80" rx="1.0" fill="#b8b8b8"/><rect x="-3.70" y="-1.82" width="1.68" height="3.65" rx="0.5" fill="#929292"/><rect x="-0.90" y="-1.82" width="1.68" height="3.65" rx="0.5" fill="#929292"/><rect x="1.90" y="-1.82" width="1.68" height="3.65" rx="0.5" fill="#929292"/></g><g transform="translate(159.90 88.80) rotate(-8) skewX(-20)"><rect x="-3.80" y="-2.60" width="7.60" height="5.20" rx="1.4" fill="#e2e2e2"/><rect x="-3.20" y="-2.00" width="6.40" height="4.00" rx="1.0" fill="#b8b8b8"/><rect x="-2.82" y="-1.52" width="1.28" height="3.04" rx="0.5" fill="#929292"/><rect x="-0.68" y="-1.52" width="1.28" height="3.04" rx="0.5" fill="#929292"/><rect x="1.45" y="-1.52" width="1.28" height="3.04" rx="0.5" fill="#929292"/></g><g transform="translate(167.60 90.00) rotate(-8) skewX(-20)"><rect x="-3.80" y="-2.70" width="7.60" height="5.40" rx="1.4" fill="#e2e2e2"/><rect x="-3.20" y="-2.10" width="6.40" height="4.20" rx="1.0" fill="#929292"/><rect x="-2.82" y="-1.60" width="1.28" height="3.19" rx="0.5" fill="#6e6e6e"/><rect x="-0.68" y="-1.60" width="1.28" height="3.19" rx="0.5" fill="#6e6e6e"/><rect x="1.45" y="-1.60" width="1.28" height="3.19" rx="0.5" fill="#6e6e6e"/></g><g transform="translate(139.70 103.00) rotate(-6) skewX(-20)"><rect x="-4.90" y="-2.90" width="9.80" height="5.80" rx="1.4" fill="#e2e2e2"/><rect x="-4.30" y="-2.30" width="8.60" height="4.60" rx="1.0" fill="#b8b8b8"/><rect x="-3.78" y="-1.75" width="1.72" height="3.50" rx="0.5" fill="#929292"/><rect x="-0.92" y="-1.75" width="1.72" height="3.50" rx="0.5" fill="#929292"/><rect x="1.95" y="-1.75" width="1.72" height="3.50" rx="0.5" fill="#929292"/></g><g transform="translate(162.00 101.60) rotate(-6) skewX(-20)"><rect x="-4.60" y="-2.70" width="9.20" height="5.40" rx="1.4" fill="#e2e2e2"/><rect x="-4.00" y="-2.10" width="8.00" height="4.20" rx="1.0" fill="#b8b8b8"/><rect x="-3.52" y="-1.60" width="1.60" height="3.19" rx="0.5" fill="#929292"/><rect x="-0.85" y="-1.60" width="1.60" height="3.19" rx="0.5" fill="#929292"/><rect x="1.81" y="-1.60" width="1.60" height="3.19" rx="0.5" fill="#929292"/></g><g transform="translate(183.20 114.00) rotate(-8) skewX(-15)"><rect x="-4.90" y="-4.40" width="9.80" height="8.80" rx="1.4" fill="#e2e2e2"/><rect x="-4.30" y="-3.80" width="8.60" height="7.60" rx="1.0" fill="#929292"/><rect x="-3.91" y="-2.89" width="1.29" height="5.78" rx="0.5" fill="#6e6e6e"/><rect x="-1.76" y="-2.89" width="1.29" height="5.78" rx="0.5" fill="#6e6e6e"/><rect x="0.39" y="-2.89" width="1.29" height="5.78" rx="0.5" fill="#6e6e6e"/><rect x="2.54" y="-2.89" width="1.29" height="5.78" rx="0.5" fill="#6e6e6e"/></g><g transform="translate(162.90 145.90) rotate(-10) skewX(-30)"><rect x="-5.70" y="-4.20" width="11.40" height="8.40" rx="1.4" fill="#e2e2e2"/><rect x="-5.10" y="-3.60" width="10.20" height="7.20" rx="1.0" fill="#929292"/><rect x="-4.64" y="-2.74" width="1.53" height="5.47" rx="0.5" fill="#6e6e6e"/><rect x="-2.09" y="-2.74" width="1.53" height="5.47" rx="0.5" fill="#6e6e6e"/><rect x="0.46" y="-2.74" width="1.53" height="5.47" rx="0.5" fill="#6e6e6e"/><rect x="3.01" y="-2.74" width="1.53" height="5.47" rx="0.5" fill="#6e6e6e"/><rect x="-3.06" y="-1.44" width="6.12" height="2.88" rx="0.6" fill="#6e6e6e"/></g><g transform="translate(156.20 158.60) rotate(-8) skewX(-30)"><rect x="-4.50" y="-3.30" width="9.00" height="6.60" rx="1.4" fill="#e2e2e2"/><rect x="-3.90" y="-2.70" width="7.80" height="5.40" rx="1.0" fill="#929292"/><rect x="-3.43" y="-2.05" width="1.56" height="4.10" rx="0.5" fill="#6e6e6e"/><rect x="-0.83" y="-2.05" width="1.56" height="4.10" rx="0.5" fill="#6e6e6e"/><rect x="1.77" y="-2.05" width="1.56" height="4.10" rx="0.5" fill="#6e6e6e"/><rect x="-2.34" y="-1.08" width="4.68" height="2.16" rx="0.6" fill="#6e6e6e"/></g></g></g><g font-family="Liberation Sans, sans-serif" font-weight="bold" font-size="4.75" fill="#222"><text x="21.27" y="224.58">GalA H1/H2</text><text x="46.49" y="219.56">Gal H1/H2</text><text x="26.63" y="255.74">Rha H1/H2</text><text x="123.35" y="216.21">Rha</text><text x="151.55" y="220.19">Rha</text><text x="134.17" y="224.82">Gal H2/H3</text><text x="150.26" y="257.49">RhaA H2/H3</text><text x="137.15" y="264.75">Gal A H3/H4</text></g><line x1="21" y1="317.8" x2="214.8" y2="317.8" stroke="#444" stroke-width="0.9"/><line x1="25.00" y1="317.8" x2="25.00" y2="319.1" stroke="#444" stroke-width="0.7"/><text x="25.00" y="327.8" text-anchor="middle" font-family="Liberation Serif, serif" font-size="6.7" fill="#1a1a1a">5.2</text><line x1="45.90" y1="317.8" x2="45.90" y2="319.1" stroke="#444" stroke-width="0.7"/><text x="45.90" y="327.8" text-anchor="middle" font-family="Liberation Serif, serif" font-size="6.7" fill="#1a1a1a">5.0</text><line x1="66.80" y1="317.8" x2="66.80" y2="319.1" stroke="#444" stroke-width="0.7"/><text x="66.80" y="327.8" text-anchor="middle" font-family="Liberation Serif, serif" font-size="6.7" fill="#1a1a1a">4.8</text><line x1="87.70" y1="317.8" x2="87.70" y2="319.1" stroke="#444" stroke-width="0.7"/><text x="87.70" y="327.8" text-anchor="middle" font-family="Liberation Serif, serif" font-size="6.7" fill="#1a1a1a">4.6</text><line x1="108.60" y1="317.8" x2="108.60" y2="319.1" stroke="#444" stroke-width="0.7"/><text x="108.60" y="327.8" text-anchor="middle" font-family="Liberation Serif, serif" font-size="6.7" fill="#1a1a1a">4.4</text><line x1="129.50" y1="317.8" x2="129.50" y2="319.1" stroke="#444" stroke-width="0.7"/><text x="129.50" y="327.8" text-anchor="middle" font-family="Liberation Serif, serif" font-size="6.7" fill="#1a1a1a">4.2</text><line x1="150.40" y1="317.8" x2="150.40" y2="319.1" stroke="#444" stroke-width="0.7"/><text x="150.40" y="327.8" text-anchor="middle" font-family="Liberation Serif, serif" font-size="6.7" fill="#1a1a1a">4.0</text><line x1="171.30" y1="317.8" x2="171.30" y2="319.1" stroke="#444" stroke-width="0.7"/><text x="171.30" y="327.8" text-anchor="middle" font-family="Liberation Serif, serif" font-size="6.7" fill="#1a1a1a">3.8</text><line x1="192.20" y1="317.8" x2="192.20" y2="319.1" stroke="#444" stroke-width="0.7"/><text x="192.20" y="327.8" text-anchor="middle" font-family="Liberation Serif, serif" font-size="6.7" fill="#1a1a1a">3.6</text><text x="112.4" y="334" font-family="Liberation Serif, serif" font-size="6.7" fill="#1a1a1a">f</text><text x="119.8" y="334" font-family="Liberation Serif, serif" font-size="6.03" fill="#1a1a1a">(ppm)</text><text x="118.3" y="350.3" text-anchor="middle" font-family="Liberation Serif, serif" font-size="12.3" fill="#111">(<tspan font-weight="bold">A</tspan>)</text>
<g clip-path="url(#cBb)"><g filter="url(#bl)" transform="translate(313.6 172.2) scale(1.164 0.781)"><g stroke="#dcdcdc" stroke-width="0.75"><line x1="7.20" y1="10.0" x2="7.20" y2="195.0"/><line x1="15.70" y1="10.0" x2="15.70" y2="195.0"/><line x1="24.20" y1="10.0" x2="24.20" y2="195.0"/><line x1="32.70" y1="10.0" x2="32.70" y2="195.0"/><line x1="41.20" y1="10.0" x2="41.20" y2="195.0"/><line x1="49.70" y1="10.0" x2="49.70" y2="195.0"/><line x1="58.20" y1="10.0" x2="58.20" y2="195.0"/><line x1="66.70" y1="10.0" x2="66.70" y2="195.0"/><line x1="75.20" y1="10.0" x2="75.20" y2="195.0"/><line x1="83.70" y1="10.0" x2="83.70" y2="195.0"/><line x1="92.20" y1="10.0" x2="92.20" y2="195.0"/><line x1="100.70" y1="10.0" x2="100.70" y2="195.0"/><line x1="109.20" y1="10.0" x2="109.20" y2="195.0"/><line x1="117.70" y1="10.0" x2="117.70" y2="195.0"/><line x1="126.20" y1="10.0" x2="126.20" y2="195.0"/><line x1="134.70" y1="10.0" x2="134.70" y2="195.0"/><line x1="143.20" y1="10.0" x2="143.20" y2="195.0"/><line x1="151.70" y1="10.0" x2="151.70" y2="195.0"/><line x1="160.20" y1="10.0" x2="160.20" y2="195.0"/><line x1="168.70" y1="10.0" x2="168.70" y2="195.0"/><line x1="177.20" y1="10.0" x2="177.20" y2="195.0"/><line x1="185.70" y1="10.0" x2="185.70" y2="195.0"/><line x1="194.20" y1="10.0" x2="194.20" y2="195.0"/><line x1="202.70" y1="10.0" x2="202.70" y2="195.0"/><line x1="211.20" y1="10.0" x2="211.20" y2="195.0"/><line x1="219.70" y1="10.0" x2="219.70" y2="195.0"/></g><g stroke="#e4e4e4" stroke-width="0.75"><line x1="0.0" y1="19.73" x2="230.0" y2="19.73"/><line x1="0.0" y1="26.00" x2="230.0" y2="26.00"/><line x1="0.0" y1="32.27" x2="230.0" y2="32.27"/><line x1="0.0" y1="38.54" x2="230.0" y2="38.54"/><line x1="0.0" y1="44.81" x2="230.0" y2="44.81"/><line x1="0.0" y1="51.08" x2="230.0" y2="51.08"/><line x1="0.0" y1="57.35" x2="230.0" y2="57.35"/><line x1="0.0" y1="63.62" x2="230.0" y2="63.62"/><line x1="0.0" y1="69.89" x2="230.0" y2="69.89"/><line x1="0.0" y1="76.16" x2="230.0" y2="76.16"/><line x1="0.0" y1="82.43" x2="230.0" y2="82.43"/><line x1="0.0" y1="88.70" x2="230.0" y2="88.70"/><line x1="0.0" y1="94.97" x2="230.0" y2="94.97"/><line x1="0.0" y1="101.24" x2="230.0" y2="101.24"/><line x1="0.0" y1="107.51" x2="230.0" y2="107.51"/><line x1="0.0" y1="113.78" x2="230.0" y2="113.78"/><line x1="0.0" y1="120.05" x2="230.0" y2="120.05"/><line x1="0.0" y1="126.32" x2="230.0" y2="126.32"/><line x1="0.0" y1="132.59" x2="230.0" y2="132.59"/><line x1="0.0" y1="138.86" x2="230.0" y2="138.86"/><line x1="0.0" y1="145.13" x2="230.0" y2="145.13"/><line x1="0.0" y1="151.40" x2="230.0" y2="151.40"/><line x1="0.0" y1="157.67" x2="230.0" y2="157.67"/><line x1="0.0" y1="163.94" x2="230.0" y2="163.94"/><line x1="0.0" y1="170.21" x2="230.0" y2="170.21"/><line x1="0.0" y1="176.48" x2="230.0" y2="176.48"/><line x1="0.0" y1="182.75" x2="230.0" y2="182.75"/></g><ellipse cx="150.00" cy="60.00" rx="8.00" ry="7.00" fill="#e2e2e2"/><ellipse cx="158.00" cy="70.00" rx="7.00" ry="5.00" fill="#e2e2e2"/><ellipse cx="143.00" cy="72.00" rx="5.00" ry="4.50" fill="#e2e2e2"/><ellipse cx="170.00" cy="50.00" rx="5.00" ry="4.00" fill="#e2e2e2"/><ellipse cx="140.00" cy="80.00" rx="3.00" ry="2.50" fill="#e2e2e2"/><ellipse cx="128.00" cy="84.00" rx="3.00" ry="2.50" fill="#e2e2e2"/><ellipse cx="115.00" cy="96.00" rx="3.00" ry="2.00" fill="#e2e2e2"/><rect x="144.05" y="67.49" width="1.58" height="3.61" rx="0.7" fill="#b8b8b8"/><rect x="131.96" y="73.30" width="1.86" height="1.99" rx="0.7" fill="#b8b8b8"/><rect x="148.63" y="66.12" width="2.22" height="3.62" rx="0.7" fill="#b8b8b8"/><rect x="133.19" y="74.28" width="2.49" height="1.94" rx="0.7" fill="#b8b8b8"/><rect x="157.66" y="52.98" width="1.58" height="3.69" rx="0.7" fill="#b8b8b8"/><rect x="141.82" y="68.00" width="2.47" height="3.03" rx="0.7" fill="#b8b8b8"/><rect x="162.17" y="52.75" width="2.59" height="2.62" rx="0.7" fill="#b8b8b8"/><rect x="155.21" y="57.93" width="2.55" height="2.89" rx="0.7" fill="#b8b8b8"/><rect x="154.11" y="71.42" width="3.07" height="2.60" rx="0.7" fill="#b8b8b8"/><rect x="139.96" y="68.39" width="1.91" height="3.06" rx="0.7" fill="#b8b8b8"/><rect x="154.32" y="72.97" width="1.99" height="3.96" rx="0.7" fill="#b8b8b8"/><rect x="133.10" y="84.51" width="2.08" height="3.85" rx="0.7" fill="#b8b8b8"/><rect x="148.69" y="60.88" width="2.47" height="3.73" rx="0.7" fill="#b8b8b8"/><rect x="143.07" y="80.70" width="2.49" height="2.80" rx="0.7" fill="#b8b8b8"/><rect x="170.36" y="59.91" width="2.63" height="1.93" rx="0.7" fill="#b8b8b8"/><rect x="163.40" y="63.17" width="2.16" height="3.27" rx="0.7" fill="#b8b8b8"/><rect x="127.90" y="90.11" width="2.54" height="2.89" rx="0.7" fill="#b8b8b8"/><rect x="138.39" y="80.97" width="1.92" height="2.66" rx="0.7" fill="#b8b8b8"/><rect x="172.22" y="48.66" width="2.18" height="2.41" rx="0.7" fill="#b8b8b8"/><rect x="134.13" y="89.59" width="1.97" height="2.71" rx="0.7" fill="#b8b8b8"/><rect x="145.78" y="81.99" width="1.76" height="2.19" rx="0.7" fill="#b8b8b8"/><rect x="138.61" y="74.61" width="2.91" height="2.20" rx="0.7" fill="#b8b8b8"/><rect x="141.60" y="69.20" width="2.13" height="3.05" rx="0.7" fill="#b8b8b8"/><rect x="176.07" y="42.58" width="2.98" height="3.89" rx="0.7" fill="#b8b8b8"/><rect x="162.30" y="65.03" width="2.17" height="2.86" rx="0.7" fill="#b8b8b8"/><rect x="147.90" y="67.71" width="1.85" height="2.16" rx="0.7" fill="#b8b8b8"/><rect x="144.45" y="69.37" width="2.46" height="2.98" rx="0.7" fill="#b8b8b8"/><rect x="176.42" y="46.28" width="1.85" height="2.63" rx="0.7" fill="#b8b8b8"/><rect x="159.84" y="68.75" width="2.31" height="2.05" rx="0.7" fill="#b8b8b8"/><rect x="152.36" y="73.46" width="2.03" height="2.12" rx="0.7" fill="#b8b8b8"/><rect x="165.64" y="62.93" width="2.68" height="2.94" rx="0.7" fill="#b8b8b8"/><rect x="137.46" y="82.00" width="2.42" height="1.86" rx="0.7" fill="#b8b8b8"/><rect x="154.49" y="57.84" width="1.94" height="2.61" rx="0.7" fill="#b8b8b8"/><rect x="135.27" y="73.05" width="2.82" height="2.53" rx="0.7" fill="#b8b8b8"/><rect x="138.15" y="68.38" width="2.89" height="3.43" rx="0.7" fill="#b8b8b8"/><rect x="139.02" y="82.74" width="1.55" height="1.86" rx="0.7" fill="#b8b8b8"/><rect x="141.27" y="79.14" width="2.53" height="2.56" rx="0.7" fill="#b8b8b8"/><rect x="168.99" y="64.56" width="2.12" height="2.29" rx="0.7" fill="#b8b8b8"/><rect x="138.64" y="71.48" width="2.32" height="3.97" rx="0.7" fill="#b8b8b8"/><rect x="158.43" y="55.82" width="2.61" height="3.56" rx="0.7" fill="#b8b8b8"/><rect x="130.99" y="72.93" width="2.83" height="3.45" rx="0.7" fill="#b8b8b8"/><rect x="151.57" y="62.05" width="2.58" height="1.99" rx="0.7" fill="#b8b8b8"/><rect x="175.82" y="55.70" width="2.76" height="1.99" rx="0.7" fill="#b8b8b8"/><rect x="135.01" y="77.00" width="2.50" height="2.82" rx="0.7" fill="#b8b8b8"/><rect x="161.06" y="67.86" width="2.10" height="3.01" rx="0.7" fill="#b8b8b8"/><rect x="133.44" y="72.69" width="2.73" height="2.03" rx="0.7" fill="#b8b8b8"/><rect x="165.48" y="50.76" width="2.98" height="3.62" rx="0.7" fill="#b8b8b8"/><rect x="137.80" y="81.46" width="2.35" height="3.48" rx="0.7" fill="#b8b8b8"/><rect x="144.15" y="81.71" width="1.60" height="3.43" rx="0.7" fill="#b8b8b8"/><rect x="173.18" y="60.26" width="2.99" height="2.09" rx="0.7" fill="#b8b8b8"/><rect x="134.49" y="70.78" width="2.82" height="3.14" rx="0.7" fill="#b8b8b8"/><rect x="167.20" y="51.80" width="2.30" height="3.40" rx="0.7" fill="#b8b8b8"/><rect x="155.74" y="71.96" width="2.40" height="2.86" rx="0.7" fill="#b8b8b8"/><rect x="167.39" y="51.16" width="1.97" height="3.50" rx="0.7" fill="#b8b8b8"/><rect x="152.88" y="58.06" width="3.05" height="2.78" rx="0.7" fill="#b8b8b8"/><rect x="158.72" y="54.42" width="2.27" height="2.97" rx="0.7" fill="#b8b8b8"/><rect x="151.36" y="59.12" width="2.99" height="3.87" rx="0.7" fill="#b8b8b8"/><rect x="140.63" y="67.40" width="1.73" height="2.07" rx="0.7" fill="#b8b8b8"/><rect x="149.88" y="61.52" width="2.23" height="2.27" rx="0.7" fill="#b8b8b8"/><rect x="142.86" y="64.65" width="1.76" height="3.38" rx="0.7" fill="#b8b8b8"/><rect x="161.47" y="55.95" width="1.73" height="2.83" rx="0.7" fill="#b8b8b8"/><rect x="165.66" y="50.95" width="2.33" height="3.98" rx="0.7" fill="#b8b8b8"/><rect x="169.69" y="45.97" width="3.19" height="2.69" rx="0.7" fill="#b8b8b8"/><rect x="148.54" y="74.96" width="2.73" height="1.84" rx="0.7" fill="#b8b8b8"/><rect x="155.73" y="72.17" width="2.15" height="2.94" rx="0.7" fill="#b8b8b8"/><rect x="141.83" y="71.35" width="3.06" height="2.30" rx="0.7" fill="#b8b8b8"/><rect x="172.79" y="47.17" width="1.57" height="3.51" rx="0.7" fill="#b8b8b8"/><rect x="140.59" y="66.52" width="2.94" height="3.29" rx="0.7" fill="#b8b8b8"/><rect x="175.66" y="52.82" width="3.06" height="3.06" rx="0.7" fill="#b8b8b8"/><rect x="162.99" y="54.52" width="2.86" height="2.20" rx="0.7" fill="#b8b8b8"/><line x1="33.00" y1="157.79" x2="44.00" y2="149.62" stroke="#9a9a9a" stroke-width="2.0" stroke-linecap="round"/><line x1="57.50" y1="139.60" x2="60.50" y2="137.37" stroke="#9a9a9a" stroke-width="2.2" stroke-linecap="round"/><line x1="58.00" y1="139.23" x2="60.00" y2="137.74" stroke="#646464" stroke-width="0.9" stroke-linecap="round"/><line x1="62.50" y1="135.89" x2="66.00" y2="133.29" stroke="#9a9a9a" stroke-width="2.2" stroke-linecap="round"/><line x1="63.00" y1="135.51" x2="65.50" y2="133.66" stroke="#646464" stroke-width="0.9" stroke-linecap="round"/><line x1="68.00" y1="131.80" x2="71.50" y2="129.20" stroke="#9a9a9a" stroke-width="2.2" stroke-linecap="round"/><line x1="68.50" y1="131.43" x2="71.00" y2="129.57" stroke="#646464" stroke-width="0.9" stroke-linecap="round"/><line x1="79.00" y1="123.63" x2="190.00" y2="41.22" stroke="#dcdcdc" stroke-width="4.6" stroke-linecap="round"/><line x1="78.00" y1="124.38" x2="193.50" y2="38.62" stroke="#9a9a9a" stroke-width="2.8" stroke-linecap="round"/><line x1="80.00" y1="122.89" x2="186.00" y2="44.19" stroke="#646464" stroke-width="1.8" stroke-linecap="round"/><line x1="126.00" y1="88.74" x2="178.00" y2="50.13" stroke="#2a2a2a" stroke-width="1.9" stroke-linecap="round"/><ellipse cx="92.50" cy="113.61" rx="5.00" ry="1.70" fill="#9a9a9a" transform="rotate(-36.6 92.50 113.61)"/><ellipse cx="92.50" cy="113.61" rx="4.00" ry="1.36" fill="#646464" transform="rotate(-36.6 92.50 113.61)"/><ellipse cx="92.50" cy="113.61" rx="2.50" ry="0.85" fill="#2a2a2a" transform="rotate(-36.6 92.50 113.61)"/><ellipse cx="106.00" cy="103.59" rx="6.50" ry="2.70" fill="#9a9a9a" transform="rotate(-36.6 106.00 103.59)"/><ellipse cx="106.00" cy="103.59" rx="5.20" ry="2.16" fill="#646464" transform="rotate(-36.6 106.00 103.59)"/><ellipse cx="106.00" cy="103.59" rx="3.25" ry="1.35" fill="#2a2a2a" transform="rotate(-36.6 106.00 103.59)"/><ellipse cx="106.00" cy="103.59" rx="1.30" ry="0.54" fill="#101010" transform="rotate(-36.6 106.00 103.59)"/><ellipse cx="118.50" cy="94.31" rx="3.50" ry="1.90" fill="#9a9a9a" transform="rotate(-36.6 118.50 94.31)"/><ellipse cx="118.50" cy="94.31" rx="2.80" ry="1.52" fill="#646464" transform="rotate(-36.6 118.50 94.31)"/><ellipse cx="118.50" cy="94.31" rx="1.75" ry="0.95" fill="#2a2a2a" transform="rotate(-36.6 118.50 94.31)"/><ellipse cx="137.00" cy="80.57" rx="3.50" ry="1.80" fill="#9a9a9a" transform="rotate(-36.6 137.00 80.57)"/><ellipse cx="137.00" cy="80.57" rx="2.80" ry="1.44" fill="#646464" transform="rotate(-36.6 137.00 80.57)"/><ellipse cx="137.00" cy="80.57" rx="1.75" ry="0.90" fill="#2a2a2a" transform="rotate(-36.6 137.00 80.57)"/><ellipse cx="146.00" cy="73.89" rx="5.00" ry="2.10" fill="#9a9a9a" transform="rotate(-36.6 146.00 73.89)"/><ellipse cx="146.00" cy="73.89" rx="4.00" ry="1.68" fill="#646464" transform="rotate(-36.6 146.00 73.89)"/><ellipse cx="146.00" cy="73.89" rx="2.50" ry="1.05" fill="#2a2a2a" transform="rotate(-36.6 146.00 73.89)"/><ellipse cx="146.00" cy="73.89" rx="1.00" ry="0.42" fill="#101010" transform="rotate(-36.6 146.00 73.89)"/><ellipse cx="160.00" cy="63.50" rx="4.50" ry="2.00" fill="#9a9a9a" transform="rotate(-36.6 160.00 63.50)"/><ellipse cx="160.00" cy="63.50" rx="3.60" ry="1.60" fill="#646464" transform="rotate(-36.6 160.00 63.50)"/><ellipse cx="160.00" cy="63.50" rx="2.25" ry="1.00" fill="#2a2a2a" transform="rotate(-36.6 160.00 63.50)"/><ellipse cx="183.00" cy="46.42" rx="4.50" ry="1.90" fill="#9a9a9a" transform="rotate(-36.6 183.00 46.42)"/><ellipse cx="183.00" cy="46.42" rx="3.60" ry="1.52" fill="#646464" transform="rotate(-36.6 183.00 46.42)"/><line x1="130.00" y1="85.77" x2="176.00" y2="51.62" stroke="#2a2a2a" stroke-width="1.4" stroke-linecap="round"/><line x1="86.00" y1="118.44" x2="126.00" y2="88.74" stroke="#2a2a2a" stroke-width="1.1" stroke-linecap="round"/><ellipse cx="50.00" cy="145.17" rx="8.50" ry="4.00" fill="#e2e2e2" transform="rotate(-36.6 50.00 145.17)"/><ellipse cx="50.00" cy="145.17" rx="3.00" ry="6.00" fill="#b8b8b8" transform="rotate(-36.6 50.00 145.17)"/><ellipse cx="50.00" cy="145.17" rx="7.50" ry="2.80" fill="#dcdcdc" transform="rotate(-36.6 50.00 145.17)"/><ellipse cx="50.00" cy="145.17" rx="7.00" ry="2.30" fill="#9a9a9a" transform="rotate(-36.6 50.00 145.17)"/><ellipse cx="50.00" cy="145.17" rx="5.60" ry="1.84" fill="#646464" transform="rotate(-36.6 50.00 145.17)"/><ellipse cx="50.00" cy="145.17" rx="3.50" ry="1.15" fill="#2a2a2a" transform="rotate(-36.6 50.00 145.17)"/><ellipse cx="50.00" cy="145.17" rx="1.40" ry="0.46" fill="#101010" transform="rotate(-36.6 50.00 145.17)"/><ellipse cx="31.00" cy="159.27" rx="4.50" ry="2.20" fill="#dcdcdc" transform="rotate(-36.6 31.00 159.27)"/><ellipse cx="31.00" cy="159.27" rx="4.00" ry="1.70" fill="#9a9a9a" transform="rotate(-36.6 31.00 159.27)"/><ellipse cx="31.00" cy="159.27" rx="3.20" ry="1.36" fill="#646464" transform="rotate(-36.6 31.00 159.27)"/><ellipse cx="31.00" cy="159.27" rx="2.00" ry="0.85" fill="#2a2a2a" transform="rotate(-36.6 31.00 159.27)"/><path d="M51 101.5 L96 101.5 Q101 101.5 104 102.7" stroke="#dcdcdc" stroke-width="3.0" fill="none"/><path d="M52 101.5 L96 101.5 Q101 101.5 104 102.7" stroke="#9a9a9a" stroke-width="2.0" fill="none"/><path d="M62 101.5 L96 101.5 Q101 101.5 104 102.7" stroke="#646464" stroke-width="0.9" fill="none"/><line x1="106" y1="103.1" x2="111" y2="103.3" stroke="#9a9a9a" stroke-width="1.4" stroke-linecap="round"/><ellipse cx="50.20" cy="103.80" rx="0.90" ry="1.20" fill="#9a9a9a"/><line x1="76.3" y1="10.0" x2="76.3" y2="101.5" stroke="#e2e2e2" stroke-width="1.0"/><line x1="76.3" y1="10.0" x2="76.3" y2="101.5" stroke="#b0b0b0" stroke-width="0.45"/><line x1="76.3" y1="101.5" x2="76.3" y2="125.6" stroke="#dcdcdc" stroke-width="3.2"/><line x1="76.3" y1="101.5" x2="76.3" y2="125.6" stroke="#9a9a9a" stroke-width="2.0"/><line x1="76.3" y1="125.6" x2="76.3" y2="138" stroke="#9a9a9a" stroke-width="2.4"/><line x1="76.3" y1="139" x2="76.3" y2="143" stroke="#9a9a9a" stroke-width="1.1" stroke-linecap="round"/><line x1="76.3" y1="146" x2="76.3" y2="151" stroke="#9a9a9a" stroke-width="1.1" stroke-linecap="round"/><line x1="76.3" y1="155" x2="76.3" y2="157" stroke="#9a9a9a" stroke-width="1.1" stroke-linecap="round"/><line x1="76.3" y1="160" x2="76.3" y2="162" stroke="#9a9a9a" stroke-width="1.1" stroke-linecap="round"/><line x1="76.3" y1="164" x2="76.3" y2="168" stroke="#9a9a9a" stroke-width="1.1" stroke-linecap="round"/><line x1="76.3" y1="170" x2="76.3" y2="176" stroke="#9a9a9a" stroke-width="1.1" stroke-linecap="round"/><line x1="76.3" y1="178" x2="76.3" y2="182" stroke="#9a9a9a" stroke-width="1.1" stroke-linecap="round"/><ellipse cx="76.60" cy="93.80" rx="0.90" ry="1.60" fill="#646464"/><ellipse cx="76.60" cy="93.80" rx="1.50" ry="2.20" fill="#9a9a9a" opacity="0.6"/><ellipse cx="76.30" cy="101.50" rx="6.00" ry="1.20" fill="#646464"/><ellipse cx="76.30" cy="101.50" rx="2.40" ry="1.50" fill="#2a2a2a"/><line x1="0.0" y1="125.6" x2="120" y2="125.6" stroke="#dcdcdc" stroke-width="3.4"/><line x1="120" y1="125.6" x2="230.0" y2="125.6" stroke="#dcdcdc" stroke-width="2.4"/><line x1="0.0" y1="125.6" x2="120" y2="125.6" stroke="#9a9a9a" stroke-width="2.5"/><line x1="120" y1="125.6" x2="230.0" y2="125.6" stroke="#a2a2a2" stroke-width="1.4"/><ellipse cx="72.30" cy="125.60" rx="52.00" ry="2.60" fill="#9a9a9a"/><ellipse cx="76.30" cy="125.60" rx="26.00" ry="1.60" fill="#646464"/><ellipse cx="76.30" cy="125.60" rx="2.60" ry="12.00" fill="#9a9a9a"/><ellipse cx="76.30" cy="125.60" rx="1.80" ry="8.00" fill="#646464"/><ellipse cx="76.30" cy="125.60" rx="7.50" ry="2.80" fill="#6a6a6a"/><ellipse cx="76.30" cy="125.60" rx="3.00" ry="4.20" fill="#6a6a6a"/><ellipse cx="76.30" cy="125.60" rx="2.60" ry="2.00" fill="#101010"/><polygon points="69.50,28.40 74.40,26.88 76.30,23.40 78.20,26.88 83.10,28.40 78.20,29.92 76.30,33.40 74.40,29.92" fill="#b8b8b8" stroke="#e2e2e2" stroke-width="0.6" stroke-linejoin="round"/><ellipse cx="76.30" cy="28.40" rx="2.00" ry="1.40" fill="#929292"/><ellipse cx="76.30" cy="28.40" rx="1.00" ry="0.80" fill="#6e6e6e"/><ellipse cx="77.60" cy="32.40" rx="1.20" ry="1.80" fill="#b8b8b8"/><polygon points="69.10,52.80 74.40,51.28 76.30,47.60 78.20,51.28 83.50,52.80 78.20,54.32 76.30,58.00 74.40,54.32" fill="#b8b8b8" stroke="#e2e2e2" stroke-width="0.6" stroke-linejoin="round"/><ellipse cx="76.30" cy="52.80" rx="2.00" ry="1.40" fill="#929292"/><ellipse cx="76.30" cy="52.80" rx="1.00" ry="0.80" fill="#6e6e6e"/><polygon points="71.50,77.20 74.40,75.68 76.30,74.60 78.20,75.68 81.10,77.20 78.20,78.72 76.30,79.80 74.40,78.72" fill="#b8b8b8" stroke="#e2e2e2" stroke-width="0.6" stroke-linejoin="round"/><ellipse cx="76.30" cy="77.20" rx="2.00" ry="1.40" fill="#929292"/><ellipse cx="31.60" cy="66.50" rx="3.00" ry="4.80" fill="#e2e2e2" transform="rotate(-30.0 31.60 66.50)"/><ellipse cx="31.60" cy="66.50" rx="2.50" ry="4.30" fill="#b8b8b8" transform="rotate(-30.0 31.60 66.50)"/><ellipse cx="31.60" cy="66.50" rx="2.00" ry="3.44" fill="#929292" transform="rotate(-30.0 31.60 66.50)"/><ellipse cx="31.60" cy="66.50" rx="1.25" ry="2.15" fill="#6e6e6e" transform="rotate(-30.0 31.60 66.50)"/><ellipse cx="48.20" cy="62.60" rx="2.70" ry="4.90" fill="#e2e2e2" transform="rotate(-30.0 48.20 62.60)"/><ellipse cx="48.20" cy="62.60" rx="2.20" ry="4.40" fill="#b8b8b8" transform="rotate(-30.0 48.20 62.60)"/><ellipse cx="48.20" cy="62.60" rx="1.76" ry="3.52" fill="#929292" transform="rotate(-30.0 48.20 62.60)"/><ellipse cx="48.20" cy="62.60" rx="1.10" ry="2.20" fill="#6e6e6e" transform="rotate(-30.0 48.20 62.60)"/><ellipse cx="51.80" cy="60.40" rx="2.70" ry="4.90" fill="#e2e2e2" transform="rotate(-30.0 51.80 60.40)"/><ellipse cx="51.80" cy="60.40" rx="2.20" ry="4.40" fill="#b8b8b8" transform="rotate(-30.0 51.80 60.40)"/><ellipse cx="51.80" cy="60.40" rx="1.76" ry="3.52" fill="#929292" transform="rotate(-30.0 51.80 60.40)"/><ellipse cx="51.80" cy="60.40" rx="1.10" ry="2.20" fill="#6e6e6e" transform="rotate(-30.0 51.80 60.40)"/><ellipse cx="57.50" cy="67.50" rx="1.50" ry="1.70" fill="#e2e2e2"/><ellipse cx="57.50" cy="67.50" rx="1.00" ry="1.20" fill="#b8b8b8"/><ellipse cx="65.50" cy="59.70" rx="1.80" ry="2.40" fill="#e2e2e2"/><ellipse cx="65.50" cy="59.70" rx="1.30" ry="1.90" fill="#b8b8b8"/><ellipse cx="36.80" cy="83.00" rx="1.70" ry="2.00" fill="#e2e2e2"/><ellipse cx="36.80" cy="83.00" rx="1.20" ry="1.50" fill="#b8b8b8"/><ellipse cx="40.00" cy="78.60" rx="1.50" ry="1.50" fill="#e2e2e2"/><ellipse cx="40.00" cy="78.60" rx="1.00" ry="1.00" fill="#b8b8b8"/><ellipse cx="86.80" cy="56.80" rx="2.40" ry="3.70" fill="#e2e2e2" transform="rotate(30.0 86.80 56.80)"/><ellipse cx="86.80" cy="56.80" rx="1.90" ry="3.20" fill="#b8b8b8" transform="rotate(30.0 86.80 56.80)"/><ellipse cx="86.80" cy="56.80" rx="1.52" ry="2.56" fill="#929292" transform="rotate(30.0 86.80 56.80)"/><ellipse cx="89.80" cy="52.60" rx="1.30" ry="2.00" fill="#e2e2e2" transform="rotate(40.0 89.80 52.60)"/><ellipse cx="89.80" cy="52.60" rx="0.80" ry="1.50" fill="#b8b8b8" transform="rotate(40.0 89.80 52.60)"/><ellipse cx="91.60" cy="76.00" rx="1.90" ry="2.40" fill="#e2e2e2"/><ellipse cx="91.60" cy="76.00" rx="1.40" ry="1.90" fill="#b8b8b8"/><ellipse cx="123.50" cy="24.70" rx="1.80" ry="2.40" fill="#e2e2e2"/><ellipse cx="123.50" cy="24.70" rx="1.30" ry="1.90" fill="#b8b8b8"/><ellipse cx="118.50" cy="32.00" rx="3.00" ry="2.40" fill="#e2e2e2" transform="rotate(-15.0 118.50 32.00)"/><ellipse cx="118.50" cy="32.00" rx="2.50" ry="1.90" fill="#b8b8b8" transform="rotate(-15.0 118.50 32.00)"/><ellipse cx="118.50" cy="32.00" rx="2.00" ry="1.52" fill="#929292" transform="rotate(-15.0 118.50 32.00)"/><ellipse cx="109.20" cy="62.50" rx="2.90" ry="3.80" fill="#e2e2e2"/><ellipse cx="109.20" cy="62.50" rx="2.40" ry="3.30" fill="#b8b8b8"/><ellipse cx="109.20" cy="62.50" rx="1.92" ry="2.64" fill="#929292"/><ellipse cx="118.50" cy="60.50" rx="3.00" ry="2.15" fill="#e2e2e2"/><ellipse cx="118.50" cy="60.50" rx="2.50" ry="1.65" fill="#b8b8b8"/><ellipse cx="123.80" cy="57.20" rx="2.60" ry="4.40" fill="#e2e2e2" transform="rotate(20.0 123.80 57.20)"/><ellipse cx="123.80" cy="57.20" rx="2.10" ry="3.90" fill="#b8b8b8" transform="rotate(20.0 123.80 57.20)"/><ellipse cx="123.80" cy="57.20" rx="1.68" ry="3.12" fill="#929292" transform="rotate(20.0 123.80 57.20)"/><ellipse cx="123.80" cy="57.20" rx="1.05" ry="1.95" fill="#6e6e6e" transform="rotate(20.0 123.80 57.20)"/><ellipse cx="126.30" cy="63.60" rx="2.30" ry="3.90" fill="#e2e2e2"/><ellipse cx="126.30" cy="63.60" rx="1.80" ry="3.40" fill="#b8b8b8"/><ellipse cx="126.30" cy="63.60" rx="1.44" ry="2.72" fill="#929292"/><ellipse cx="118.80" cy="72.10" rx="3.00" ry="4.80" fill="#e2e2e2" transform="rotate(15.0 118.80 72.10)"/><ellipse cx="118.80" cy="72.10" rx="2.50" ry="4.30" fill="#b8b8b8" transform="rotate(15.0 118.80 72.10)"/><ellipse cx="118.80" cy="72.10" rx="2.00" ry="3.44" fill="#929292" transform="rotate(15.0 118.80 72.10)"/><ellipse cx="103.80" cy="77.60" rx="2.75" ry="3.50" fill="#e2e2e2"/><ellipse cx="103.80" cy="77.60" rx="2.25" ry="3.00" fill="#b8b8b8"/><ellipse cx="103.80" cy="77.60" rx="1.80" ry="2.40" fill="#929292"/><ellipse cx="107.80" cy="79.00" rx="2.75" ry="3.50" fill="#e2e2e2"/><ellipse cx="107.80" cy="79.00" rx="2.25" ry="3.00" fill="#b8b8b8"/><ellipse cx="107.80" cy="79.00" rx="1.80" ry="2.40" fill="#929292"/><ellipse cx="105.80" cy="82.00" rx="3.50" ry="1.80" fill="#e2e2e2"/><ellipse cx="105.80" cy="82.00" rx="3.00" ry="1.30" fill="#b8b8b8"/><ellipse cx="114.00" cy="84.30" rx="2.50" ry="2.15" fill="#e2e2e2"/><ellipse cx="114.00" cy="84.30" rx="2.00" ry="1.65" fill="#b8b8b8"/><ellipse cx="123.50" cy="80.50" rx="2.50" ry="3.25" fill="#e2e2e2"/><ellipse cx="123.50" cy="80.50" rx="2.00" ry="2.75" fill="#b8b8b8"/><ellipse cx="123.50" cy="80.50" rx="1.60" ry="2.20" fill="#929292"/><ellipse cx="106.90" cy="94.40" rx="2.00" ry="2.30" fill="#e2e2e2"/><ellipse cx="106.90" cy="94.40" rx="1.50" ry="1.80" fill="#b8b8b8"/><ellipse cx="106.90" cy="94.40" rx="1.20" ry="1.44" fill="#929292"/><ellipse cx="118.40" cy="102.80" rx="2.75" ry="2.30" fill="#e2e2e2"/><ellipse cx="118.40" cy="102.80" rx="2.25" ry="1.80" fill="#b8b8b8"/><ellipse cx="132.20" cy="97.20" rx="1.70" ry="2.20" fill="#e2e2e2"/><ellipse cx="132.20" cy="97.20" rx="1.20" ry="1.70" fill="#b8b8b8"/><ellipse cx="136.00" cy="90.20" rx="2.20" ry="2.50" fill="#e2e2e2"/><ellipse cx="136.00" cy="90.20" rx="1.70" ry="2.00" fill="#b8b8b8"/><ellipse cx="136.00" cy="90.20" rx="1.36" ry="1.60" fill="#929292"/><ellipse cx="113.80" cy="85.00" rx="2.00" ry="1.80" fill="#e2e2e2"/><ellipse cx="113.80" cy="85.00" rx="1.50" ry="1.30" fill="#b8b8b8"/><ellipse cx="97.00" cy="88.50" rx="1.50" ry="1.50" fill="#e2e2e2"/><ellipse cx="97.00" cy="88.50" rx="1.00" ry="1.00" fill="#b8b8b8"/><ellipse cx="178.00" cy="54.50" rx="2.50" ry="2.30" fill="#e2e2e2"/><ellipse cx="178.00" cy="54.50" rx="2.00" ry="1.80" fill="#b8b8b8"/><ellipse cx="176.00" cy="51.50" rx="1.50" ry="1.50" fill="#e2e2e2"/><ellipse cx="176.00" cy="51.50" rx="1.00" ry="1.00" fill="#b8b8b8"/><ellipse cx="140.20" cy="64.00" rx="4.70" ry="4.20" fill="#e2e2e2"/><ellipse cx="140.20" cy="64.00" rx="4.20" ry="3.70" fill="#b8b8b8"/><ellipse cx="140.20" cy="64.00" rx="3.36" ry="2.96" fill="#929292"/><ellipse cx="140.20" cy="64.00" rx="2.10" ry="1.85" fill="#6e6e6e"/><ellipse cx="161.00" cy="78.00" rx="4.30" ry="3.80" fill="#e2e2e2" transform="rotate(-10.0 161.00 78.00)"/><ellipse cx="161.00" cy="78.00" rx="3.80" ry="3.30" fill="#b8b8b8" transform="rotate(-10.0 161.00 78.00)"/><ellipse cx="161.00" cy="78.00" rx="3.04" ry="2.64" fill="#929292" transform="rotate(-10.0 161.00 78.00)"/><ellipse cx="161.00" cy="78.00" rx="1.90" ry="1.65" fill="#6e6e6e" transform="rotate(-10.0 161.00 78.00)"/><ellipse cx="161.00" cy="78.00" rx="0.76" ry="0.66" fill="#4e4e4e" transform="rotate(-10.0 161.00 78.00)"/><ellipse cx="166.20" cy="71.40" rx="3.80" ry="2.80" fill="#e2e2e2" transform="rotate(-10.0 166.20 71.40)"/><ellipse cx="166.20" cy="71.40" rx="3.30" ry="2.30" fill="#b8b8b8" transform="rotate(-10.0 166.20 71.40)"/><ellipse cx="166.20" cy="71.40" rx="2.64" ry="1.84" fill="#929292" transform="rotate(-10.0 166.20 71.40)"/><ellipse cx="140.00" cy="70.50" rx="4.50" ry="3.00" fill="#e2e2e2"/><ellipse cx="140.00" cy="70.50" rx="4.00" ry="2.50" fill="#b8b8b8"/><ellipse cx="147.50" cy="66.00" rx="3.50" ry="3.50" fill="#e2e2e2"/><ellipse cx="147.50" cy="66.00" rx="3.00" ry="3.00" fill="#b8b8b8"/><ellipse cx="146.00" cy="57.50" rx="2.50" ry="2.50" fill="#e2e2e2"/><ellipse cx="146.00" cy="57.50" rx="2.00" ry="2.00" fill="#b8b8b8"/><ellipse cx="157.00" cy="58.50" rx="3.00" ry="3.50" fill="#e2e2e2"/><ellipse cx="157.00" cy="58.50" rx="2.50" ry="3.00" fill="#b8b8b8"/><ellipse cx="150.50" cy="74.00" rx="3.00" ry="2.50" fill="#e2e2e2"/><ellipse cx="150.50" cy="74.00" rx="2.50" ry="2.00" fill="#b8b8b8"/><ellipse cx="144.50" cy="77.50" rx="2.50" ry="2.00" fill="#e2e2e2"/><ellipse cx="144.50" cy="77.50" rx="2.00" ry="1.50" fill="#b8b8b8"/><ellipse cx="168.00" cy="64.50" rx="3.50" ry="3.50" fill="#e2e2e2"/><ellipse cx="168.00" cy="64.50" rx="3.00" ry="3.00" fill="#b8b8b8"/><ellipse cx="172.00" cy="58.00" rx="2.00" ry="2.00" fill="#e2e2e2"/><ellipse cx="172.00" cy="58.00" rx="1.50" ry="1.50" fill="#b8b8b8"/><ellipse cx="180.60" cy="72.30" rx="2.30" ry="2.00" fill="#e2e2e2"/><ellipse cx="180.60" cy="72.30" rx="1.80" ry="1.50" fill="#b8b8b8"/><ellipse cx="173.50" cy="69.00" rx="2.25" ry="2.00" fill="#e2e2e2"/><ellipse cx="173.50" cy="69.00" rx="1.75" ry="1.50" fill="#b8b8b8"/><ellipse cx="131.00" cy="80.00" rx="2.00" ry="2.00" fill="#e2e2e2"/><ellipse cx="131.00" cy="80.00" rx="1.50" ry="1.50" fill="#b8b8b8"/><ellipse cx="135.80" cy="90.20" rx="2.10" ry="2.40" fill="#e2e2e2"/><ellipse cx="135.80" cy="90.20" rx="1.60" ry="1.90" fill="#b8b8b8"/><ellipse cx="163.70" cy="94.30" rx="2.20" ry="2.10" fill="#e2e2e2"/><ellipse cx="163.70" cy="94.30" rx="1.70" ry="1.60" fill="#b8b8b8"/><ellipse cx="142.80" cy="114.00" rx="3.00" ry="1.90" fill="#e2e2e2"/><ellipse cx="142.80" cy="114.00" rx="2.50" ry="1.40" fill="#b8b8b8"/><ellipse cx="166.00" cy="117.00" rx="2.20" ry="2.60" fill="#e2e2e2"/><ellipse cx="166.00" cy="117.00" rx="1.70" ry="2.10" fill="#b8b8b8"/><ellipse cx="166.00" cy="117.00" rx="1.36" ry="1.68" fill="#929292"/><ellipse cx="170.00" cy="116.20" rx="2.20" ry="2.60" fill="#e2e2e2"/><ellipse cx="170.00" cy="116.20" rx="1.70" ry="2.10" fill="#b8b8b8"/><ellipse cx="170.00" cy="116.20" rx="1.36" ry="1.68" fill="#929292"/><ellipse cx="174.50" cy="115.00" rx="2.20" ry="2.50" fill="#e2e2e2"/><ellipse cx="174.50" cy="115.00" rx="1.70" ry="2.00" fill="#b8b8b8"/><ellipse cx="163.50" cy="133.80" rx="3.30" ry="1.50" fill="#e2e2e2"/><ellipse cx="163.50" cy="133.80" rx="2.80" ry="1.00" fill="#b8b8b8"/><ellipse cx="133.20" cy="154.20" rx="1.80" ry="1.50" fill="#e2e2e2"/><ellipse cx="133.20" cy="154.20" rx="1.30" ry="1.00" fill="#b8b8b8"/><ellipse cx="140.60" cy="152.60" rx="1.50" ry="1.50" fill="#e2e2e2"/><ellipse cx="140.60" cy="152.60" rx="1.00" ry="1.00" fill="#b8b8b8"/><ellipse cx="182.00" cy="179.50" rx="2.00" ry="1.50" fill="#e2e2e2"/><ellipse cx="182.00" cy="179.50" rx="1.50" ry="1.00" fill="#b8b8b8"/><ellipse cx="33.00" cy="133.20" rx="1.50" ry="1.70" fill="#e2e2e2"/><ellipse cx="33.00" cy="133.20" rx="1.00" ry="1.20" fill="#b8b8b8"/><ellipse cx="106.00" cy="144.80" rx="1.50" ry="1.60" fill="#e2e2e2"/><ellipse cx="106.00" cy="144.80" rx="1.00" ry="1.10" fill="#b8b8b8"/><g transform="translate(91.80 45.80) rotate(-8) skewX(0)"><rect x="-4.80" y="-3.90" width="9.60" height="7.80" rx="1.4" fill="#e2e2e2"/><rect x="-4.20" y="-3.30" width="8.40" height="6.60" rx="1.0" fill="#b8b8b8"/><rect x="-3.70" y="-2.51" width="1.68" height="5.02" rx="0.5" fill="#929292"/><rect x="-0.90" y="-2.51" width="1.68" height="5.02" rx="0.5" fill="#929292"/><rect x="1.90" y="-2.51" width="1.68" height="5.02" rx="0.5" fill="#929292"/></g><g transform="translate(165.20 46.60) rotate(0) skewX(0)"><rect x="-7.10" y="-4.60" width="14.20" height="9.20" rx="1.4" fill="#e2e2e2"/><rect x="-6.50" y="-4.00" width="13.00" height="8.00" rx="1.0" fill="#b8b8b8"/><rect x="-6.03" y="-3.04" width="1.56" height="6.08" rx="0.5" fill="#a6a6a6"/><rect x="-3.43" y="-3.04" width="1.56" height="6.08" rx="0.5" fill="#a6a6a6"/><rect x="-0.83" y="-3.04" width="1.56" height="6.08" rx="0.5" fill="#a6a6a6"/><rect x="1.77" y="-3.04" width="1.56" height="6.08" rx="0.5" fill="#a6a6a6"/><rect x="4.37" y="-3.04" width="1.56" height="6.08" rx="0.5" fill="#a6a6a6"/></g><g transform="translate(183.20 59.60) rotate(0) skewX(0)"><rect x="-5.30" y="-5.90" width="10.60" height="11.80" rx="1.4" fill="#e2e2e2"/><rect x="-4.70" y="-5.30" width="9.40" height="10.60" rx="1.0" fill="#b8b8b8"/><rect x="-4.28" y="-4.03" width="1.41" height="8.06" rx="0.5" fill="#929292"/><rect x="-1.93" y="-4.03" width="1.41" height="8.06" rx="0.5" fill="#929292"/><rect x="0.42" y="-4.03" width="1.41" height="8.06" rx="0.5" fill="#929292"/><rect x="2.77" y="-4.03" width="1.41" height="8.06" rx="0.5" fill="#929292"/></g><g transform="translate(147.70 94.10) rotate(-10) skewX(-20)"><rect x="-4.80" y="-3.00" width="9.60" height="6.00" rx="1.4" fill="#e2e2e2"/><rect x="-4.20" y="-2.40" width="8.40" height="4.80" rx="1.0" fill="#b8b8b8"/><rect x="-3.70" y="-1.82" width="1.68" height="3.65" rx="0.5" fill="#929292"/><rect x="-0.90" y="-1.82" width="1.68" height="3.65" rx="0.5" fill="#929292"/><rect x="1.90" y="-1.82" width="1.68" height="3.65" rx="0.5" fill="#929292"/></g><g transform="translate(159.90 88.80) rotate(-8) skewX(-20)"><rect x="-3.80" y="-2.60" width="7.60" height="5.20" rx="1.4" fill="#e2e2e2"/><rect x="-3.20" y="-2.00" width="6.40" height="4.00" rx="1.0" fill="#b8b8b8"/><rect x="-2.82" y="-1.52" width="1.28" height="3.04" rx="0.5" fill="#929292"/><rect x="-0.68" y="-1.52" width="1.28" height="3.04" rx="0.5" fill="#929292"/><rect x="1.45" y="-1.52" width="1.28" height="3.04" rx="0.5" fill="#929292"/></g><g transform="translate(167.60 90.00) rotate(-8) skewX(-20)"><rect x="-3.80" y="-2.70" width="7.60" height="5.40" rx="1.4" fill="#e2e2e2"/><rect x="-3.20" y="-2.10" width="6.40" height="4.20" rx="1.0" fill="#929292"/><rect x="-2.82" y="-1.60" width="1.28" height="3.19" rx="0.5" fill="#6e6e6e"/><rect x="-0.68" y="-1.60" width="1.28" height="3.19" rx="0.5" fill="#6e6e6e"/><rect x="1.45" y="-1.60" width="1.28" height="3.19" rx="0.5" fill="#6e6e6e"/></g><g transform="translate(139.70 103.00) rotate(-6) skewX(-20)"><rect x="-4.90" y="-2.90" width="9.80" height="5.80" rx="1.4" fill="#e2e2e2"/><rect x="-4.30" y="-2.30" width="8.60" height="4.60" rx="1.0" fill="#b8b8b8"/><rect x="-3.78" y="-1.75" width="1.72" height="3.50" rx="0.5" fill="#929292"/><rect x="-0.92" y="-1.75" width="1.72" height="3.50" rx="0.5" fill="#929292"/><rect x="1.95" y="-1.75" width="1.72" height="3.50" rx="0.5" fill="#929292"/></g><g transform="translate(162.00 101.60) rotate(-6) skewX(-20)"><rect x="-4.60" y="-2.70" width="9.20" height="5.40" rx="1.4" fill="#e2e2e2"/><rect x="-4.00" y="-2.10" width="8.00" height="4.20" rx="1.0" fill="#b8b8b8"/><rect x="-3.52" y="-1.60" width="1.60" height="3.19" rx="0.5" fill="#929292"/><rect x="-0.85" y="-1.60" width="1.60" height="3.19" rx="0.5" fill="#929292"/><rect x="1.81" y="-1.60" width="1.60" height="3.19" rx="0.5" fill="#929292"/></g><g transform="translate(183.20 114.00) rotate(-8) skewX(-15)"><rect x="-4.90" y="-4.40" width="9.80" height="8.80" rx="1.4" fill="#e2e2e2"/><rect x="-4.30" y="-3.80" width="8.60" height="7.60" rx="1.0" fill="#929292"/><rect x="-3.91" y="-2.89" width="1.29" height="5.78" rx="0.5" fill="#6e6e6e"/><rect x="-1.76" y="-2.89" width="1.29" height="5.78" rx="0.5" fill="#6e6e6e"/><rect x="0.39" y="-2.89" width="1.29" height="5.78" rx="0.5" fill="#6e6e6e"/><rect x="2.54" y="-2.89" width="1.29" height="5.78" rx="0.5" fill="#6e6e6e"/></g><g transform="translate(162.90 145.90) rotate(-10) skewX(-30)"><rect x="-5.70" y="-4.20" width="11.40" height="8.40" rx="1.4" fill="#e2e2e2"/><rect x="-5.10" y="-3.60" width="10.20" height="7.20" rx="1.0" fill="#929292"/><rect x="-4.64" y="-2.74" width="1.53" height="5.47" rx="0.5" fill="#6e6e6e"/><rect x="-2.09" y="-2.74" width="1.53" height="5.47" rx="0.5" fill="#6e6e6e"/><rect x="0.46" y="-2.74" width="1.53" height="5.47" rx="0.5" fill="#6e6e6e"/><rect x="3.01" y="-2.74" width="1.53" height="5.47" rx="0.5" fill="#6e6e6e"/><rect x="-3.06" y="-1.44" width="6.12" height="2.88" rx="0.6" fill="#6e6e6e"/></g><g transform="translate(156.20 158.60) rotate(-8) skewX(-30)"><rect x="-4.50" y="-3.30" width="9.00" height="6.60" rx="1.4" fill="#e2e2e2"/><rect x="-3.90" y="-2.70" width="7.80" height="5.40" rx="1.0" fill="#929292"/><rect x="-3.43" y="-2.05" width="1.56" height="4.10" rx="0.5" fill="#6e6e6e"/><rect x="-0.83" y="-2.05" width="1.56" height="4.10" rx="0.5" fill="#6e6e6e"/><rect x="1.77" y="-2.05" width="1.56" height="4.10" rx="0.5" fill="#6e6e6e"/><rect x="-2.34" y="-1.08" width="4.68" height="2.16" rx="0.6" fill="#6e6e6e"/></g></g></g><line x1="340.5" y1="311.0" x2="542" y2="311.0" stroke="#444" stroke-width="0.9"/><line x1="346.20" y1="311.0" x2="346.20" y2="312.3" stroke="#444" stroke-width="0.7"/><text x="346.20" y="320.6" text-anchor="middle" font-family="Liberation Serif, serif" font-size="7.0" fill="#1a1a1a">5.2</text><line x1="368.60" y1="311.0" x2="368.60" y2="312.3" stroke="#444" stroke-width="0.7"/><text x="368.60" y="320.6" text-anchor="middle" font-family="Liberation Serif, serif" font-size="7.0" fill="#1a1a1a">5.0</text><line x1="391.00" y1="311.0" x2="391.00" y2="312.3" stroke="#444" stroke-width="0.7"/><text x="391.00" y="320.6" text-anchor="middle" font-family="Liberation Serif, serif" font-size="7.0" fill="#1a1a1a">4.8</text><line x1="413.40" y1="311.0" x2="413.40" y2="312.3" stroke="#444" stroke-width="0.7"/><text x="413.40" y="320.6" text-anchor="middle" font-family="Liberation Serif, serif" font-size="7.0" fill="#1a1a1a">4.6</text><line x1="435.80" y1="311.0" x2="435.80" y2="312.3" stroke="#444" stroke-width="0.7"/><text x="435.80" y="320.6" text-anchor="middle" font-family="Liberation Serif, serif" font-size="7.0" fill="#1a1a1a">4.4</text><line x1="458.20" y1="311.0" x2="458.20" y2="312.3" stroke="#444" stroke-width="0.7"/><text x="458.20" y="320.6" text-anchor="middle" font-family="Liberation Serif, serif" font-size="7.0" fill="#1a1a1a">4.2</text><line x1="480.60" y1="311.0" x2="480.60" y2="312.3" stroke="#444" stroke-width="0.7"/><text x="480.60" y="320.6" text-anchor="middle" font-family="Liberation Serif, serif" font-size="7.0" fill="#1a1a1a">4.0</text><line x1="503.00" y1="311.0" x2="503.00" y2="312.3" stroke="#444" stroke-width="0.7"/><text x="503.00" y="320.6" text-anchor="middle" font-family="Liberation Serif, serif" font-size="7.0" fill="#1a1a1a">3.8</text><line x1="525.40" y1="311.0" x2="525.40" y2="312.3" stroke="#444" stroke-width="0.7"/><text x="525.40" y="320.6" text-anchor="middle" font-family="Liberation Serif, serif" font-size="7.0" fill="#1a1a1a">3.6</text><text x="439.3" y="328.0" font-family="Liberation Serif, serif" font-size="7.0" fill="#1a1a1a">f</text><text x="447.6" y="328.0" font-family="Liberation Serif, serif" font-size="6.30" fill="#1a1a1a">(ppm)</text><text x="441.3" y="350.0" text-anchor="middle" font-family="Liberation Serif, serif" font-size="12.3" fill="#111">(<tspan font-weight="bold">B</tspan>)</text>
</svg>
</body></html>
